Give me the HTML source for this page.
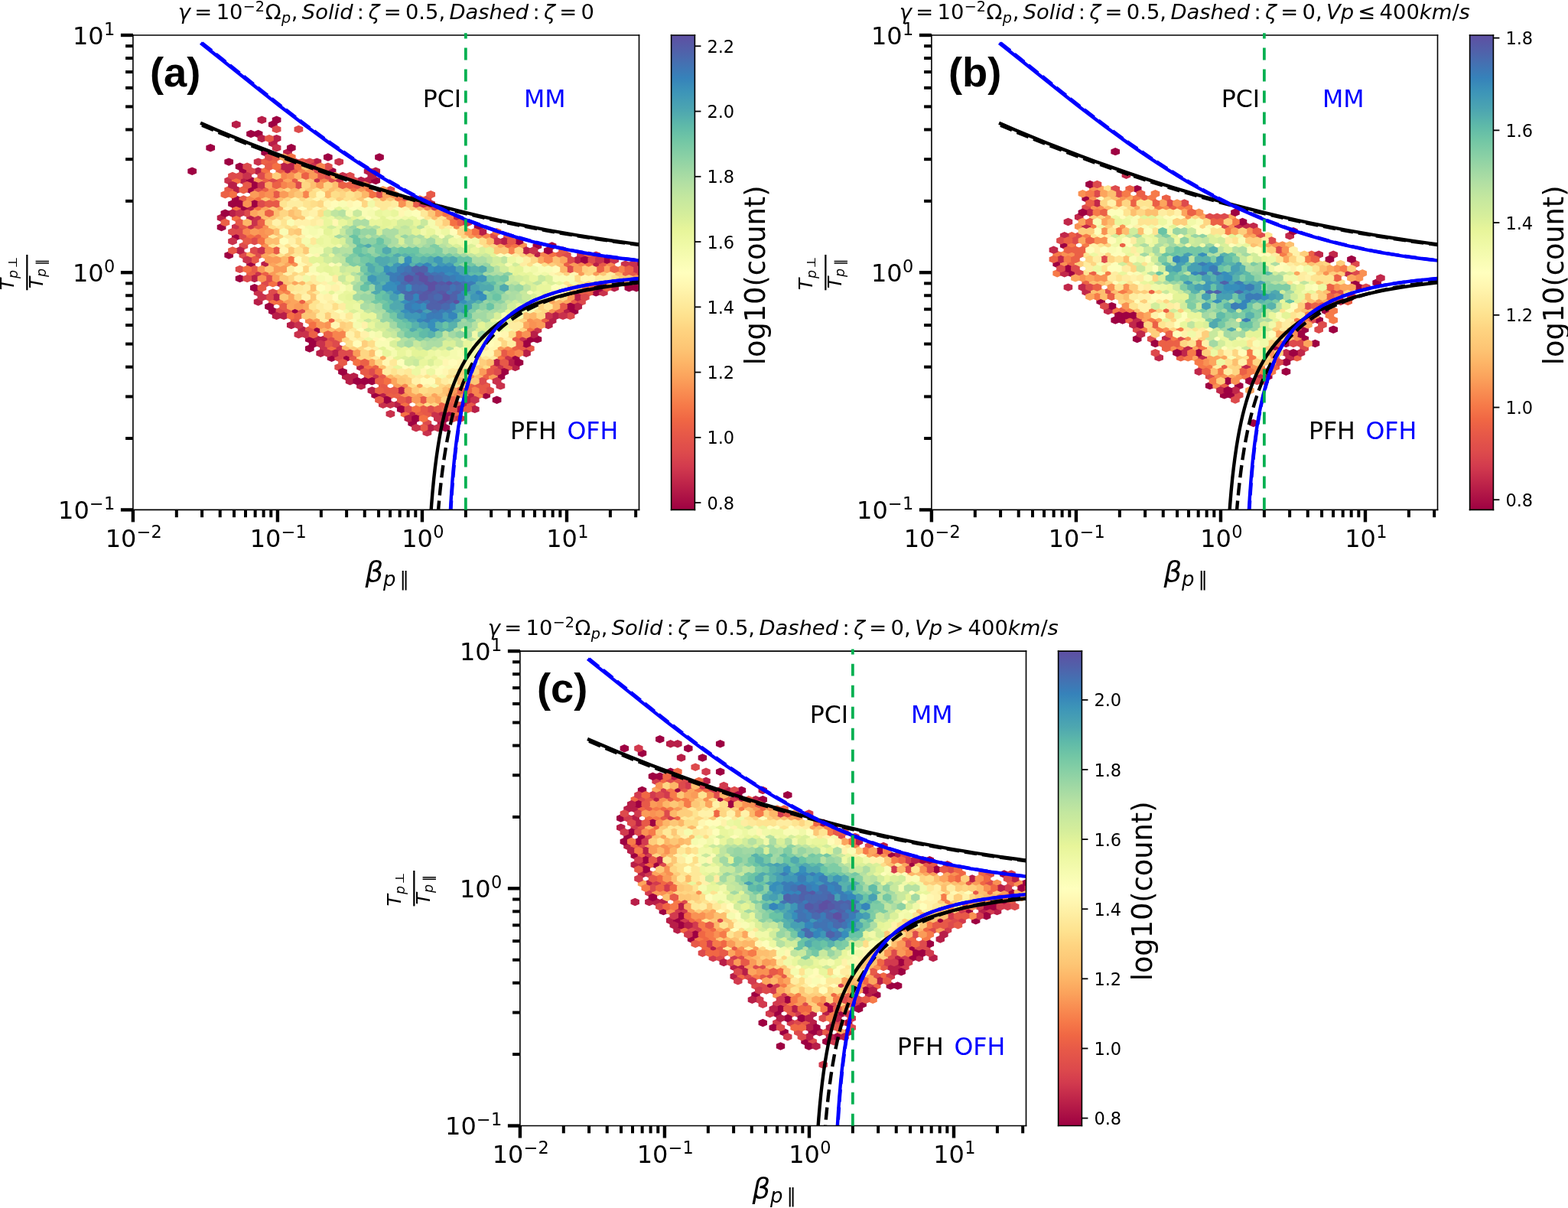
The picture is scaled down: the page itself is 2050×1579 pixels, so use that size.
<!DOCTYPE html><html><head><meta charset="utf-8"><style>html,body{margin:0;padding:0;background:#fff}svg{display:block}</style></head><body><svg xmlns="http://www.w3.org/2000/svg" xmlns:xlink="http://www.w3.org/1999/xlink" width="2050" height="1579" viewBox="0 0 2050 1579" version="1.1"> <defs><linearGradient id="cg_a" x1="0" y1="0" x2="0" y2="1"><stop offset="0" stop-color="#5e4fa2"/><stop offset="0.03" stop-color="#525fa9"/><stop offset="0.06" stop-color="#4471b2"/><stop offset="0.09" stop-color="#3682ba"/><stop offset="0.12" stop-color="#3d95b8"/><stop offset="0.16" stop-color="#4ea7b0"/><stop offset="0.19" stop-color="#5eb9a9"/><stop offset="0.22" stop-color="#71c6a5"/><stop offset="0.25" stop-color="#86cfa5"/><stop offset="0.28" stop-color="#9cd7a4"/><stop offset="0.31" stop-color="#b1dfa3"/><stop offset="0.34" stop-color="#c3e79f"/><stop offset="0.38" stop-color="#d6ee9b"/><stop offset="0.41" stop-color="#e7f59a"/><stop offset="0.44" stop-color="#eff9a6"/><stop offset="0.47" stop-color="#f7fcb2"/><stop offset="0.5" stop-color="#ffffbe"/><stop offset="0.53" stop-color="#fff6b0"/><stop offset="0.56" stop-color="#feec9f"/><stop offset="0.59" stop-color="#fee28f"/><stop offset="0.62" stop-color="#fed481"/><stop offset="0.66" stop-color="#fdc574"/><stop offset="0.69" stop-color="#fdb567"/><stop offset="0.72" stop-color="#fba35c"/><stop offset="0.75" stop-color="#f98e52"/><stop offset="0.78" stop-color="#f67a49"/><stop offset="0.81" stop-color="#f06744"/><stop offset="0.84" stop-color="#e75948"/><stop offset="0.88" stop-color="#dd4a4c"/><stop offset="0.91" stop-color="#d23a4e"/><stop offset="0.94" stop-color="#c1274a"/><stop offset="0.97" stop-color="#af1446"/><stop offset="1" stop-color="#9e0142"/></linearGradient><linearGradient id="cg_b" x1="0" y1="0" x2="0" y2="1"><stop offset="0" stop-color="#5e4fa2"/><stop offset="0.03" stop-color="#525fa9"/><stop offset="0.06" stop-color="#4471b2"/><stop offset="0.09" stop-color="#3682ba"/><stop offset="0.12" stop-color="#3d95b8"/><stop offset="0.16" stop-color="#4ea7b0"/><stop offset="0.19" stop-color="#5eb9a9"/><stop offset="0.22" stop-color="#71c6a5"/><stop offset="0.25" stop-color="#86cfa5"/><stop offset="0.28" stop-color="#9cd7a4"/><stop offset="0.31" stop-color="#b1dfa3"/><stop offset="0.34" stop-color="#c3e79f"/><stop offset="0.38" stop-color="#d6ee9b"/><stop offset="0.41" stop-color="#e7f59a"/><stop offset="0.44" stop-color="#eff9a6"/><stop offset="0.47" stop-color="#f7fcb2"/><stop offset="0.5" stop-color="#ffffbe"/><stop offset="0.53" stop-color="#fff6b0"/><stop offset="0.56" stop-color="#feec9f"/><stop offset="0.59" stop-color="#fee28f"/><stop offset="0.62" stop-color="#fed481"/><stop offset="0.66" stop-color="#fdc574"/><stop offset="0.69" stop-color="#fdb567"/><stop offset="0.72" stop-color="#fba35c"/><stop offset="0.75" stop-color="#f98e52"/><stop offset="0.78" stop-color="#f67a49"/><stop offset="0.81" stop-color="#f06744"/><stop offset="0.84" stop-color="#e75948"/><stop offset="0.88" stop-color="#dd4a4c"/><stop offset="0.91" stop-color="#d23a4e"/><stop offset="0.94" stop-color="#c1274a"/><stop offset="0.97" stop-color="#af1446"/><stop offset="1" stop-color="#9e0142"/></linearGradient><linearGradient id="cg_c" x1="0" y1="0" x2="0" y2="1"><stop offset="0" stop-color="#5e4fa2"/><stop offset="0.03" stop-color="#525fa9"/><stop offset="0.06" stop-color="#4471b2"/><stop offset="0.09" stop-color="#3682ba"/><stop offset="0.12" stop-color="#3d95b8"/><stop offset="0.16" stop-color="#4ea7b0"/><stop offset="0.19" stop-color="#5eb9a9"/><stop offset="0.22" stop-color="#71c6a5"/><stop offset="0.25" stop-color="#86cfa5"/><stop offset="0.28" stop-color="#9cd7a4"/><stop offset="0.31" stop-color="#b1dfa3"/><stop offset="0.34" stop-color="#c3e79f"/><stop offset="0.38" stop-color="#d6ee9b"/><stop offset="0.41" stop-color="#e7f59a"/><stop offset="0.44" stop-color="#eff9a6"/><stop offset="0.47" stop-color="#f7fcb2"/><stop offset="0.5" stop-color="#ffffbe"/><stop offset="0.53" stop-color="#fff6b0"/><stop offset="0.56" stop-color="#feec9f"/><stop offset="0.59" stop-color="#fee28f"/><stop offset="0.62" stop-color="#fed481"/><stop offset="0.66" stop-color="#fdc574"/><stop offset="0.69" stop-color="#fdb567"/><stop offset="0.72" stop-color="#fba35c"/><stop offset="0.75" stop-color="#f98e52"/><stop offset="0.78" stop-color="#f67a49"/><stop offset="0.81" stop-color="#f06744"/><stop offset="0.84" stop-color="#e75948"/><stop offset="0.88" stop-color="#dd4a4c"/><stop offset="0.91" stop-color="#d23a4e"/><stop offset="0.94" stop-color="#c1274a"/><stop offset="0.97" stop-color="#af1446"/><stop offset="1" stop-color="#9e0142"/></linearGradient><clipPath id="clip_a"><rect x="173.90" y="46.00" width="661.60" height="620.40"/></clipPath><path id="hxa" d="M1.219 -0.45 0 -0.85 -1.22 -0.45 -1.22 0.45 0 0.85 1.22 0.45z"/><marker id="ha0b81e48" overflow="visible"><use href="#hxa" fill="#b81e48"/></marker><marker id="ha09e0142" overflow="visible"><use href="#hxa" fill="#9e0142"/></marker><marker id="ha0c9314c" overflow="visible"><use href="#hxa" fill="#c9314c"/></marker><marker id="ha0eb6046" overflow="visible"><use href="#hxa" fill="#eb6046"/></marker><marker id="ha0f99153" overflow="visible"><use href="#hxa" fill="#f99153"/></marker><marker id="ha0e75948" overflow="visible"><use href="#hxa" fill="#e75948"/></marker><marker id="ha0dd4a4c" overflow="visible"><use href="#hxa" fill="#dd4a4c"/></marker><marker id="ha0f47044" overflow="visible"><use href="#hxa" fill="#f47044"/></marker><marker id="ha0f7844e" overflow="visible"><use href="#hxa" fill="#f7844e"/></marker><marker id="ha0fa9b58" overflow="visible"><use href="#hxa" fill="#fa9b58"/></marker><marker id="ha0fca55d" overflow="visible"><use href="#hxa" fill="#fca55d"/></marker><marker id="ha0fede89" overflow="visible"><use href="#hxa" fill="#fede89"/></marker><marker id="ha0fdc776" overflow="visible"><use href="#hxa" fill="#fdc776"/></marker><marker id="ha0fdbf6f" overflow="visible"><use href="#hxa" fill="#fdbf6f"/></marker><marker id="ha0fed683" overflow="visible"><use href="#hxa" fill="#fed683"/></marker><marker id="ha0fdb768" overflow="visible"><use href="#hxa" fill="#fdb768"/></marker><marker id="ha0fee491" overflow="visible"><use href="#hxa" fill="#fee491"/></marker><marker id="ha0fece7c" overflow="visible"><use href="#hxa" fill="#fece7c"/></marker><marker id="ha0fff2aa" overflow="visible"><use href="#hxa" fill="#fff2aa"/></marker><marker id="ha0fee999" overflow="visible"><use href="#hxa" fill="#fee999"/></marker><marker id="ha0fff7b2" overflow="visible"><use href="#hxa" fill="#fff7b2"/></marker><marker id="ha0feeda1" overflow="visible"><use href="#hxa" fill="#feeda1"/></marker><marker id="ha0fffcba" overflow="visible"><use href="#hxa" fill="#fffcba"/></marker><marker id="ha0e4f498" overflow="visible"><use href="#hxa" fill="#e4f498"/></marker><marker id="ha0f1f9a9" overflow="visible"><use href="#hxa" fill="#f1f9a9"/></marker><marker id="ha0fdfebb" overflow="visible"><use href="#hxa" fill="#fdfebb"/></marker><marker id="ha0f9fcb5" overflow="visible"><use href="#hxa" fill="#f9fcb5"/></marker><marker id="ha0e9f69d" overflow="visible"><use href="#hxa" fill="#e9f69d"/></marker><marker id="ha0edf8a3" overflow="visible"><use href="#hxa" fill="#edf8a3"/></marker><marker id="ha0d1ed9c" overflow="visible"><use href="#hxa" fill="#d1ed9c"/></marker><marker id="ha0c8e99e" overflow="visible"><use href="#hxa" fill="#c8e99e"/></marker><marker id="ha0f5fbaf" overflow="visible"><use href="#hxa" fill="#f5fbaf"/></marker><marker id="ha0b5e1a2" overflow="visible"><use href="#hxa" fill="#b5e1a2"/></marker><marker id="ha097d5a4" overflow="visible"><use href="#hxa" fill="#97d5a4"/></marker><marker id="ha0daf09a" overflow="visible"><use href="#hxa" fill="#daf09a"/></marker><marker id="ha0bfe5a0" overflow="visible"><use href="#hxa" fill="#bfe5a0"/></marker><marker id="ha0a2d9a4" overflow="visible"><use href="#hxa" fill="#a2d9a4"/></marker><marker id="ha069c3a5" overflow="visible"><use href="#hxa" fill="#69c3a5"/></marker><marker id="ha0acdda4" overflow="visible"><use href="#hxa" fill="#acdda4"/></marker><marker id="ha060bba8" overflow="visible"><use href="#hxa" fill="#60bba8"/></marker><marker id="ha050a9af" overflow="visible"><use href="#hxa" fill="#50a9af"/></marker><marker id="ha074c7a5" overflow="visible"><use href="#hxa" fill="#74c7a5"/></marker><marker id="ha07ecca5" overflow="visible"><use href="#hxa" fill="#7ecca5"/></marker><marker id="ha08cd1a4" overflow="visible"><use href="#hxa" fill="#8cd1a4"/></marker><marker id="ha058b2ac" overflow="visible"><use href="#hxa" fill="#58b2ac"/></marker><marker id="ha03f97b7" overflow="visible"><use href="#hxa" fill="#3f97b7"/></marker><marker id="ha03585bb" overflow="visible"><use href="#hxa" fill="#3585bb"/></marker><marker id="ha03b7cb7" overflow="visible"><use href="#hxa" fill="#3b7cb7"/></marker><marker id="ha0496aaf" overflow="visible"><use href="#hxa" fill="#496aaf"/></marker><marker id="ha05e4fa2" overflow="visible"><use href="#hxa" fill="#5e4fa2"/></marker><marker id="ha04273b3" overflow="visible"><use href="#hxa" fill="#4273b3"/></marker><marker id="ha0378ebb" overflow="visible"><use href="#hxa" fill="#378ebb"/></marker><marker id="ha047a0b3" overflow="visible"><use href="#hxa" fill="#47a0b3"/></marker><marker id="ha05061aa" overflow="visible"><use href="#hxa" fill="#5061aa"/></marker><marker id="ha05758a6" overflow="visible"><use href="#hxa" fill="#5758a6"/></marker><marker id="ha1b81e48" overflow="visible"><use href="#hxa" fill="#b81e48"/></marker><marker id="ha19e0142" overflow="visible"><use href="#hxa" fill="#9e0142"/></marker><marker id="ha1dd4a4c" overflow="visible"><use href="#hxa" fill="#dd4a4c"/></marker><marker id="ha1e75948" overflow="visible"><use href="#hxa" fill="#e75948"/></marker><marker id="ha1c9314c" overflow="visible"><use href="#hxa" fill="#c9314c"/></marker><marker id="ha1fca55d" overflow="visible"><use href="#hxa" fill="#fca55d"/></marker><marker id="ha1f47044" overflow="visible"><use href="#hxa" fill="#f47044"/></marker><marker id="ha1fdbf6f" overflow="visible"><use href="#hxa" fill="#fdbf6f"/></marker><marker id="ha1f7844e" overflow="visible"><use href="#hxa" fill="#f7844e"/></marker><marker id="ha1fece7c" overflow="visible"><use href="#hxa" fill="#fece7c"/></marker><marker id="ha1f99153" overflow="visible"><use href="#hxa" fill="#f99153"/></marker><marker id="ha1fdb768" overflow="visible"><use href="#hxa" fill="#fdb768"/></marker><marker id="ha1eb6046" overflow="visible"><use href="#hxa" fill="#eb6046"/></marker><marker id="ha1fa9b58" overflow="visible"><use href="#hxa" fill="#fa9b58"/></marker><marker id="ha1fed683" overflow="visible"><use href="#hxa" fill="#fed683"/></marker><marker id="ha1fdc776" overflow="visible"><use href="#hxa" fill="#fdc776"/></marker><marker id="ha1fede89" overflow="visible"><use href="#hxa" fill="#fede89"/></marker><marker id="ha1fff7b2" overflow="visible"><use href="#hxa" fill="#fff7b2"/></marker><marker id="ha1fee491" overflow="visible"><use href="#hxa" fill="#fee491"/></marker><marker id="ha1feeda1" overflow="visible"><use href="#hxa" fill="#feeda1"/></marker><marker id="ha1fffcba" overflow="visible"><use href="#hxa" fill="#fffcba"/></marker><marker id="ha1f9fcb5" overflow="visible"><use href="#hxa" fill="#f9fcb5"/></marker><marker id="ha1f1f9a9" overflow="visible"><use href="#hxa" fill="#f1f9a9"/></marker><marker id="ha1fee999" overflow="visible"><use href="#hxa" fill="#fee999"/></marker><marker id="ha1fff2aa" overflow="visible"><use href="#hxa" fill="#fff2aa"/></marker><marker id="ha1daf09a" overflow="visible"><use href="#hxa" fill="#daf09a"/></marker><marker id="ha1bfe5a0" overflow="visible"><use href="#hxa" fill="#bfe5a0"/></marker><marker id="ha1b5e1a2" overflow="visible"><use href="#hxa" fill="#b5e1a2"/></marker><marker id="ha1f5fbaf" overflow="visible"><use href="#hxa" fill="#f5fbaf"/></marker><marker id="ha1c8e99e" overflow="visible"><use href="#hxa" fill="#c8e99e"/></marker><marker id="ha1e9f69d" overflow="visible"><use href="#hxa" fill="#e9f69d"/></marker><marker id="ha1edf8a3" overflow="visible"><use href="#hxa" fill="#edf8a3"/></marker><marker id="ha1fdfebb" overflow="visible"><use href="#hxa" fill="#fdfebb"/></marker><marker id="ha1acdda4" overflow="visible"><use href="#hxa" fill="#acdda4"/></marker><marker id="ha1e4f498" overflow="visible"><use href="#hxa" fill="#e4f498"/></marker><marker id="ha1d1ed9c" overflow="visible"><use href="#hxa" fill="#d1ed9c"/></marker><marker id="ha1a2d9a4" overflow="visible"><use href="#hxa" fill="#a2d9a4"/></marker><marker id="ha17ecca5" overflow="visible"><use href="#hxa" fill="#7ecca5"/></marker><marker id="ha197d5a4" overflow="visible"><use href="#hxa" fill="#97d5a4"/></marker><marker id="ha169c3a5" overflow="visible"><use href="#hxa" fill="#69c3a5"/></marker><marker id="ha18cd1a4" overflow="visible"><use href="#hxa" fill="#8cd1a4"/></marker><marker id="ha174c7a5" overflow="visible"><use href="#hxa" fill="#74c7a5"/></marker><marker id="ha150a9af" overflow="visible"><use href="#hxa" fill="#50a9af"/></marker><marker id="ha158b2ac" overflow="visible"><use href="#hxa" fill="#58b2ac"/></marker><marker id="ha1378ebb" overflow="visible"><use href="#hxa" fill="#378ebb"/></marker><marker id="ha160bba8" overflow="visible"><use href="#hxa" fill="#60bba8"/></marker><marker id="ha13f97b7" overflow="visible"><use href="#hxa" fill="#3f97b7"/></marker><marker id="ha13b7cb7" overflow="visible"><use href="#hxa" fill="#3b7cb7"/></marker><marker id="ha14273b3" overflow="visible"><use href="#hxa" fill="#4273b3"/></marker><marker id="ha15061aa" overflow="visible"><use href="#hxa" fill="#5061aa"/></marker><marker id="ha13585bb" overflow="visible"><use href="#hxa" fill="#3585bb"/></marker><marker id="ha147a0b3" overflow="visible"><use href="#hxa" fill="#47a0b3"/></marker><marker id="ha15e4fa2" overflow="visible"><use href="#hxa" fill="#5e4fa2"/></marker><marker id="ha1496aaf" overflow="visible"><use href="#hxa" fill="#496aaf"/></marker><marker id="ha15758a6" overflow="visible"><use href="#hxa" fill="#5758a6"/></marker><clipPath id="clip_b"><rect x="1217.90" y="46.00" width="661.60" height="620.40"/></clipPath><path id="hxb" d="M1.221 -0.45 0 -0.85 -1.22 -0.45 -1.22 0.45 0 0.85 1.22 0.45z"/><marker id="hb09e0142" overflow="visible"><use href="#hxb" fill="#9e0142"/></marker><marker id="hb0f99153" overflow="visible"><use href="#hxb" fill="#f99153"/></marker><marker id="hb0fca55d" overflow="visible"><use href="#hxb" fill="#fca55d"/></marker><marker id="hb0fee491" overflow="visible"><use href="#hxb" fill="#fee491"/></marker><marker id="hb0dd4a4c" overflow="visible"><use href="#hxb" fill="#dd4a4c"/></marker><marker id="hb0eb6046" overflow="visible"><use href="#hxb" fill="#eb6046"/></marker><marker id="hb0fffcba" overflow="visible"><use href="#hxb" fill="#fffcba"/></marker><marker id="hb0fed683" overflow="visible"><use href="#hxb" fill="#fed683"/></marker><marker id="hb0fdbf6f" overflow="visible"><use href="#hxb" fill="#fdbf6f"/></marker><marker id="hb0f67a49" overflow="visible"><use href="#hxb" fill="#f67a49"/></marker><marker id="hb0fff2aa" overflow="visible"><use href="#hxb" fill="#fff2aa"/></marker><marker id="hb0feeda1" overflow="visible"><use href="#hxb" fill="#feeda1"/></marker><marker id="hb0c1274a" overflow="visible"><use href="#hxb" fill="#c1274a"/></marker><marker id="hb0fece7c" overflow="visible"><use href="#hxb" fill="#fece7c"/></marker><marker id="hb0edf8a3" overflow="visible"><use href="#hxb" fill="#edf8a3"/></marker><marker id="hb0f1f9a9" overflow="visible"><use href="#hxb" fill="#f1f9a9"/></marker><marker id="hb0f9fcb5" overflow="visible"><use href="#hxb" fill="#f9fcb5"/></marker><marker id="hb0e4f498" overflow="visible"><use href="#hxb" fill="#e4f498"/></marker><marker id="hb0fdfebb" overflow="visible"><use href="#hxb" fill="#fdfebb"/></marker><marker id="hb0d1ed9c" overflow="visible"><use href="#hxb" fill="#d1ed9c"/></marker><marker id="hb0c8e99e" overflow="visible"><use href="#hxb" fill="#c8e99e"/></marker><marker id="hb0a2d9a4" overflow="visible"><use href="#hxb" fill="#a2d9a4"/></marker><marker id="hb0e9f69d" overflow="visible"><use href="#hxb" fill="#e9f69d"/></marker><marker id="hb0acdda4" overflow="visible"><use href="#hxb" fill="#acdda4"/></marker><marker id="hb07ecca5" overflow="visible"><use href="#hxb" fill="#7ecca5"/></marker><marker id="hb0daf09a" overflow="visible"><use href="#hxb" fill="#daf09a"/></marker><marker id="hb097d5a4" overflow="visible"><use href="#hxb" fill="#97d5a4"/></marker><marker id="hb08cd1a4" overflow="visible"><use href="#hxb" fill="#8cd1a4"/></marker><marker id="hb0bfe5a0" overflow="visible"><use href="#hxb" fill="#bfe5a0"/></marker><marker id="hb069c3a5" overflow="visible"><use href="#hxb" fill="#69c3a5"/></marker><marker id="hb074c7a5" overflow="visible"><use href="#hxb" fill="#74c7a5"/></marker><marker id="hb047a0b3" overflow="visible"><use href="#hxb" fill="#47a0b3"/></marker><marker id="hb0378ebb" overflow="visible"><use href="#hxb" fill="#378ebb"/></marker><marker id="hb0b5e1a2" overflow="visible"><use href="#hxb" fill="#b5e1a2"/></marker><marker id="hb058b2ac" overflow="visible"><use href="#hxb" fill="#58b2ac"/></marker><marker id="hb060bba8" overflow="visible"><use href="#hxb" fill="#60bba8"/></marker><marker id="hb03b7cb7" overflow="visible"><use href="#hxb" fill="#3b7cb7"/></marker><marker id="hb03f97b7" overflow="visible"><use href="#hxb" fill="#3f97b7"/></marker><marker id="hb03585bb" overflow="visible"><use href="#hxb" fill="#3585bb"/></marker><marker id="hb04273b3" overflow="visible"><use href="#hxb" fill="#4273b3"/></marker><marker id="hb050a9af" overflow="visible"><use href="#hxb" fill="#50a9af"/></marker><marker id="hb05061aa" overflow="visible"><use href="#hxb" fill="#5061aa"/></marker><marker id="hb0496aaf" overflow="visible"><use href="#hxb" fill="#496aaf"/></marker><marker id="hb1c1274a" overflow="visible"><use href="#hxb" fill="#c1274a"/></marker><marker id="hb19e0142" overflow="visible"><use href="#hxb" fill="#9e0142"/></marker><marker id="hb1dd4a4c" overflow="visible"><use href="#hxb" fill="#dd4a4c"/></marker><marker id="hb1f99153" overflow="visible"><use href="#hxb" fill="#f99153"/></marker><marker id="hb1f67a49" overflow="visible"><use href="#hxb" fill="#f67a49"/></marker><marker id="hb1fca55d" overflow="visible"><use href="#hxb" fill="#fca55d"/></marker><marker id="hb1fdbf6f" overflow="visible"><use href="#hxb" fill="#fdbf6f"/></marker><marker id="hb1eb6046" overflow="visible"><use href="#hxb" fill="#eb6046"/></marker><marker id="hb1fed683" overflow="visible"><use href="#hxb" fill="#fed683"/></marker><marker id="hb1fff2aa" overflow="visible"><use href="#hxb" fill="#fff2aa"/></marker><marker id="hb1fee491" overflow="visible"><use href="#hxb" fill="#fee491"/></marker><marker id="hb1fdfebb" overflow="visible"><use href="#hxb" fill="#fdfebb"/></marker><marker id="hb1feeda1" overflow="visible"><use href="#hxb" fill="#feeda1"/></marker><marker id="hb1f9fcb5" overflow="visible"><use href="#hxb" fill="#f9fcb5"/></marker><marker id="hb1e9f69d" overflow="visible"><use href="#hxb" fill="#e9f69d"/></marker><marker id="hb1edf8a3" overflow="visible"><use href="#hxb" fill="#edf8a3"/></marker><marker id="hb1fece7c" overflow="visible"><use href="#hxb" fill="#fece7c"/></marker><marker id="hb1f1f9a9" overflow="visible"><use href="#hxb" fill="#f1f9a9"/></marker><marker id="hb1d1ed9c" overflow="visible"><use href="#hxb" fill="#d1ed9c"/></marker><marker id="hb169c3a5" overflow="visible"><use href="#hxb" fill="#69c3a5"/></marker><marker id="hb197d5a4" overflow="visible"><use href="#hxb" fill="#97d5a4"/></marker><marker id="hb1a2d9a4" overflow="visible"><use href="#hxb" fill="#a2d9a4"/></marker><marker id="hb1c8e99e" overflow="visible"><use href="#hxb" fill="#c8e99e"/></marker><marker id="hb1fffcba" overflow="visible"><use href="#hxb" fill="#fffcba"/></marker><marker id="hb1b5e1a2" overflow="visible"><use href="#hxb" fill="#b5e1a2"/></marker><marker id="hb18cd1a4" overflow="visible"><use href="#hxb" fill="#8cd1a4"/></marker><marker id="hb1bfe5a0" overflow="visible"><use href="#hxb" fill="#bfe5a0"/></marker><marker id="hb1daf09a" overflow="visible"><use href="#hxb" fill="#daf09a"/></marker><marker id="hb174c7a5" overflow="visible"><use href="#hxb" fill="#74c7a5"/></marker><marker id="hb17ecca5" overflow="visible"><use href="#hxb" fill="#7ecca5"/></marker><marker id="hb158b2ac" overflow="visible"><use href="#hxb" fill="#58b2ac"/></marker><marker id="hb1acdda4" overflow="visible"><use href="#hxb" fill="#acdda4"/></marker><marker id="hb13585bb" overflow="visible"><use href="#hxb" fill="#3585bb"/></marker><marker id="hb13f97b7" overflow="visible"><use href="#hxb" fill="#3f97b7"/></marker><marker id="hb160bba8" overflow="visible"><use href="#hxb" fill="#60bba8"/></marker><marker id="hb150a9af" overflow="visible"><use href="#hxb" fill="#50a9af"/></marker><marker id="hb147a0b3" overflow="visible"><use href="#hxb" fill="#47a0b3"/></marker><marker id="hb1378ebb" overflow="visible"><use href="#hxb" fill="#378ebb"/></marker><marker id="hb13b7cb7" overflow="visible"><use href="#hxb" fill="#3b7cb7"/></marker><marker id="hb1e4f498" overflow="visible"><use href="#hxb" fill="#e4f498"/></marker><clipPath id="clip_c"><rect x="679.90" y="851.10" width="661.60" height="620.40"/></clipPath><path id="hxc" d="M1.226 -0.45 0 -0.86 -1.23 -0.45 -1.23 0.45 0 0.86 1.23 0.45z"/><marker id="hc0b81e48" overflow="visible"><use href="#hxc" fill="#b81e48"/></marker><marker id="hc09e0142" overflow="visible"><use href="#hxc" fill="#9e0142"/></marker><marker id="hc0f06744" overflow="visible"><use href="#hxc" fill="#f06744"/></marker><marker id="hc0d23a4e" overflow="visible"><use href="#hxc" fill="#d23a4e"/></marker><marker id="hc0dd4a4c" overflow="visible"><use href="#hxc" fill="#dd4a4c"/></marker><marker id="hc0e75948" overflow="visible"><use href="#hxc" fill="#e75948"/></marker><marker id="hc0fca55d" overflow="visible"><use href="#hxc" fill="#fca55d"/></marker><marker id="hc0f67a49" overflow="visible"><use href="#hxc" fill="#f67a49"/></marker><marker id="hc0f99153" overflow="visible"><use href="#hxc" fill="#f99153"/></marker><marker id="hc0fece7c" overflow="visible"><use href="#hxc" fill="#fece7c"/></marker><marker id="hc0fede89" overflow="visible"><use href="#hxc" fill="#fede89"/></marker><marker id="hc0fa9b58" overflow="visible"><use href="#hxc" fill="#fa9b58"/></marker><marker id="hc0fee999" overflow="visible"><use href="#hxc" fill="#fee999"/></marker><marker id="hc0feeda1" overflow="visible"><use href="#hxc" fill="#feeda1"/></marker><marker id="hc0fed683" overflow="visible"><use href="#hxc" fill="#fed683"/></marker><marker id="hc0fdbf6f" overflow="visible"><use href="#hxc" fill="#fdbf6f"/></marker><marker id="hc0fdc776" overflow="visible"><use href="#hxc" fill="#fdc776"/></marker><marker id="hc0f9fcb5" overflow="visible"><use href="#hxc" fill="#f9fcb5"/></marker><marker id="hc0fdfebb" overflow="visible"><use href="#hxc" fill="#fdfebb"/></marker><marker id="hc0f1f9a9" overflow="visible"><use href="#hxc" fill="#f1f9a9"/></marker><marker id="hc0fee491" overflow="visible"><use href="#hxc" fill="#fee491"/></marker><marker id="hc0fdb768" overflow="visible"><use href="#hxc" fill="#fdb768"/></marker><marker id="hc0f5fbaf" overflow="visible"><use href="#hxc" fill="#f5fbaf"/></marker><marker id="hc0e4f498" overflow="visible"><use href="#hxc" fill="#e4f498"/></marker><marker id="hc0fff2aa" overflow="visible"><use href="#hxc" fill="#fff2aa"/></marker><marker id="hc0e9f69d" overflow="visible"><use href="#hxc" fill="#e9f69d"/></marker><marker id="hc0d1ed9c" overflow="visible"><use href="#hxc" fill="#d1ed9c"/></marker><marker id="hc0edf8a3" overflow="visible"><use href="#hxc" fill="#edf8a3"/></marker><marker id="hc0fffcba" overflow="visible"><use href="#hxc" fill="#fffcba"/></marker><marker id="hc0b5e1a2" overflow="visible"><use href="#hxc" fill="#b5e1a2"/></marker><marker id="hc0daf09a" overflow="visible"><use href="#hxc" fill="#daf09a"/></marker><marker id="hc0fff7b2" overflow="visible"><use href="#hxc" fill="#fff7b2"/></marker><marker id="hc0c8e99e" overflow="visible"><use href="#hxc" fill="#c8e99e"/></marker><marker id="hc0acdda4" overflow="visible"><use href="#hxc" fill="#acdda4"/></marker><marker id="hc097d5a4" overflow="visible"><use href="#hxc" fill="#97d5a4"/></marker><marker id="hc08cd1a4" overflow="visible"><use href="#hxc" fill="#8cd1a4"/></marker><marker id="hc0bfe5a0" overflow="visible"><use href="#hxc" fill="#bfe5a0"/></marker><marker id="hc058b2ac" overflow="visible"><use href="#hxc" fill="#58b2ac"/></marker><marker id="hc074c7a5" overflow="visible"><use href="#hxc" fill="#74c7a5"/></marker><marker id="hc069c3a5" overflow="visible"><use href="#hxc" fill="#69c3a5"/></marker><marker id="hc0a2d9a4" overflow="visible"><use href="#hxc" fill="#a2d9a4"/></marker><marker id="hc060bba8" overflow="visible"><use href="#hxc" fill="#60bba8"/></marker><marker id="hc07ecca5" overflow="visible"><use href="#hxc" fill="#7ecca5"/></marker><marker id="hc050a9af" overflow="visible"><use href="#hxc" fill="#50a9af"/></marker><marker id="hc047a0b3" overflow="visible"><use href="#hxc" fill="#47a0b3"/></marker><marker id="hc03b7cb7" overflow="visible"><use href="#hxc" fill="#3b7cb7"/></marker><marker id="hc03585bb" overflow="visible"><use href="#hxc" fill="#3585bb"/></marker><marker id="hc0378ebb" overflow="visible"><use href="#hxc" fill="#378ebb"/></marker><marker id="hc03f97b7" overflow="visible"><use href="#hxc" fill="#3f97b7"/></marker><marker id="hc05061aa" overflow="visible"><use href="#hxc" fill="#5061aa"/></marker><marker id="hc05758a6" overflow="visible"><use href="#hxc" fill="#5758a6"/></marker><marker id="hc04273b3" overflow="visible"><use href="#hxc" fill="#4273b3"/></marker><marker id="hc0496aaf" overflow="visible"><use href="#hxc" fill="#496aaf"/></marker><marker id="hc05e4fa2" overflow="visible"><use href="#hxc" fill="#5e4fa2"/></marker><marker id="hc19e0142" overflow="visible"><use href="#hxc" fill="#9e0142"/></marker><marker id="hc1d23a4e" overflow="visible"><use href="#hxc" fill="#d23a4e"/></marker><marker id="hc1b81e48" overflow="visible"><use href="#hxc" fill="#b81e48"/></marker><marker id="hc1dd4a4c" overflow="visible"><use href="#hxc" fill="#dd4a4c"/></marker><marker id="hc1f06744" overflow="visible"><use href="#hxc" fill="#f06744"/></marker><marker id="hc1f99153" overflow="visible"><use href="#hxc" fill="#f99153"/></marker><marker id="hc1fed683" overflow="visible"><use href="#hxc" fill="#fed683"/></marker><marker id="hc1fdb768" overflow="visible"><use href="#hxc" fill="#fdb768"/></marker><marker id="hc1fdbf6f" overflow="visible"><use href="#hxc" fill="#fdbf6f"/></marker><marker id="hc1f67a49" overflow="visible"><use href="#hxc" fill="#f67a49"/></marker><marker id="hc1fdc776" overflow="visible"><use href="#hxc" fill="#fdc776"/></marker><marker id="hc1fca55d" overflow="visible"><use href="#hxc" fill="#fca55d"/></marker><marker id="hc1fa9b58" overflow="visible"><use href="#hxc" fill="#fa9b58"/></marker><marker id="hc1fee491" overflow="visible"><use href="#hxc" fill="#fee491"/></marker><marker id="hc1e75948" overflow="visible"><use href="#hxc" fill="#e75948"/></marker><marker id="hc1fff2aa" overflow="visible"><use href="#hxc" fill="#fff2aa"/></marker><marker id="hc1fede89" overflow="visible"><use href="#hxc" fill="#fede89"/></marker><marker id="hc1fece7c" overflow="visible"><use href="#hxc" fill="#fece7c"/></marker><marker id="hc1fff7b2" overflow="visible"><use href="#hxc" fill="#fff7b2"/></marker><marker id="hc1fdfebb" overflow="visible"><use href="#hxc" fill="#fdfebb"/></marker><marker id="hc1fffcba" overflow="visible"><use href="#hxc" fill="#fffcba"/></marker><marker id="hc1edf8a3" overflow="visible"><use href="#hxc" fill="#edf8a3"/></marker><marker id="hc1e9f69d" overflow="visible"><use href="#hxc" fill="#e9f69d"/></marker><marker id="hc1feeda1" overflow="visible"><use href="#hxc" fill="#feeda1"/></marker><marker id="hc1fee999" overflow="visible"><use href="#hxc" fill="#fee999"/></marker><marker id="hc1f5fbaf" overflow="visible"><use href="#hxc" fill="#f5fbaf"/></marker><marker id="hc1f1f9a9" overflow="visible"><use href="#hxc" fill="#f1f9a9"/></marker><marker id="hc1f9fcb5" overflow="visible"><use href="#hxc" fill="#f9fcb5"/></marker><marker id="hc1d1ed9c" overflow="visible"><use href="#hxc" fill="#d1ed9c"/></marker><marker id="hc1e4f498" overflow="visible"><use href="#hxc" fill="#e4f498"/></marker><marker id="hc1b5e1a2" overflow="visible"><use href="#hxc" fill="#b5e1a2"/></marker><marker id="hc1acdda4" overflow="visible"><use href="#hxc" fill="#acdda4"/></marker><marker id="hc1daf09a" overflow="visible"><use href="#hxc" fill="#daf09a"/></marker><marker id="hc1bfe5a0" overflow="visible"><use href="#hxc" fill="#bfe5a0"/></marker><marker id="hc1a2d9a4" overflow="visible"><use href="#hxc" fill="#a2d9a4"/></marker><marker id="hc197d5a4" overflow="visible"><use href="#hxc" fill="#97d5a4"/></marker><marker id="hc18cd1a4" overflow="visible"><use href="#hxc" fill="#8cd1a4"/></marker><marker id="hc17ecca5" overflow="visible"><use href="#hxc" fill="#7ecca5"/></marker><marker id="hc174c7a5" overflow="visible"><use href="#hxc" fill="#74c7a5"/></marker><marker id="hc158b2ac" overflow="visible"><use href="#hxc" fill="#58b2ac"/></marker><marker id="hc169c3a5" overflow="visible"><use href="#hxc" fill="#69c3a5"/></marker><marker id="hc150a9af" overflow="visible"><use href="#hxc" fill="#50a9af"/></marker><marker id="hc1c8e99e" overflow="visible"><use href="#hxc" fill="#c8e99e"/></marker><marker id="hc1378ebb" overflow="visible"><use href="#hxc" fill="#378ebb"/></marker><marker id="hc160bba8" overflow="visible"><use href="#hxc" fill="#60bba8"/></marker><marker id="hc147a0b3" overflow="visible"><use href="#hxc" fill="#47a0b3"/></marker><marker id="hc13f97b7" overflow="visible"><use href="#hxc" fill="#3f97b7"/></marker><marker id="hc13b7cb7" overflow="visible"><use href="#hxc" fill="#3b7cb7"/></marker><marker id="hc14273b3" overflow="visible"><use href="#hxc" fill="#4273b3"/></marker><marker id="hc15061aa" overflow="visible"><use href="#hxc" fill="#5061aa"/></marker><marker id="hc13585bb" overflow="visible"><use href="#hxc" fill="#3585bb"/></marker><marker id="hc1496aaf" overflow="visible"><use href="#hxc" fill="#496aaf"/></marker><marker id="hc15758a6" overflow="visible"><use href="#hxc" fill="#5758a6"/></marker><marker id="hc15e4fa2" overflow="visible"><use href="#hxc" fill="#5e4fa2"/></marker> <style type="text/css">*{stroke-linejoin: round; stroke-linecap: butt}</style> </defs> <g id="figure_1"> <g id="patch_1"> <path d="M 0 1579  L 2050 1579  L 2050 0  L 0 0  z " style="fill: #ffffff"/> </g> <g id="axes_1"> <g id="axbg_a"> <path d="M 173.9 666.4  L 835.5 666.4  L 835.5 46  L 173.9 46  z " style="fill: #ffffff"/> </g><g clip-path="url(#clip_a)"><g transform="translate(328 199.4) scale(4.8 6.1)"><path d="M-4 -6L6 -2L10 0L18 2L2 4L10 4L32 4L34 4L-2 6L30 6L32 6L-4 8L0 12L-8 14L0 14L56 14L78 22L4 24L94 24L8 28L106 28L2 32L86 34L82 36L14 38L18 40L20 40L30 46L72 46L26 48L28 48L30 50L36 52L60 52L40 54L58 54L44 56L52 56L52 58" fill="none" style="marker:url(#ha0b81e48)"/><path d="M6 -6L0 -4L2 -4L4 0L-6 2L-16 4L-2 4L22 4L0 6L34 6L0 8L-4 10L44 10L-2 12L-8 16L62 16L-4 18L78 20L82 20L-6 22L0 24L106 24L94 30L6 34L12 34L88 34L18 38L16 40L76 40L78 40L16 42L22 44L26 44L72 44L68 48L34 52L64 52L54 56L44 58" fill="none" style="marker:url(#ha09e0142)"/><path d="M2 2L12 2L24 2L-6 6L18 6L24 6L50 12L2 14L-4 16L0 16L90 22L94 22L102 24L104 24L2 26L106 26L2 30L96 30L78 38L74 40L20 42L24 42L70 44L68 46L34 48L68 50L36 54L38 54L38 56L50 56L48 60" fill="none" style="marker:url(#ha0c9314c)"/><path d="M4 2L6 2L8 4L12 4L20 4L4 6L8 6L-2 8L4 8L2 18L70 20L92 22L86 24L0 26L4 26L102 26L88 30L90 30L92 30L14 32L22 36L80 36L72 42L34 46L32 48L64 48L60 50L38 52L40 52L52 54L56 54L46 56" fill="none" style="marker:url(#ha0eb6046)"/><path d="M10 2L2 6L6 8L6 10L4 16L4 18L4 20L74 20L12 24L8 30L82 34L76 36L42 52L58 52" fill="none" style="marker:url(#ha0f99153)"/><path d="M14 2L12 6L-6 8L-2 10L42 10L-2 16L2 16L70 18L84 22L96 24L104 26L96 28L100 28L104 28L88 32L10 34L84 34L12 36L16 38L72 40L74 42L76 42L28 44L66 46L70 46L36 48L36 50L62 50L64 50L54 54L60 54L48 56" fill="none" style="marker:url(#ha0e75948)"/><path d="M16 2L0 4L18 4L6 6L22 6L28 6L2 8L38 8L48 10L52 12L-2 18L66 18L-2 20L-2 22L2 22L86 22L4 28L6 30L90 32L8 34L14 34L22 40L24 44L24 46L48 58" fill="none" style="marker:url(#ha0dd4a4c)"/><path d="M4 4L-4 6L28 8L32 8L2 10L40 10L46 10L-4 12L2 12L-4 14L0 18L72 20L82 22L92 24L6 28L6 32L8 32L76 38L22 42L68 44L32 46L42 54L42 56L56 56" fill="none" style="marker:url(#ha0f47044)"/><path d="M14 4L20 6L0 10L48 12L54 14L56 16L62 18L64 18L80 22L90 24L98 24L10 30L16 36L24 40L70 42L60 48L42 50L56 52L62 52" fill="none" style="marker:url(#ha0f7844e)"/><path d="M16 4L30 8L36 8L60 18L88 24L6 26L90 26L94 26L102 28L10 32L18 36L78 36L68 42L66 48L40 50L46 50L46 52" fill="none" style="marker:url(#ha0fa9b58)"/><path d="M10 6L36 10L4 12L8 12L68 20L0 22L4 22L6 24L10 24L12 28L12 32L82 32L86 32L36 44L44 52L50 52L54 52" fill="none" style="marker:url(#ha0fca55d)"/><path d="M14 6L14 8L28 10L6 16L10 16L58 16L64 20L76 24L80 24L64 46L44 50L48 54" fill="none" style="marker:url(#ha0fede89)"/><path d="M16 6L16 8L4 10L30 10L38 10L6 12L14 14L10 22L96 26L10 28L94 28L98 28L62 46L52 52" fill="none" style="marker:url(#ha0fdc776)"/><path d="M8 8L22 8L26 8L8 10L46 12L4 14L6 14L12 14L50 14L6 22L8 24L84 24L8 26L16 32L16 34L22 38L36 46L56 48" fill="none" style="marker:url(#ha0fdbf6f)"/><path d="M10 8L20 8L10 10L14 10L44 12L8 14L58 18L14 20L66 20L74 22L12 26L92 26L18 34L80 34L74 36L26 38L74 38L26 40L68 40L30 42L30 44L32 44L58 48L52 50L58 50L50 54" fill="none" style="marker:url(#ha0fed683)"/><path d="M12 8L76 22L100 26L14 28L84 32L20 38L24 38L26 42L38 48L62 48L46 54" fill="none" style="marker:url(#ha0fdb768)"/><path d="M18 8L26 10L34 10L16 12L48 14L52 14L12 16L52 16L6 20L10 20L8 22L14 26L16 28L86 28L90 28L18 32L78 34L24 36L72 36L48 48L54 48L56 50" fill="none" style="marker:url(#ha0fee491)"/><path d="M24 8L24 10L12 12L8 18L82 24L86 26L92 28L16 30L28 42L62 44L40 48L42 48L54 50L48 52" fill="none" style="marker:url(#ha0fece7c)"/><path d="M12 10L10 12L38 12L42 12L14 18L8 20L10 26L20 28L28 40L70 40L32 42L58 46L48 50" fill="none" style="marker:url(#ha0fff2aa)"/><path d="M16 10L22 10L20 12L36 12L8 16L12 22L14 22L16 24L18 30L28 38L64 42L64 44L44 48" fill="none" style="marker:url(#ha0fee999)"/><path d="M18 10L18 12L12 20L62 20L18 22L14 24L82 26L88 26L24 28L82 30L20 32L34 40L62 42L66 42L38 44L56 46L60 46" fill="none" style="marker:url(#ha0fff7b2)"/><path d="M20 10L10 14L18 14L54 16L6 18L10 18L12 18L72 22L74 24L84 26L98 26L18 28L12 30L14 30L86 30L22 32L20 34L22 34L20 36L26 36L72 38L30 40L34 42L34 44L66 44L38 46L46 48L50 48" fill="none" style="marker:url(#ha0feeda1)"/><path d="M32 10L14 12L22 12L34 12L46 14L14 16L16 22L22 24L16 26L18 26L84 30L80 32L36 40L58 44L42 46L48 46" fill="none" style="marker:url(#ha0fffcba)"/><path d="M24 12L28 14L36 14L36 16L66 22L22 26L72 26L22 30L80 30L70 36L36 42L40 42L44 42L40 44L50 44" fill="none" style="marker:url(#ha0e4f498)"/><path d="M26 12L42 14L18 16L16 20L18 20L24 20L80 26L22 28L78 32L26 34L74 34L58 40" fill="none" style="marker:url(#ha0f1f9a9)"/><path d="M28 12L16 14L32 14L16 18L68 22L70 22L78 24L24 34L30 38L52 46" fill="none" style="marker:url(#ha0fdfebb)"/><path d="M30 12L32 12L40 12L18 18L52 18L56 18L18 24L20 26L76 30L76 34L28 36L66 40L38 42L44 46L54 46" fill="none" style="marker:url(#ha0f9fcb5)"/><path d="M20 14L20 16L38 16L22 18L48 18L22 22L20 24L24 26L74 26L76 26L74 28L84 28L26 30L28 30L26 32L28 32L70 34L66 36L66 38L68 38L40 40L64 40L42 42L40 46" fill="none" style="marker:url(#ha0e9f69d)"/><path d="M22 14L30 14L44 14L24 16L48 16L20 18L20 20L22 20L58 20L80 28L78 30L30 34L30 36L58 38L32 40L62 40L58 42L60 42L48 44L46 46" fill="none" style="marker:url(#ha0edf8a3)"/><path d="M24 14L22 16L40 16L40 18L62 22L66 24L72 24L72 32L32 38L46 42L50 42L44 44" fill="none" style="marker:url(#ha0d1ed9c)"/><path d="M26 14L50 18L54 18L26 20L54 20L20 22L64 22L70 28L74 30L32 36L54 40" fill="none" style="marker:url(#ha0c8e99e)"/><path d="M34 14L38 14L40 14L16 16L50 16L24 24L70 24L78 26L88 28L20 30L24 30L24 32L68 36L70 38L38 40L56 42L52 44L54 44L56 44L60 44L50 46L52 48L50 50" fill="none" style="marker:url(#ha0f5fbaf)"/><path d="M26 16L32 16L34 16L46 16L26 18L40 20L46 20L52 20L26 24L28 26L28 28L70 30L68 34L40 38L56 38L42 40L54 42" fill="none" style="marker:url(#ha0b5e1a2)"/><path d="M28 16L36 18L42 18L64 24L30 26L64 32L36 36L38 36L48 40" fill="none" style="marker:url(#ha097d5a4)"/><path d="M30 16L44 16L56 20L60 20L68 24L26 26L26 28L76 28L82 28L30 32L76 32L28 34L72 34L34 36L34 38L36 38L62 38L64 38L52 42L42 44L46 44" fill="none" style="marker:url(#ha0daf09a)"/><path d="M42 16L32 18L42 20L24 22L60 22L72 28L78 28L70 32L74 32L32 34L62 36L38 38L56 40L60 40" fill="none" style="marker:url(#ha0bfe5a0)"/><path d="M24 18L30 18L34 18L48 20L26 22L58 22L62 24L64 26L30 28L32 32L64 34L58 36L64 36L50 40" fill="none" style="marker:url(#ha0a2d9a4)"/><path d="M28 18L32 22L36 22L38 22L56 24L36 30L46 38" fill="none" style="marker:url(#ha069c3a5)"/><path d="M38 18L44 18L46 18L28 20L38 20L44 20L66 26L68 26L30 30L32 30L72 30L34 34L36 34L62 34L66 34L60 38L44 40L52 40L48 42" fill="none" style="marker:url(#ha0acdda4)"/><path d="M30 20L30 22L44 22L34 24L38 24L32 26L60 26L62 26L32 28L66 28L38 32L38 34L42 36L48 38" fill="none" style="marker:url(#ha060bba8)"/><path d="M32 20L40 22L32 24L36 24L36 26L62 28L34 30L38 30L40 32L56 36L44 38" fill="none" style="marker:url(#ha050a9af)"/><path d="M34 20L36 20L46 22L48 22L50 22L54 22L60 24L66 30L34 32L36 32L40 36" fill="none" style="marker:url(#ha074c7a5)"/><path d="M50 20L28 22L52 22L28 24L30 24L68 30L60 34L60 36L42 38L46 40" fill="none" style="marker:url(#ha07ecca5)"/><path d="M34 22L56 22L58 24L70 26L68 28L64 30L66 32L68 32" fill="none" style="marker:url(#ha08cd1a4)"/><path d="M42 22L44 24L50 24L34 26L36 28L64 28L62 32L40 34L52 38L54 38" fill="none" style="marker:url(#ha058b2ac)"/><path d="M40 24L46 24L52 24L54 24L58 34L54 36" fill="none" style="marker:url(#ha03f97b7)"/><path d="M42 24L48 24L56 26L40 28L40 30L58 30L62 30L46 36L52 36" fill="none" style="marker:url(#ha03585bb)"/><path d="M38 26L40 26L60 28L44 32L44 34L52 34L54 34L48 36" fill="none" style="marker:url(#ha03b7cb7)"/><path d="M42 26L44 26L48 26L42 28L42 30L46 32" fill="none" style="marker:url(#ha0496aaf)"/><path d="M46 26L48 28L50 28L54 28L56 32" fill="none" style="marker:url(#ha05e4fa2)"/><path d="M50 26L52 26L58 28L54 30L48 32L46 34L50 34" fill="none" style="marker:url(#ha04273b3)"/><path d="M54 26L38 28L42 32L58 32L42 34L50 36L50 38" fill="none" style="marker:url(#ha0378ebb)"/><path d="M58 26L34 28L60 30L60 32L48 34L56 34L44 36" fill="none" style="marker:url(#ha047a0b3)"/><path d="M44 28L46 28L56 28L44 30L46 30L50 30L56 30L50 32L54 32" fill="none" style="marker:url(#ha05061aa)"/><path d="M52 28L48 30L52 30L52 32" fill="none" style="marker:url(#ha05758a6)"/><path d="M3 -7L3 -3L7 -3L9 3L11 3L33 5L-5 7L49 11L-5 13L63 17L69 19L-3 21L75 21L89 23L1 27L99 29L7 31L89 31L89 33L7 35L9 35L83 35L11 37L81 37L77 39L19 43L23 43L75 43L67 45L71 45L27 49L33 51L41 51L59 53L61 55L43 57L49 59" fill="none" style="marker:url(#ha1b81e48)"/><path d="M7 -7L-11 -1L11 -1L21 1L35 1L-3 3L1 7L-5 11L-3 11L1 11L-7 13L73 19L81 21L91 23L97 23L-3 27L1 29L95 29L103 29L105 29L5 33L87 33L17 41L75 41L73 45L25 47L69 47L29 49L31 49L33 49L37 53L67 53L41 55L57 55L45 57L53 57L53 59" fill="none" style="marker:url(#ha19e0142)"/><path d="M7 -5L13 -5L5 1L-1 3L21 3L-5 5L-3 5L3 5L21 5L27 5L13 7L35 9L3 11L-1 13L-5 17L-3 17L1 19L1 21L87 23L93 23L-3 25L87 25L-1 27L5 27L5 31L91 31L87 35L23 41L25 43L27 43L33 47L67 47L63 49L65 51L43 53L43 55L49 55L55 57" fill="none" style="marker:url(#ha1dd4a4c)"/><path d="M5 -3L7 1L5 3L19 5L-1 7L29 7L7 9L49 9L5 11L7 11L45 11L-3 15L57 15L-1 19L71 19L-5 21L7 21L85 21L1 23L1 25L3 29L93 29L9 33L85 33L21 41L73 41L69 43L25 45L69 45L31 47L65 47L37 51L39 51L63 51L35 53L41 53L47 53L47 55L51 55L55 55L59 55L47 59" fill="none" style="marker:url(#ha1e75948)"/><path d="M7 -1L17 3L-1 5L25 5L3 7L47 11L-3 13L1 15L59 15L-5 19L67 19L3 21L77 21L-1 23L95 23L99 23L105 25L3 31L81 35L85 35L13 37L13 39L15 39L19 41L21 43L67 49L61 53L51 57L57 57L45 59L51 59" fill="none" style="marker:url(#ha1c9314c)"/><path d="M9 1L23 5L5 7L37 9L1 13L79 23L85 23L97 25L11 31L11 33L15 33L75 37L33 45L39 49L59 49L43 51L51 53" fill="none" style="marker:url(#ha1fca55d)"/><path d="M11 1L7 3L13 3L-5 9L33 9L53 13L55 15L61 17L67 17L3 19L11 23L-1 25L9 29L11 35L17 37L73 39L71 43L29 45L35 47L37 49L45 55L47 57" fill="none" style="marker:url(#ha1f47044)"/><path d="M15 3L17 7L23 7L7 13L11 13L7 17L5 19L7 19L83 23L17 29L75 35L33 43L67 43L65 45L57 49L53 51" fill="none" style="marker:url(#ha1fdbf6f)"/><path d="M19 3L5 5L9 5L9 7L31 7L3 9L15 9L-1 17L71 21L81 23L101 25L91 29L23 39L25 39L73 43L61 51" fill="none" style="marker:url(#ha1f7844e)"/><path d="M7 5L43 11L13 13L53 15L11 17L91 25L89 29L21 35L25 37L31 41L63 45L59 47L43 49L45 51" fill="none" style="marker:url(#ha1fece7c)"/><path d="M11 5L11 7L5 9L39 9L-1 11L41 11L51 13L3 17L5 21L3 27L105 27L21 37L77 37L75 39" fill="none" style="marker:url(#ha1f99153)"/><path d="M13 5L11 9L21 9L31 9L3 13L-1 15L65 19L9 23L85 25L83 33L77 35L49 53" fill="none" style="marker:url(#ha1fdb768)"/><path d="M15 5L7 7L25 7L27 7L-7 9L5 13L-7 15L3 15L95 25L99 25L103 25L97 29L13 35L17 39L21 39L31 45L35 49L35 51L57 51L59 51L55 53L53 55" fill="none" style="marker:url(#ha1eb6046)"/><path d="M17 5L19 7L1 9L9 9L1 17L5 17L59 17L5 23L7 23L3 25L7 25L9 25L89 25L7 27L87 31L13 33L19 37L79 37L29 43L63 47L55 51L45 53" fill="none" style="marker:url(#ha1fa9b58)"/><path d="M15 7L21 7L25 9L29 9L19 11L31 11L9 13L5 15L57 17L73 21L77 23L15 25L93 25L11 27L87 29L13 31L85 31L79 33L79 35L27 37L69 41L31 43L35 45L61 47L49 51L51 51L53 53" fill="none" style="marker:url(#ha1fed683)"/><path d="M13 9L49 13L13 17L11 21L15 21L67 21L69 21L5 25L9 27L101 27L103 27L9 31L17 31L15 35L17 35L57 47L41 49L61 49" fill="none" style="marker:url(#ha1fdc776)"/><path d="M17 9L23 9L17 11L19 13L13 19L63 19L89 27L99 27L23 33L29 39L71 39L27 41L33 41L51 49L47 51" fill="none" style="marker:url(#ha1fede89)"/><path d="M19 9L21 11L27 11L41 13L23 15L9 21L91 27L93 27L21 29L19 31L25 35L23 37L69 39L67 41L63 43L65 43L37 45L53 45L57 45L59 45L47 47L53 47" fill="none" style="marker:url(#ha1fff7b2)"/><path d="M27 9L9 11L15 11L9 15L13 21L11 29L17 33L39 47" fill="none" style="marker:url(#ha1fee491)"/><path d="M11 11L13 11L39 11L15 13L17 15L75 23L11 25L17 27L23 27L95 27L97 27L15 29L19 33L25 33L19 35L23 35L71 37L73 37L71 41L37 47L41 47L55 47L53 49" fill="none" style="marker:url(#ha1feeda1)"/><path d="M23 11L29 11L55 17L13 23L13 25L83 25L85 29L23 31L67 39L29 41L65 41L35 43L55 45L51 47L47 49L49 49" fill="none" style="marker:url(#ha1fffcba)"/><path d="M25 11L31 13L43 13L11 15L9 17L15 17L19 17L17 25L79 25L81 25L21 27L83 27L85 27L87 27L25 29L81 31L77 33L69 35L33 39L35 41L37 41L57 43L61 45" fill="none" style="marker:url(#ha1f9fcb5)"/><path d="M33 11L47 17L57 19L61 19L77 25L15 27L27 29L61 39L65 39L43 43L51 43L61 43" fill="none" style="marker:url(#ha1f1f9a9)"/><path d="M35 11L37 11L47 13L51 15L17 19L15 23L13 29L81 33L27 35L39 45L43 47" fill="none" style="marker:url(#ha1fee999)"/><path d="M17 13L7 15L13 15L15 15L19 15L11 19L13 27L23 29L15 31L21 31L83 31L21 33L31 37L27 39L31 39L45 49L55 49" fill="none" style="marker:url(#ha1fff2aa)"/><path d="M21 13L27 15L35 17L25 19L41 19L59 21L63 21L75 27L81 27L77 29L77 31L67 35L39 41L53 41L55 41L49 45" fill="none" style="marker:url(#ha1daf09a)"/><path d="M23 13L53 19L25 23L65 23L69 23L29 27L75 29L53 39L57 41" fill="none" style="marker:url(#ha1bfe5a0)"/><path d="M25 13L47 19L25 21L27 21L67 25L73 31L33 33L35 35L65 35L61 37L41 41L47 41" fill="none" style="marker:url(#ha1b5e1a2)"/><path d="M27 13L33 13L49 15L17 17L51 17L15 19L59 19L17 21L19 21L73 23L75 25L19 27L29 35L73 35L29 37L35 39L61 41L39 43L55 43" fill="none" style="marker:url(#ha1f5fbaf)"/><path d="M29 13L47 15L25 17L41 17L43 17L45 19L57 21L23 23L25 25L25 27L71 27L79 27L75 31L67 37L39 39L45 41L45 45" fill="none" style="marker:url(#ha1c8e99e)"/><path d="M35 13L39 13L21 15L25 15L33 15L35 15L39 15L45 15L49 17L19 19L61 21L19 25L23 25L71 25L27 27L77 27L79 29L81 29L25 31L27 33L73 33L75 33L31 35L33 35L71 35L33 37L59 41L37 43L41 43L59 43L47 45" fill="none" style="marker:url(#ha1e9f69d)"/><path d="M37 13L23 17L53 17L21 19L55 19L71 23L79 31L29 33L69 37L63 41L49 43L53 43L51 45L45 47L49 47" fill="none" style="marker:url(#ha1edf8a3)"/><path d="M45 13L9 19L19 29L83 29L41 45" fill="none" style="marker:url(#ha1fdfebb)"/><path d="M29 15L31 15L37 17L39 17L27 19L39 19L43 19L23 21L53 21L61 23L63 23L71 31L31 33L69 33L49 41L51 41" fill="none" style="marker:url(#ha1acdda4)"/><path d="M37 15L21 17L45 17L23 19L65 21L17 23L19 23L21 25L73 25L27 31L63 37L45 43L47 43" fill="none" style="marker:url(#ha1e4f498)"/><path d="M41 15L43 15L51 19L21 21L21 23L67 23L27 25L29 25L69 25L73 27L71 33L35 37L37 37L65 37L37 39L43 45" fill="none" style="marker:url(#ha1d1ed9c)"/><path d="M27 17L49 19L55 21L29 29L71 29L29 31L69 31L35 33L67 33L61 35L63 35L39 37L55 39L59 39L63 39L43 41" fill="none" style="marker:url(#ha1a2d9a4)"/><path d="M29 17L31 21L51 21L27 23L31 27L67 27L67 29L65 31L51 39" fill="none" style="marker:url(#ha17ecca5)"/><path d="M31 17L33 17L37 19L33 21L33 29L73 29L31 31L33 31L37 35L57 37L59 37L41 39" fill="none" style="marker:url(#ha197d5a4)"/><path d="M29 19L35 19L29 21L41 21L43 21L45 21L33 23L57 23L59 23L31 29L35 31L67 31L37 33L65 33L59 35L43 37L53 37" fill="none" style="marker:url(#ha169c3a5)"/><path d="M31 19L33 19L47 21L49 21L29 23L41 23L65 25L63 33L57 39" fill="none" style="marker:url(#ha18cd1a4)"/><path d="M35 21L39 21L31 23L31 25L65 27L69 27L61 33L39 35L41 37L43 39L45 39" fill="none" style="marker:url(#ha174c7a5)"/><path d="M37 21L35 23L37 23L49 23L55 23L33 25L59 25L63 25L35 27L37 27L35 29L63 29L65 29L69 29L39 33L41 33L41 35" fill="none" style="marker:url(#ha150a9af)"/><path d="M39 23L47 23L53 23L61 25L59 31L45 37L51 37L55 37L49 39" fill="none" style="marker:url(#ha158b2ac)"/><path d="M43 23L37 25L49 25L59 27L61 27L37 29L39 29L43 29L63 31L47 33L47 35L49 37" fill="none" style="marker:url(#ha1378ebb)"/><path d="M45 23L35 25L37 31L41 31L57 35L47 39" fill="none" style="marker:url(#ha160bba8)"/><path d="M51 23L39 25L33 27L63 27L61 31L43 35L45 35L53 35" fill="none" style="marker:url(#ha13f97b7)"/><path d="M41 25L39 27L55 27L57 31L43 33L55 33L49 35L51 35" fill="none" style="marker:url(#ha13b7cb7)"/><path d="M43 25L41 27L53 27L41 29L55 29L59 29" fill="none" style="marker:url(#ha14273b3)"/><path d="M45 25L47 25L45 27L49 27L51 29L53 29L49 31L55 31L49 33L51 33" fill="none" style="marker:url(#ha15061aa)"/><path d="M51 25L53 25L55 25L57 27L45 31L45 33L55 35" fill="none" style="marker:url(#ha13585bb)"/><path d="M57 25L61 29L39 31L57 33L59 33L47 37" fill="none" style="marker:url(#ha147a0b3)"/><path d="M43 27L47 27L49 29L53 31" fill="none" style="marker:url(#ha15e4fa2)"/><path d="M51 27L45 29L47 29L57 29L43 31L51 31L53 33" fill="none" style="marker:url(#ha1496aaf)"/><path d="M47 31" fill="none" style="marker:url(#ha15758a6)"/></g></g> <g id="matplotlib.axis_1"> <g id="xtick_1"> <g id="line2d_1"> <defs> <path id="m35bc0140a6" d="M 0 0  L 0 16  " style="stroke: #000000; stroke-width: 4.4"/> </defs> <g> <use xlink:href="#m35bc0140a6" x="173.9" y="666.4" style="stroke: #000000; stroke-width: 4.4"/> </g> </g> <g id="xtl_a_1" transform="translate(1.4 0)">  <g transform="translate(136.3 715.41)"> <text> <tspan x="0" y="-0.12" style="font-size: 32px; font-family: 'DejaVu Sans', sans-serif">1</tspan> <tspan x="20.36" y="-0.12" style="font-size: 32px; font-family: 'DejaVu Sans', sans-serif">0</tspan> <tspan x="41.02" y="-12.38" style="font-size: 22.4px; font-family: 'DejaVu Sans', sans-serif">−</tspan> <tspan x="59.79" y="-12.38" style="font-size: 22.4px; font-family: 'DejaVu Sans', sans-serif">2</tspan> </text> </g> </g> </g> <g id="xtick_2"> <g id="line2d_2"> <g> <use xlink:href="#m35bc0140a6" x="362.93" y="666.4" style="stroke: #000000; stroke-width: 4.4"/> </g> </g> <g id="xtl_a_2" transform="translate(1.4 0)">  <g transform="translate(325.33 715.41)"> <text> <tspan x="0" y="-0.42" style="font-size: 32px; font-family: 'DejaVu Sans', sans-serif">1</tspan> <tspan x="20.36" y="-0.42" style="font-size: 32px; font-family: 'DejaVu Sans', sans-serif">0</tspan> <tspan x="41.02" y="-12.67" style="font-size: 22.4px; font-family: 'DejaVu Sans', sans-serif">−</tspan> <tspan x="59.79" y="-12.67" style="font-size: 22.4px; font-family: 'DejaVu Sans', sans-serif">1</tspan> </text> </g> </g> </g> <g id="xtick_3"> <g id="line2d_3"> <g> <use xlink:href="#m35bc0140a6" x="551.96" y="666.4" style="stroke: #000000; stroke-width: 4.4"/> </g> </g> <g id="xtl_a_3" transform="translate(1.4 0)">  <g transform="translate(523.8 715.41)"> <text> <tspan x="0" y="-0.12" style="font-size: 32px; font-family: 'DejaVu Sans', sans-serif">1</tspan> <tspan x="20.36" y="-0.12" style="font-size: 32px; font-family: 'DejaVu Sans', sans-serif">0</tspan> <tspan x="41.02" y="-12.38" style="font-size: 22.4px; font-family: 'DejaVu Sans', sans-serif">0</tspan> </text> </g> </g> </g> <g id="xtick_4"> <g id="line2d_4"> <g> <use xlink:href="#m35bc0140a6" x="740.99" y="666.4" style="stroke: #000000; stroke-width: 4.4"/> </g> </g> <g id="xtl_a_4" transform="translate(1.4 0)">  <g transform="translate(712.83 715.41)"> <text> <tspan x="0" y="-0.42" style="font-size: 32px; font-family: 'DejaVu Sans', sans-serif">1</tspan> <tspan x="20.36" y="-0.42" style="font-size: 32px; font-family: 'DejaVu Sans', sans-serif">0</tspan> <tspan x="41.02" y="-12.67" style="font-size: 22.4px; font-family: 'DejaVu Sans', sans-serif">1</tspan> </text> </g> </g> </g> <g id="xtick_5"> <g id="line2d_5"> <defs> <path id="m0369923372" d="M 0 0  L 0 9.8  " style="stroke: #000000; stroke-width: 4"/> </defs> <g> <use xlink:href="#m0369923372" x="230.8" y="666.4" style="stroke: #000000; stroke-width: 4"/> </g> </g> </g> <g id="xtick_6"> <g id="line2d_6"> <g> <use xlink:href="#m0369923372" x="264.09" y="666.4" style="stroke: #000000; stroke-width: 4"/> </g> </g> </g> <g id="xtick_7"> <g id="line2d_7"> <g> <use xlink:href="#m0369923372" x="287.71" y="666.4" style="stroke: #000000; stroke-width: 4"/> </g> </g> </g> <g id="xtick_8"> <g id="line2d_8"> <g> <use xlink:href="#m0369923372" x="306.03" y="666.4" style="stroke: #000000; stroke-width: 4"/> </g> </g> </g> <g id="xtick_9"> <g id="line2d_9"> <g> <use xlink:href="#m0369923372" x="320.99" y="666.4" style="stroke: #000000; stroke-width: 4"/> </g> </g> </g> <g id="xtick_10"> <g id="line2d_10"> <g> <use xlink:href="#m0369923372" x="333.65" y="666.4" style="stroke: #000000; stroke-width: 4"/> </g> </g> </g> <g id="xtick_11"> <g id="line2d_11"> <g> <use xlink:href="#m0369923372" x="344.61" y="666.4" style="stroke: #000000; stroke-width: 4"/> </g> </g> </g> <g id="xtick_12"> <g id="line2d_12"> <g> <use xlink:href="#m0369923372" x="354.28" y="666.4" style="stroke: #000000; stroke-width: 4"/> </g> </g> </g> <g id="xtick_13"> <g id="line2d_13"> <g> <use xlink:href="#m0369923372" x="419.83" y="666.4" style="stroke: #000000; stroke-width: 4"/> </g> </g> </g> <g id="xtick_14"> <g id="line2d_14"> <g> <use xlink:href="#m0369923372" x="453.12" y="666.4" style="stroke: #000000; stroke-width: 4"/> </g> </g> </g> <g id="xtick_15"> <g id="line2d_15"> <g> <use xlink:href="#m0369923372" x="476.74" y="666.4" style="stroke: #000000; stroke-width: 4"/> </g> </g> </g> <g id="xtick_16"> <g id="line2d_16"> <g> <use xlink:href="#m0369923372" x="495.05" y="666.4" style="stroke: #000000; stroke-width: 4"/> </g> </g> </g> <g id="xtick_17"> <g id="line2d_17"> <g> <use xlink:href="#m0369923372" x="510.02" y="666.4" style="stroke: #000000; stroke-width: 4"/> </g> </g> </g> <g id="xtick_18"> <g id="line2d_18"> <g> <use xlink:href="#m0369923372" x="522.68" y="666.4" style="stroke: #000000; stroke-width: 4"/> </g> </g> </g> <g id="xtick_19"> <g id="line2d_19"> <g> <use xlink:href="#m0369923372" x="533.64" y="666.4" style="stroke: #000000; stroke-width: 4"/> </g> </g> </g> <g id="xtick_20"> <g id="line2d_20"> <g> <use xlink:href="#m0369923372" x="543.31" y="666.4" style="stroke: #000000; stroke-width: 4"/> </g> </g> </g> <g id="xtick_21"> <g id="line2d_21"> <g> <use xlink:href="#m0369923372" x="608.86" y="666.4" style="stroke: #000000; stroke-width: 4"/> </g> </g> </g> <g id="xtick_22"> <g id="line2d_22"> <g> <use xlink:href="#m0369923372" x="642.15" y="666.4" style="stroke: #000000; stroke-width: 4"/> </g> </g> </g> <g id="xtick_23"> <g id="line2d_23"> <g> <use xlink:href="#m0369923372" x="665.76" y="666.4" style="stroke: #000000; stroke-width: 4"/> </g> </g> </g> <g id="xtick_24"> <g id="line2d_24"> <g> <use xlink:href="#m0369923372" x="684.08" y="666.4" style="stroke: #000000; stroke-width: 4"/> </g> </g> </g> <g id="xtick_25"> <g id="line2d_25"> <g> <use xlink:href="#m0369923372" x="699.05" y="666.4" style="stroke: #000000; stroke-width: 4"/> </g> </g> </g> <g id="xtick_26"> <g id="line2d_26"> <g> <use xlink:href="#m0369923372" x="711.7" y="666.4" style="stroke: #000000; stroke-width: 4"/> </g> </g> </g> <g id="xtick_27"> <g id="line2d_27"> <g> <use xlink:href="#m0369923372" x="722.67" y="666.4" style="stroke: #000000; stroke-width: 4"/> </g> </g> </g> <g id="xtick_28"> <g id="line2d_28"> <g> <use xlink:href="#m0369923372" x="732.34" y="666.4" style="stroke: #000000; stroke-width: 4"/> </g> </g> </g> <g id="xtick_29"> <g id="line2d_29"> <g> <use xlink:href="#m0369923372" x="797.89" y="666.4" style="stroke: #000000; stroke-width: 4"/> </g> </g> </g> <g id="xtick_30"> <g id="line2d_30"> <g> <use xlink:href="#m0369923372" x="831.18" y="666.4" style="stroke: #000000; stroke-width: 4"/> </g> </g> </g> <g id="xlab_a" transform="translate(5 6.5)">  <g transform="translate(472.51 754.56)"> <text> <tspan x="0" y="-0.66" style="font-style: oblique; font-size: 37px; font-family: 'DejaVu Sans', sans-serif">β</tspan> <tspan x="23.61" y="5.41" style="font-style: oblique; font-size: 25.9px; font-family: 'DejaVu Sans', sans-serif">p</tspan> <tspan x="45.1" y="5.41" style="font-size: 25.9px; font-family: 'DejaVu Sans', sans-serif">∥</tspan> </text> </g> </g> </g> <g id="matplotlib.axis_2"> <g id="ytick_1"> <g id="line2d_31"> <defs> <path id="mc86d5cfce7" d="M 0 0  L -16 0  " style="stroke: #000000; stroke-width: 4.4"/> </defs> <g> <use xlink:href="#mc86d5cfce7" x="173.9" y="666.4" style="stroke: #000000; stroke-width: 4.4"/> </g> </g> <g id="text_1">  <g transform="translate(76.1 678.56)"> <text> <tspan x="0" y="-0.42" style="font-size: 32px; font-family: 'DejaVu Sans', sans-serif">1</tspan> <tspan x="20.36" y="-0.42" style="font-size: 32px; font-family: 'DejaVu Sans', sans-serif">0</tspan> <tspan x="41.02" y="-12.67" style="font-size: 22.4px; font-family: 'DejaVu Sans', sans-serif">−</tspan> <tspan x="59.79" y="-12.67" style="font-size: 22.4px; font-family: 'DejaVu Sans', sans-serif">1</tspan> </text> </g> </g> </g> <g id="ytick_2"> <g id="line2d_32"> <g> <use xlink:href="#mc86d5cfce7" x="173.9" y="356.2" style="stroke: #000000; stroke-width: 4.4"/> </g> </g> <g id="text_2">  <g transform="translate(94.98 368.36)"> <text> <tspan x="0" y="-0.12" style="font-size: 32px; font-family: 'DejaVu Sans', sans-serif">1</tspan> <tspan x="20.36" y="-0.12" style="font-size: 32px; font-family: 'DejaVu Sans', sans-serif">0</tspan> <tspan x="41.02" y="-12.38" style="font-size: 22.4px; font-family: 'DejaVu Sans', sans-serif">0</tspan> </text> </g> </g> </g> <g id="ytick_3"> <g id="line2d_33"> <g> <use xlink:href="#mc86d5cfce7" x="173.9" y="46" style="stroke: #000000; stroke-width: 4.4"/> </g> </g> <g id="text_3">  <g transform="translate(94.98 58.16)"> <text> <tspan x="0" y="-0.42" style="font-size: 32px; font-family: 'DejaVu Sans', sans-serif">1</tspan> <tspan x="20.36" y="-0.42" style="font-size: 32px; font-family: 'DejaVu Sans', sans-serif">0</tspan> <tspan x="41.02" y="-12.67" style="font-size: 22.4px; font-family: 'DejaVu Sans', sans-serif">1</tspan> </text> </g> </g> </g> <g id="ytick_4"> <g id="line2d_34"> <defs> <path id="m99f65bdf2d" d="M 0 0  L -9.8 0  " style="stroke: #000000; stroke-width: 4"/> </defs> <g> <use xlink:href="#m99f65bdf2d" x="173.9" y="573.02" style="stroke: #000000; stroke-width: 4"/> </g> </g> </g> <g id="ytick_5"> <g id="line2d_35"> <g> <use xlink:href="#m99f65bdf2d" x="173.9" y="518.4" style="stroke: #000000; stroke-width: 4"/> </g> </g> </g> <g id="ytick_6"> <g id="line2d_36"> <g> <use xlink:href="#m99f65bdf2d" x="173.9" y="479.64" style="stroke: #000000; stroke-width: 4"/> </g> </g> </g> <g id="ytick_7"> <g id="line2d_37"> <g> <use xlink:href="#m99f65bdf2d" x="173.9" y="449.58" style="stroke: #000000; stroke-width: 4"/> </g> </g> </g> <g id="ytick_8"> <g id="line2d_38"> <g> <use xlink:href="#m99f65bdf2d" x="173.9" y="425.02" style="stroke: #000000; stroke-width: 4"/> </g> </g> </g> <g id="ytick_9"> <g id="line2d_39"> <g> <use xlink:href="#m99f65bdf2d" x="173.9" y="404.25" style="stroke: #000000; stroke-width: 4"/> </g> </g> </g> <g id="ytick_10"> <g id="line2d_40"> <g> <use xlink:href="#m99f65bdf2d" x="173.9" y="386.26" style="stroke: #000000; stroke-width: 4"/> </g> </g> </g> <g id="ytick_11"> <g id="line2d_41"> <g> <use xlink:href="#m99f65bdf2d" x="173.9" y="370.39" style="stroke: #000000; stroke-width: 4"/> </g> </g> </g> <g id="ytick_12"> <g id="line2d_42"> <g> <use xlink:href="#m99f65bdf2d" x="173.9" y="262.82" style="stroke: #000000; stroke-width: 4"/> </g> </g> </g> <g id="ytick_13"> <g id="line2d_43"> <g> <use xlink:href="#m99f65bdf2d" x="173.9" y="208.2" style="stroke: #000000; stroke-width: 4"/> </g> </g> </g> <g id="ytick_14"> <g id="line2d_44"> <g> <use xlink:href="#m99f65bdf2d" x="173.9" y="169.44" style="stroke: #000000; stroke-width: 4"/> </g> </g> </g> <g id="ytick_15"> <g id="line2d_45"> <g> <use xlink:href="#m99f65bdf2d" x="173.9" y="139.38" style="stroke: #000000; stroke-width: 4"/> </g> </g> </g> <g id="ytick_16"> <g id="line2d_46"> <g> <use xlink:href="#m99f65bdf2d" x="173.9" y="114.82" style="stroke: #000000; stroke-width: 4"/> </g> </g> </g> <g id="ytick_17"> <g id="line2d_47"> <g> <use xlink:href="#m99f65bdf2d" x="173.9" y="94.05" style="stroke: #000000; stroke-width: 4"/> </g> </g> </g> <g id="ytick_18"> <g id="line2d_48"> <g> <use xlink:href="#m99f65bdf2d" x="173.9" y="76.06" style="stroke: #000000; stroke-width: 4"/> </g> </g> </g> <g id="ytick_19"> <g id="line2d_49"> <g> <use xlink:href="#m99f65bdf2d" x="173.9" y="60.19" style="stroke: #000000; stroke-width: 4"/> </g> </g> </g> <g id="ylab_a" transform="translate(-8.1 -2.45)">  <g transform="translate(50.14 381.76) rotate(-90)"> <text> <tspan x="0" y="-23.62" style="font-style: oblique; font-size: 25.2px; font-family: 'DejaVu Sans', sans-serif">T</tspan> <tspan x="2" y="13.8" style="font-style: oblique; font-size: 25.2px; font-family: 'DejaVu Sans', sans-serif">T</tspan> <tspan x="15.39" y="-19.49" style="font-style: oblique; font-size: 17.64px; font-family: 'DejaVu Sans', sans-serif">p</tspan> <tspan x="17.39" y="17.94" style="font-style: oblique; font-size: 17.64px; font-family: 'DejaVu Sans', sans-serif">p</tspan> <tspan x="30.03" y="-19.49" style="font-size: 17.64px; font-family: 'STIXGeneral'">⟂</tspan> <tspan x="32.03" y="17.94" style="font-size: 17.64px; font-family: 'DejaVu Sans', sans-serif">∥</tspan> </text> <rect x="0" y="-7.82" width="46.38" height="2.25"/> </g> </g> </g> <g id="line2d_50"> <path d="M 264.09 161.64  L 284.14 170.22  L 304.19 178.56  L 324.24 186.68  L 345.72 195.12  L 367.2 203.31  L 388.68 211.25  L 410.16 218.94  L 430.21 225.89  L 450.26 232.62  L 470.31 239.12  L 490.36 245.41  L 510.41 251.46  L 530.46 257.3  L 550.51 262.9  L 570.56 268.28  L 590.61 273.44  L 610.66 278.37  L 630.71 283.08  L 650.76 287.57  L 670.81 291.85  L 692.29 296.2  L 713.77 300.31  L 735.25 304.19  L 756.73 307.85  L 778.22 311.29  L 801.13 314.73  L 824.04 317.94  L 835.5 319.47  L 835.5 319.47  " clip-path="url(#p8cb28b91f1)" style="fill: none; stroke: #000000; stroke-width: 4.4; stroke-linecap: square"/> </g> <g id="line2d_51"> <path d="M 264.09 163.72  L 284.14 172.26  L 304.19 180.55  L 324.24 188.62  L 345.72 197.01  L 367.2 205.15  L 388.68 213.04  L 410.16 220.67  L 430.21 227.57  L 450.26 234.25  L 470.31 240.7  L 490.36 246.93  L 510.41 252.93  L 530.46 258.7  L 550.51 264.26  L 570.56 269.58  L 590.61 274.68  L 610.66 279.56  L 630.71 284.21  L 650.76 288.65  L 670.81 292.88  L 692.29 297.17  L 713.77 301.23  L 735.25 305.06  L 756.73 308.67  L 778.22 312.06  L 801.13 315.45  L 824.04 318.61  L 835.5 320.11  L 835.5 320.11  " clip-path="url(#p8cb28b91f1)" style="fill: none; stroke-dasharray: 16.28,7.04; stroke-dashoffset: 0; stroke: #000000; stroke-width: 4.4"/> </g> <g id="line2d_52"> <path d="M 554.66 1580  L 554.66 1255.45  L 554.98 1067.34  L 555.47 966.11  L 555.95 909.4  L 556.59 859.05  L 557.39 815.22  L 558.2 782.64  L 559.16 752.2  L 560.29 724.15  L 561.41 701.38  L 562.7 679.78  L 564.15 659.47  L 565.59 642.25  L 567.2 625.79  L 568.81 611.5  L 570.58 597.73  L 572.51 584.54  L 574.43 572.88  L 576.52 561.64  L 578.61 551.58  L 580.86 541.84  L 583.12 533.05  L 585.53 524.52  L 588.1 516.26  L 590.67 508.76  L 593.4 501.48  L 596.14 494.81  L 599.03 488.34  L 602.08 482.07  L 605.14 476.3  L 608.35 470.71  L 611.73 465.29  L 615.11 460.29  L 618.64 455.43  L 622.34 450.74  L 626.2 446.2  L 630.22 441.83  L 634.4 437.61  L 638.74 433.56  L 643.24 429.66  L 647.9 425.92  L 652.72 422.33  L 657.87 418.78  L 663.17 415.39  L 668.8 412.07  L 674.58 408.91  L 680.69 405.82  L 687.12 402.82  L 693.88 399.92  L 700.95 397.12  L 708.5 394.37  L 716.38 391.75  L 724.74 389.2  L 733.58 386.73  L 742.91 384.36  L 752.87 382.07  L 763.48 379.86  L 774.73 377.74  L 786.63 375.73  L 799.33 373.82  L 812.99 371.98  L 827.62 370.24  L 835.5 369.39  L 835.5 369.39  " clip-path="url(#p8cb28b91f1)" style="fill: none; stroke: #000000; stroke-width: 4.4; stroke-linecap: square"/> </g> <g id="line2d_53"> <path d="M 562.7 1580  L 562.7 1227.64  L 563.02 1075.83  L 563.5 981.84  L 563.99 927.28  L 564.63 878.05  L 565.43 834.73  L 566.24 802.27  L 567.2 771.76  L 568.33 743.48  L 569.45 720.4  L 570.74 698.4  L 572.18 677.62  L 573.63 659.9  L 575.24 642.89  L 577.01 626.67  L 578.77 612.46  L 580.7 598.78  L 582.63 586.62  L 584.72 574.84  L 586.97 563.47  L 589.22 553.23  L 591.64 543.31  L 594.05 534.31  L 596.62 525.55  L 599.19 517.55  L 601.92 509.76  L 604.82 502.2  L 607.71 495.25  L 610.76 488.49  L 613.82 482.25  L 617.03 476.18  L 620.41 470.28  L 623.79 464.82  L 627.32 459.51  L 631.02 454.37  L 634.88 449.39  L 638.74 444.77  L 642.76 440.29  L 646.93 435.96  L 651.28 431.79  L 655.78 427.76  L 660.44 423.89  L 665.26 420.17  L 670.24 416.6  L 675.55 413.07  L 681.01 409.71  L 686.8 406.41  L 692.75 403.28  L 699.02 400.23  L 705.61 397.28  L 712.52 394.44  L 719.76 391.7  L 727.31 389.09  L 735.35 386.55  L 743.71 384.14  L 752.55 381.82  L 761.87 379.6  L 771.84 377.47  L 782.45 375.43  L 793.7 373.49  L 805.76 371.65  L 818.62 369.91  L 832.45 368.27  L 835.5 367.94  L 835.5 367.94  " clip-path="url(#p8cb28b91f1)" style="fill: none; stroke-dasharray: 16.28,7.04; stroke-dashoffset: 0; stroke: #000000; stroke-width: 4.4"/> </g> <g id="line2d_54"> <path d="M 264.09 57.55  L 291.3 79.29  L 342.86 120.54  L 364.34 137.42  L 382.95 151.77  L 400.14 164.73  L 415.89 176.33  L 430.21 186.61  L 444.53 196.62  L 457.42 205.37  L 470.31 213.88  L 483.2 222.12  L 496.09 230.09  L 508.98 237.77  L 520.44 244.36  L 531.89 250.71  L 543.35 256.82  L 554.81 262.7  L 566.26 268.33  L 577.72 273.71  L 589.18 278.86  L 600.63 283.77  L 612.09 288.43  L 623.55 292.87  L 635.01 297.07  L 646.46 301.05  L 657.92 304.82  L 669.38 308.36  L 682.26 312.11  L 695.15 315.61  L 708.04 318.86  L 720.93 321.89  L 733.82 324.7  L 748.14 327.58  L 762.46 330.22  L 776.78 332.64  L 792.54 335.06  L 808.29 337.25  L 824.04 339.23  L 835.5 340.54  L 835.5 340.54  " clip-path="url(#p8cb28b91f1)" style="fill: none; stroke: #0000ff; stroke-width: 4.4; stroke-linecap: square"/> </g> <g id="line2d_55"> <path d="M 264.09 56.12  L 289.87 76.74  L 345.72 121.48  L 367.2 138.36  L 385.82 152.7  L 403 165.64  L 418.76 177.22  L 433.08 187.49  L 447.4 197.47  L 460.29 206.21  L 473.18 214.69  L 486.07 222.91  L 498.95 230.85  L 511.84 238.51  L 523.3 245.07  L 534.76 251.4  L 546.21 257.48  L 557.67 263.33  L 569.13 268.93  L 580.59 274.29  L 592.04 279.41  L 603.5 284.29  L 614.96 288.94  L 626.41 293.34  L 637.87 297.52  L 649.33 301.48  L 660.78 305.22  L 672.24 308.74  L 685.13 312.47  L 698.02 315.94  L 710.91 319.17  L 723.8 322.17  L 736.68 324.96  L 751.01 327.82  L 765.33 330.44  L 779.65 332.84  L 795.4 335.25  L 811.15 337.42  L 828.34 339.55  L 835.5 340.37  L 835.5 340.37  " clip-path="url(#p8cb28b91f1)" style="fill: none; stroke-dasharray: 16.28,7.04; stroke-dashoffset: 0; stroke: #0000ff; stroke-width: 4.4"/> </g> <g id="line2d_56"> <path d="M 581.83 1580  L 581.83 1268.4  L 582.15 1045.94  L 582.63 939.59  L 583.12 881.39  L 583.76 830.2  L 584.56 785.91  L 585.37 753.12  L 586.33 722.57  L 587.46 694.49  L 588.58 671.74  L 589.87 650.2  L 591.31 630  L 592.76 612.9  L 594.37 596.59  L 595.98 582.47  L 597.74 568.88  L 599.51 556.92  L 601.44 545.36  L 603.53 534.26  L 605.62 524.36  L 607.87 514.81  L 610.12 506.22  L 612.53 497.91  L 614.94 490.39  L 617.52 483.09  L 620.09 476.45  L 622.82 470.01  L 625.55 464.11  L 628.45 458.38  L 631.5 452.84  L 634.56 447.75  L 637.77 442.83  L 641.15 438.07  L 644.52 433.69  L 648.06 429.46  L 651.76 425.38  L 655.62 421.46  L 659.63 417.69  L 663.81 414.09  L 668.15 410.63  L 672.66 407.34  L 677.32 404.2  L 682.3 401.11  L 687.44 398.18  L 692.91 395.33  L 698.7 392.57  L 704.65 389.98  L 711.08 387.42  L 717.83 384.98  L 724.9 382.66  L 732.46 380.42  L 740.49 378.28  L 749.01 376.24  L 758.18 374.27  L 767.98 372.41  L 778.43 370.65  L 789.68 368.98  L 801.74 367.43  L 814.92 365.95  L 829.23 364.58  L 835.5 364.05  L 835.5 364.05  " clip-path="url(#p8cb28b91f1)" style="fill: none; stroke: #0000ff; stroke-width: 4.4; stroke-linecap: square"/> </g> <g id="line2d_57"> <path d="M 582.47 1580  L 582.47 1176.02  L 582.79 1022.14  L 583.28 927.91  L 583.76 873.46  L 584.4 824.53  L 585.2 781.63  L 586.01 749.62  L 586.97 719.65  L 588.1 692  L 589.22 669.55  L 590.51 648.26  L 591.96 628.26  L 593.4 611.31  L 595.01 595.14  L 596.62 581.12  L 598.39 567.63  L 600.16 555.75  L 602.08 544.26  L 604.17 533.22  L 606.26 523.38  L 608.51 513.89  L 610.76 505.35  L 613.18 497.09  L 615.59 489.6  L 618.16 482.35  L 620.73 475.75  L 623.46 469.34  L 626.2 463.47  L 629.09 457.77  L 632.15 452.26  L 635.2 447.21  L 638.41 442.31  L 641.79 437.58  L 645.17 433.22  L 648.7 429.01  L 652.4 424.96  L 656.26 421.06  L 660.28 417.31  L 664.46 413.73  L 668.8 410.3  L 673.3 407.02  L 677.96 403.9  L 682.94 400.83  L 688.09 397.92  L 693.55 395.09  L 699.34 392.34  L 705.45 389.7  L 711.88 387.16  L 718.63 384.74  L 725.7 382.44  L 733.26 380.22  L 741.3 378.1  L 749.82 376.07  L 758.98 374.12  L 768.79 372.27  L 779.24 370.53  L 790.49 368.88  L 802.71 367.32  L 815.89 365.86  L 830.2 364.5  L 835.5 364.05  L 835.5 364.05  " clip-path="url(#p8cb28b91f1)" style="fill: none; stroke-dasharray: 16.28,7.04; stroke-dashoffset: 0; stroke: #0000ff; stroke-width: 4.4"/> </g> <g id="patch_2"> <path d="M 173.9 666.4  L 173.9 46  " style="fill: none; stroke: #000000; stroke-width: 1.6; stroke-linejoin: miter; stroke-linecap: square"/> </g> <g id="patch_3"> <path d="M 835.5 666.4  L 835.5 46  " style="fill: none; stroke: #000000; stroke-width: 1.6; stroke-linejoin: miter; stroke-linecap: square"/> </g> <g id="patch_4"> <path d="M 173.9 666.4  L 835.5 666.4  " style="fill: none; stroke: #000000; stroke-width: 1.6; stroke-linejoin: miter; stroke-linecap: square"/> </g> <g id="patch_5"> <path d="M 173.9 46  L 835.5 46  " style="fill: none; stroke: #000000; stroke-width: 1.6; stroke-linejoin: miter; stroke-linecap: square"/> </g> <g id="line2d_58"> <path d="M 608.86 666.4  L 608.86 43.33  " style="fill: none; stroke-dasharray: 15.8,12.2; stroke-dashoffset: 0; stroke: #00b050; stroke-width: 3.75"/> </g> <g id="text_4"> <text style="font-size: 31.6px; font-family: 'DejaVu Sans', sans-serif; text-anchor: start" x="552.7" y="139.8" transform="rotate(-0 552.7 139.8)">PCI</text> </g> <g id="text_5"> <text style="font-size: 31.6px; font-family: 'DejaVu Sans', sans-serif; text-anchor: start; fill: #0000ff" x="684.9" y="139.8" transform="rotate(-0 684.9 139.8)">MM</text> </g> <g id="text_6"> <text style="font-size: 31.6px; font-family: 'DejaVu Sans', sans-serif; text-anchor: start" x="666.9" y="573.9" transform="rotate(-0 666.9 573.9)">PFH</text> </g> <g id="text_7"> <text style="font-size: 31.6px; font-family: 'DejaVu Sans', sans-serif; text-anchor: start; fill: #0000ff" x="741.4" y="573.9" transform="rotate(-0 741.4 573.9)">OFH</text> </g> <g id="text_8"> <text style="font-weight: 700; font-size: 54.3px; font-family: 'Liberation Sans', sans-serif; text-anchor: start" x="195.9" y="112.9" transform="rotate(-0 195.9 112.9)">(a)</text> </g> <g id="title_a" transform="translate(0.5 0)">  <g transform="translate(232.34 25.8)"> <text> <tspan x="0" y="-0.63" style="font-style: oblique; font-size: 27.4px; font-family: 'DejaVu Sans', sans-serif">γ</tspan> <tspan x="162" y="-0.63" style="font-style: oblique; font-size: 27.4px; font-family: 'DejaVu Sans', sans-serif">S</tspan> <tspan x="179.37" y="-0.63" style="font-style: oblique; font-size: 27.4px; font-family: 'DejaVu Sans', sans-serif">o</tspan> <tspan x="196.12" y="-0.63" style="font-style: oblique; font-size: 27.4px; font-family: 'DejaVu Sans', sans-serif">l</tspan> <tspan x="203.73" y="-0.63" style="font-style: oblique; font-size: 27.4px; font-family: 'DejaVu Sans', sans-serif">i</tspan> <tspan x="211.33" y="-0.63" style="font-style: oblique; font-size: 27.4px; font-family: 'DejaVu Sans', sans-serif">d</tspan> <tspan x="248.6" y="-0.63" style="font-style: oblique; font-size: 27.4px; font-family: 'DejaVu Sans', sans-serif">ζ</tspan> <tspan x="354.66" y="-0.63" style="font-style: oblique; font-size: 27.4px; font-family: 'DejaVu Sans', sans-serif">D</tspan> <tspan x="375.74" y="-0.63" style="font-style: oblique; font-size: 27.4px; font-family: 'DejaVu Sans', sans-serif">a</tspan> <tspan x="392.52" y="-0.63" style="font-style: oblique; font-size: 27.4px; font-family: 'DejaVu Sans', sans-serif">s</tspan> <tspan x="406.78" y="-0.63" style="font-style: oblique; font-size: 27.4px; font-family: 'DejaVu Sans', sans-serif">h</tspan> <tspan x="424.13" y="-0.63" style="font-style: oblique; font-size: 27.4px; font-family: 'DejaVu Sans', sans-serif">e</tspan> <tspan x="440.97" y="-0.63" style="font-style: oblique; font-size: 27.4px; font-family: 'DejaVu Sans', sans-serif">d</tspan> <tspan x="478.24" y="-0.63" style="font-style: oblique; font-size: 27.4px; font-family: 'DejaVu Sans', sans-serif">ζ</tspan> <tspan x="21.53" y="-0.63" style="font-size: 27.4px; font-family: 'DejaVu Sans', sans-serif">=</tspan> <tspan x="49.8" y="-0.63" style="font-size: 27.4px; font-family: 'DejaVu Sans', sans-serif">1</tspan> <tspan x="67.22" y="-0.63" style="font-size: 27.4px; font-family: 'DejaVu Sans', sans-serif">0</tspan> <tspan x="113.88" y="-0.63" style="font-size: 27.4px; font-family: 'DejaVu Sans', sans-serif">Ω</tspan> <tspan x="147.96" y="-0.63" style="font-size: 27.4px; font-family: 'DejaVu Sans', sans-serif">,</tspan> <tspan x="234.04" y="-0.63" style="font-size: 27.4px; font-family: 'DejaVu Sans', sans-serif">:</tspan> <tspan x="268.82" y="-0.63" style="font-size: 27.4px; font-family: 'DejaVu Sans', sans-serif">=</tspan> <tspan x="297.09" y="-0.63" style="font-size: 27.4px; font-family: 'DejaVu Sans', sans-serif">0</tspan> <tspan x="314.51" y="-0.63" style="font-size: 27.4px; font-family: 'DejaVu Sans', sans-serif">.</tspan> <tspan x="323.21" y="-0.63" style="font-size: 27.4px; font-family: 'DejaVu Sans', sans-serif">5</tspan> <tspan x="340.63" y="-0.63" style="font-size: 27.4px; font-family: 'DejaVu Sans', sans-serif">,</tspan> <tspan x="463.68" y="-0.63" style="font-size: 27.4px; font-family: 'DejaVu Sans', sans-serif">:</tspan> <tspan x="498.46" y="-0.63" style="font-size: 27.4px; font-family: 'DejaVu Sans', sans-serif">=</tspan> <tspan x="526.73" y="-0.63" style="font-size: 27.4px; font-family: 'DejaVu Sans', sans-serif">0</tspan> <tspan x="84.9" y="-10.97" style="font-size: 19.18px; font-family: 'DejaVu Sans', sans-serif">−</tspan> <tspan x="100.95" y="-10.97" style="font-size: 19.18px; font-family: 'DejaVu Sans', sans-serif">2</tspan> <tspan x="135.06" y="3.8" style="font-style: oblique; font-size: 19.18px; font-family: 'DejaVu Sans', sans-serif">p</tspan> </text> </g> </g> </g> <g id="axes_2"> <g id="cbbg_a"> <path d="M 877.6 666.4  L 908.4 666.4  L 908.4 46  L 877.6 46  z " style="fill: #ffffff"/> </g><rect x="877.60" y="46.00" width="30.80" height="620.40" fill="url(#cg_a)"/> <g id="matplotlib.axis_3"/> <g id="matplotlib.axis_4"> <g id="ytick_20"> <g id="line2d_59"> <defs> <path id="m5e54e8ce2d" d="M 0 0  L 8 0  " style="stroke: #000000; stroke-width: 1.8"/> </defs> <g> <use xlink:href="#m5e54e8ce2d" x="908.4" y="657.11" style="stroke: #000000; stroke-width: 1.8"/> </g> </g> <g id="text_9"> <text style="font-size: 22.5px; font-family: 'DejaVu Sans', sans-serif; text-anchor: start" x="924.4" y="665.65" transform="rotate(-0 924.4 665.65)">0.8</text> </g> </g> <g id="ytick_21"> <g id="line2d_60"> <g> <use xlink:href="#m5e54e8ce2d" x="908.4" y="571.85" style="stroke: #000000; stroke-width: 1.8"/> </g> </g> <g id="text_10"> <text style="font-size: 22.5px; font-family: 'DejaVu Sans', sans-serif; text-anchor: start" x="924.4" y="580.39" transform="rotate(-0 924.4 580.39)">1.0</text> </g> </g> <g id="ytick_22"> <g id="line2d_61"> <g> <use xlink:href="#m5e54e8ce2d" x="908.4" y="486.59" style="stroke: #000000; stroke-width: 1.8"/> </g> </g> <g id="text_11"> <text style="font-size: 22.5px; font-family: 'DejaVu Sans', sans-serif; text-anchor: start" x="924.4" y="495.13" transform="rotate(-0 924.4 495.13)">1.2</text> </g> </g> <g id="ytick_23"> <g id="line2d_62"> <g> <use xlink:href="#m5e54e8ce2d" x="908.4" y="401.32" style="stroke: #000000; stroke-width: 1.8"/> </g> </g> <g id="text_12"> <text style="font-size: 22.5px; font-family: 'DejaVu Sans', sans-serif; text-anchor: start" x="924.4" y="409.87" transform="rotate(-0 924.4 409.87)">1.4</text> </g> </g> <g id="ytick_24"> <g id="line2d_63"> <g> <use xlink:href="#m5e54e8ce2d" x="908.4" y="316.06" style="stroke: #000000; stroke-width: 1.8"/> </g> </g> <g id="text_13"> <text style="font-size: 22.5px; font-family: 'DejaVu Sans', sans-serif; text-anchor: start" x="924.4" y="324.61" transform="rotate(-0 924.4 324.61)">1.6</text> </g> </g> <g id="ytick_25"> <g id="line2d_64"> <g> <use xlink:href="#m5e54e8ce2d" x="908.4" y="230.8" style="stroke: #000000; stroke-width: 1.8"/> </g> </g> <g id="text_14"> <text style="font-size: 22.5px; font-family: 'DejaVu Sans', sans-serif; text-anchor: start" x="924.4" y="239.35" transform="rotate(-0 924.4 239.35)">1.8</text> </g> </g> <g id="ytick_26"> <g id="line2d_65"> <g> <use xlink:href="#m5e54e8ce2d" x="908.4" y="145.54" style="stroke: #000000; stroke-width: 1.8"/> </g> </g> <g id="text_15"> <text style="font-size: 22.5px; font-family: 'DejaVu Sans', sans-serif; text-anchor: start" x="924.4" y="154.09" transform="rotate(-0 924.4 154.09)">2.0</text> </g> </g> <g id="ytick_27"> <g id="line2d_66"> <g> <use xlink:href="#m5e54e8ce2d" x="908.4" y="60.28" style="stroke: #000000; stroke-width: 1.8"/> </g> </g> <g id="text_16"> <text style="font-size: 22.5px; font-family: 'DejaVu Sans', sans-serif; text-anchor: start" x="924.4" y="68.83" transform="rotate(-0 924.4 68.83)">2.2</text> </g> </g> <g id="cblab_a" transform="translate(-8.2 3.6)" clip-path="url(#cbc_a)"> <text style="font-size: 36.7px; font-family: 'DejaVu Sans', sans-serif; text-anchor: middle" x="1008.07" y="356.2" transform="rotate(-90 1008.07 356.2)">log10(count)</text> </g> </g> <g id="patch_6"> <path d="M 877.6 666.4  L 877.6 46  " style="fill: none; stroke: #000000; stroke-width: 1.6; stroke-linejoin: miter; stroke-linecap: square"/> </g> <g id="patch_7"> <path d="M 908.4 666.4  L 908.4 46  " style="fill: none; stroke: #000000; stroke-width: 1.6; stroke-linejoin: miter; stroke-linecap: square"/> </g> <g id="patch_8"> <path d="M 877.6 666.4  L 908.4 666.4  " style="fill: none; stroke: #000000; stroke-width: 1.6; stroke-linejoin: miter; stroke-linecap: square"/> </g> <g id="patch_9"> <path d="M 877.6 46  L 908.4 46  " style="fill: none; stroke: #000000; stroke-width: 1.6; stroke-linejoin: miter; stroke-linecap: square"/> </g> </g> <g id="axes_3"> <g id="axbg_b"> <path d="M 1217.9 666.4  L 1879.5 666.4  L 1879.5 46  L 1217.9 46  z " style="fill: #ffffff"/> </g><g clip-path="url(#clip_b)"><g transform="translate(1534.2 491.9) scale(4.75 6.12)"><path d="M-16 -48L-10 -40L-24 -38L-30 -28L-32 -24L-28 -22L50 -20L56 -20L-20 -16L42 -14L-16 -12L-14 -12L40 -12L36 -10L44 -10L-10 -8L36 -8L28 -6L26 0L10 2L18 2L14 4L16 4L22 10" fill="none" style="marker:url(#hb09e0142)"/><path d="M-22 -40L-22 -38L-14 -38L-22 -36L-20 -36L-2 -36L4 -34L-26 -32L-14 -32L16 -32L28 -28L30 -28L-30 -26L-28 -26L-30 -24L42 -22L52 -22L40 -16L44 -16L-2 -10L4 -8L34 -8L0 -6L22 -2L24 -2L12 0L14 0L18 0L12 2" fill="none" style="marker:url(#hb0f99153)"/><path d="M-20 -40L-12 -38L-10 -36L-18 -34L8 -34L16 -34L20 -30L22 -30L26 -28L34 -22L-12 -18L42 -16L-8 -12L-4 -12L32 -10L6 -6L6 -4L10 -4L12 -4L14 -4L16 0" fill="none" style="marker:url(#hb0fca55d)"/><path d="M-18 -40L-16 -36L-6 -36L-22 -30L26 -30L-20 -28L-24 -26L-8 -24L34 -24L36 -24L-24 -22L-12 -20L32 -20L42 -20L44 -20L46 -20L36 -16L30 -14L6 -10L10 -6L20 -4" fill="none" style="marker:url(#hb0fee491)"/><path d="M-16 -40L-24 -36L10 -34L12 -34L14 -34L14 -32L-26 -30L24 -30L50 -24L-26 -22L50 -22L-18 -18L44 -18L46 -18L38 -12L-10 -10L34 -10L40 -10L-6 -8L2 -8L36 -6L10 0L18 4" fill="none" style="marker:url(#hb0dd4a4c)"/><path d="M-12 -40L-8 -38L-2 -38L0 -36L-28 -30L-14 -28L-26 -26L38 -26L-28 -24L-22 -22L-24 -20L-6 -18L48 -16L-14 -14L-2 -14L-12 -12L-2 -6L2 -4L34 -4L14 -2L28 -2L14 2" fill="none" style="marker:url(#hb0eb6046)"/><path d="M-20 -38L-14 -34L-2 -34L2 -34L-12 -32L12 -32L2 -30L-14 -26L26 -26L-12 -22L-16 -20L-10 -16L30 -12L14 -6" fill="none" style="marker:url(#hb0fffcba)"/><path d="M-18 -38L-12 -36L-20 -34L6 -34L8 -32L-18 -28L24 -28L-18 -26L-22 -24L-12 -24L42 -24L-18 -20L-4 -18L48 -18L-14 -16L-2 -16L-4 -14L0 -12L0 -10L30 -8L18 -4L26 -4L16 -2L18 -2" fill="none" style="marker:url(#hb0fed683)"/><path d="M-16 -38L-18 -36L22 -28L32 -28L32 -26L38 -24L-22 -20L-20 -20L40 -20L-22 -18L-20 -18L-16 -18L42 -18L38 -16L-10 -14L36 -14L38 -14L32 -8" fill="none" style="marker:url(#hb0fdbf6f)"/><path d="M-10 -38L-6 -38L-4 -36L2 -36L4 -36L-22 -32L-24 -30L-28 -28L-24 -28L-32 -26L30 -26L-32 -22L-18 -22L-14 -18L-16 -14L-12 -14L-6 -14L44 -14L-6 -12L34 -12L36 -12L44 -12L-8 -10L-4 -10L2 -10L0 -8L2 -6L8 -6L4 -4L22 -4L28 -4L8 -2L10 -2L20 0" fill="none" style="marker:url(#hb0f67a49)"/><path d="M-14 -36L-16 -32L-10 -32L-20 -30L-18 -30L-22 -28L-20 -26L-10 -26L34 -26L-8 -14L18 -12L6 -8L22 -6L24 -6L24 -4" fill="none" style="marker:url(#hb0fff2aa)"/><path d="M-8 -36L28 -26L-24 -24L-18 -24L32 -24L-16 -22L36 -22L-4 -16L4 -12L32 -12L4 -10L8 -10L30 -10L22 -8L28 -8L12 -2" fill="none" style="marker:url(#hb0feeda1)"/><path d="M-26 -34L-24 -32L18 -32L20 -32L22 -32L-30 -30L32 -30L40 -26L44 -26L-30 -22L48 -22L-24 -18L46 -16L-18 -14L-10 -12L-2 -8L4 -6L-4 -4L8 -4L32 -4L20 -2L24 0" fill="none" style="marker:url(#hb0c1274a)"/><path d="M-22 -34L-18 -32L36 -26L-26 -24L40 -24L46 -24L40 -22L44 -22L46 -22L-10 -18L-8 -18L40 -18L-12 -16L-8 -16L2 -14L34 -14L-6 -10L28 -10L8 -8L26 -6" fill="none" style="marker:url(#hb0fece7c)"/><path d="M-16 -34L4 -32L-14 -30L-8 -30L-6 -28L-22 -26L-6 -24L-8 -22L-2 -22L38 -20L8 -12L24 -8" fill="none" style="marker:url(#hb0edf8a3)"/><path d="M-12 -34L-4 -34L-20 -32L-6 -32L18 -30L-16 -28L4 -28L8 -28L18 -28L26 -24L-14 -20L36 -18L6 -12L18 -8L20 -8L26 -8L16 -6" fill="none" style="marker:url(#hb0f1f9a9)"/><path d="M-10 -34L-8 -32L-4 -32L-2 -32L10 -32L-20 -24L-20 -22L-10 -22L38 -22L-6 -16L18 -6L16 -4" fill="none" style="marker:url(#hb0f9fcb5)"/><path d="M-8 -34L-6 -34L0 -32L0 -30L16 -30L-6 -26L-6 -20L34 -18L34 -16L4 -14L24 -10" fill="none" style="marker:url(#hb0e4f498)"/><path d="M0 -34L2 -32L6 -32L14 -30L-12 -28L12 -28L16 -28L-16 -26L24 -26L-16 -24L30 -24L-10 -20L34 -20L32 -14L2 -12L10 -10L12 -8" fill="none" style="marker:url(#hb0fdfebb)"/><path d="M-16 -30L-10 -28L22 -26L-14 -24L-10 -24L28 -22L2 -18L30 -18L0 -14L26 -10" fill="none" style="marker:url(#hb0d1ed9c)"/><path d="M-12 -30L-2 -28L6 -28L18 -26L-2 -18L18 -14L26 -14L12 -10L10 -8L20 -6" fill="none" style="marker:url(#hb0c8e99e)"/><path d="M-10 -30L0 -28L-8 -26L20 -26L0 -24L24 -24L2 -20L8 -20L4 -18L8 -18L32 -18L8 -16L6 -14L10 -14L14 -14L16 -12L14 -10L16 -8" fill="none" style="marker:url(#hb0a2d9a4)"/><path d="M-6 -30L12 -30L20 -28L-12 -26L-14 -22L-8 -20L0 -18L38 -18L30 -16L-2 -12L28 -12L18 -10L14 -8" fill="none" style="marker:url(#hb0e9f69d)"/><path d="M-4 -30L-8 -28L-4 -28L-4 -26L10 -26L28 -24L-2 -20L16 -16L28 -14L24 -12L26 -12" fill="none" style="marker:url(#hb0acdda4)"/><path d="M-2 -30L22 -24L2 -22L4 -16L14 -16L28 -16L8 -14L22 -14L10 -12L20 -10" fill="none" style="marker:url(#hb07ecca5)"/><path d="M4 -30L10 -30L14 -28L32 -22L0 -16L2 -16L12 -6" fill="none" style="marker:url(#hb0daf09a)"/><path d="M6 -30L10 -28L22 -22L24 -22L0 -20L22 -10" fill="none" style="marker:url(#hb097d5a4)"/><path d="M8 -30L6 -20L26 -20L6 -16L12 -14L22 -12" fill="none" style="marker:url(#hb08cd1a4)"/><path d="M2 -28L4 -22L30 -22L-4 -20L30 -20L36 -20" fill="none" style="marker:url(#hb0bfe5a0)"/><path d="M-2 -26L0 -26L16 -26L4 -24L-4 -22L18 -16L26 -16L32 -16L20 -14" fill="none" style="marker:url(#hb069c3a5)"/><path d="M2 -26L6 -26L26 -18L10 -16L24 -14L14 -12" fill="none" style="marker:url(#hb074c7a5)"/><path d="M4 -26L2 -24L6 -24L18 -24L16 -22L12 -20L16 -20L24 -20L22 -18L24 -18" fill="none" style="marker:url(#hb047a0b3)"/><path d="M8 -26L10 -24L14 -22L12 -16" fill="none" style="marker:url(#hb0378ebb)"/><path d="M12 -26L-4 -24L20 -24L-6 -22L28 -20" fill="none" style="marker:url(#hb0b5e1a2)"/><path d="M14 -26L14 -24L16 -24L20 -20L6 -18L22 -16L24 -16L16 -14" fill="none" style="marker:url(#hb058b2ac)"/><path d="M-2 -24L0 -22L10 -22L20 -22L26 -22" fill="none" style="marker:url(#hb060bba8)"/><path d="M8 -24L18 -20L20 -12" fill="none" style="marker:url(#hb03b7cb7)"/><path d="M12 -24L4 -20L10 -20L14 -18L16 -18L20 -18" fill="none" style="marker:url(#hb03f97b7)"/><path d="M6 -22L20 -16" fill="none" style="marker:url(#hb03585bb)"/><path d="M8 -22L12 -22" fill="none" style="marker:url(#hb04273b3)"/><path d="M18 -22L22 -20L28 -18L12 -12L16 -10" fill="none" style="marker:url(#hb050a9af)"/><path d="M14 -20L12 -18" fill="none" style="marker:url(#hb05061aa)"/><path d="M10 -18L18 -18" fill="none" style="marker:url(#hb0496aaf)"/><path d="M-13 -43L-21 -37L-23 -35L-29 -33L-33 -27L-31 -25L57 -21L-29 -19L-25 -19L49 -17L-11 -11L35 -11L-9 -9L3 -5L31 -5L35 -5L7 -1L13 3L17 3" fill="none" style="marker:url(#hb1c1274a)"/><path d="M-23 -41L-25 -35L17 -35L19 -33L33 -31L43 -25L49 -25L-29 -23L51 -19L-17 -15L-15 -13L-13 -13L-11 -13L-9 -11L35 -9L-5 -7L31 -7L39 -7L1 -5L7 -5L33 -5L31 -3L31 -1L15 1L21 1L15 3" fill="none" style="marker:url(#hb19e0142)"/><path d="M-21 -41L-21 -39L-15 -39L-1 -37L3 -37L-31 -29L-27 -29L27 -29L29 -27L-19 -25L-31 -23L-27 -23L-23 -19L53 -19L-19 -15L37 -15L41 -15L41 -11L33 -7L35 -7L-5 -5L29 -3L23 1L25 1L17 5" fill="none" style="marker:url(#hb1dd4a4c)"/><path d="M-25 -39L-15 -37L1 -37L7 -35L-19 -31L21 -31L-21 -29L-19 -29L31 -27L45 -23L-25 -21L-21 -21L-19 -21L51 -21L-17 -19L-13 -19L45 -19L-13 -15L-9 -13L39 -13L33 -9L27 -5L9 -3L23 -1L17 1" fill="none" style="marker:url(#hb1f99153)"/><path d="M-23 -39L-13 -39L-5 -39L-21 -35L17 -33L-15 -31L15 -31L-29 -25L37 -25L47 -23L-21 -17L45 -17L37 -13L43 -13L5 -5L21 -5L7 -3L21 -3L13 -1L21 -1L25 -1L27 -1L11 1" fill="none" style="marker:url(#hb1f67a49)"/><path d="M-19 -39L-3 -37L3 -35L-25 -33L-19 -33L17 -31L-25 -29L31 -25L43 -23L-27 -21L-23 -21L49 -21L47 -19L49 -19L-23 -17L43 -15L-7 -13L37 -11L29 -9L31 -9L37 -7L11 -3L21 3" fill="none" style="marker:url(#hb1fca55d)"/><path d="M-17 -39L-11 -35L-7 -35L-5 -35L-17 -33L-13 -31L-9 -31L-13 -25L41 -23L-19 -17L-13 -17L37 -17L17 -3L27 -3L11 -1" fill="none" style="marker:url(#hb1fdbf6f)"/><path d="M-9 -39L-23 -37L-11 -37L-5 -37L-19 -35L5 -35L-23 -33L11 -33L13 -33L23 -31L-29 -29L-23 -29L-29 -27L-27 -27L-25 -27L-33 -25L-27 -25L39 -25L45 -21L-21 -19L43 -19L-17 -17L43 -17L39 -15L-5 -11L-1 -9L-3 -7L-1 -7L1 -7L7 -7L29 -7L9 -1L19 -1" fill="none" style="marker:url(#hb1eb6046)"/><path d="M-19 -37L-13 -37L-9 -35L9 -33L-23 -25L-17 -25L33 -25L-11 -23L-5 -21L-7 -11L29 -11L33 -11L3 -7L13 -5L17 -5L23 -3L17 -1" fill="none" style="marker:url(#hb1fed683)"/><path d="M-17 -37L1 -35L-21 -27L33 -27L35 -25L33 -23L-11 -21L37 -21L-9 -19L-9 -17L-7 -17L-9 -15L-7 -15L1 -15L-5 -13L3 -9L7 -9L9 -7L15 -5L19 -3" fill="none" style="marker:url(#hb1fff2aa)"/><path d="M-9 -37L-7 -37L-13 -35L-1 -35L-9 -33L-7 -33L-5 -33L-17 -31L-5 -31L11 -31L13 -31L17 -29L25 -27L-15 -25L29 -25L-19 -23L39 -23L-15 -21L39 -21L41 -21L43 -21L-15 -19L-11 -15L33 -13L-3 -11L5 -7L21 -7L15 -3" fill="none" style="marker:url(#hb1fee491)"/><path d="M-17 -35L-15 -35L-21 -31L-7 -31L7 -31L9 -31L-19 -27L-15 -27L23 -27L-7 -25L-17 -23L-15 -23L-5 -23L35 -23L39 -19L-3 -13L3 -13L1 -11L1 -9L27 -9" fill="none" style="marker:url(#hb1fdfebb)"/><path d="M-3 -35L-11 -29L15 -29L25 -29L-11 -27L-21 -25L-23 -23L-13 -23L-17 -21L-13 -21L-9 -21L35 -21L-7 -19L-11 -17L39 -17L-1 -15L35 -13L-1 -11L31 -11L15 -1" fill="none" style="marker:url(#hb1feeda1)"/><path d="M-21 -33L-11 -33L-1 -33L7 -33L19 -29L-17 -27L21 -27L-11 -25L31 -23L-7 -21L37 -19L29 -13L23 -7L23 -5" fill="none" style="marker:url(#hb1f9fcb5)"/><path d="M-15 -33L-5 -29L-3 -27L21 -25L25 -25L-1 -19L35 -17L5 -13L7 -13L27 -13L3 -11L17 -7L19 -7" fill="none" style="marker:url(#hb1e9f69d)"/><path d="M-13 -33L-3 -33L-15 -29L1 -29L-13 -27L-9 -27L27 -25L-21 -23L-3 -19L41 -19L-3 -15L1 -13L13 -9L15 -7L11 -5L13 -3" fill="none" style="marker:url(#hb1edf8a3)"/><path d="M1 -33L3 -33L15 -33L-25 -31L-23 -31L19 -31L21 -29L23 -29L27 -27L49 -23L-11 -19L-15 -17L41 -17L35 -15L-1 -13L-5 -9L9 -9L27 -7L9 -5L29 -5L25 -3L13 1" fill="none" style="marker:url(#hb1fece7c)"/><path d="M5 -33L-1 -31L-7 -29L-9 -25L-7 -23L27 -23L37 -23L31 -21L33 -21L-5 -19L27 -11L5 -9L25 -9L25 -7L25 -5" fill="none" style="marker:url(#hb1f1f9a9)"/><path d="M-11 -31L-9 -29L5 -29L13 -29L-5 -25L23 -25L-3 -23L33 -19L33 -17L-5 -15L3 -15L13 -7" fill="none" style="marker:url(#hb1d1ed9c)"/><path d="M-3 -31L1 -27L13 -23L7 -21L11 -19L21 -15L25 -15L19 -11L21 -11" fill="none" style="marker:url(#hb169c3a5)"/><path d="M1 -31L25 -19L11 -17L23 -11" fill="none" style="marker:url(#hb197d5a4)"/><path d="M3 -31L-1 -29L-5 -27L23 -23L25 -23L25 -21L27 -21L29 -21L7 -17L11 -15L23 -15L9 -13L15 -11L15 -9L19 -9L11 -7" fill="none" style="marker:url(#hb1a2d9a4)"/><path d="M5 -31L7 -29L-7 -27L19 -25L-9 -23L1 -19L7 -15L25 -13L11 -9" fill="none" style="marker:url(#hb1c8e99e)"/><path d="M-17 -29L-13 -29L-23 -27L29 -23L-5 -17L-3 -17L-1 -17L33 -15L19 -5" fill="none" style="marker:url(#hb1fffcba)"/><path d="M-3 -29L17 -27L29 -15L11 -13" fill="none" style="marker:url(#hb1b5e1a2)"/><path d="M3 -29L-1 -27L23 -21" fill="none" style="marker:url(#hb18cd1a4)"/><path d="M9 -29L13 -27L-1 -25L5 -25L5 -11" fill="none" style="marker:url(#hb1bfe5a0)"/><path d="M11 -29L15 -27L-3 -21L9 -11L25 -11" fill="none" style="marker:url(#hb1daf09a)"/><path d="M3 -27L5 -27L7 -27L1 -21L5 -21L17 -17L17 -13L13 -11" fill="none" style="marker:url(#hb174c7a5)"/><path d="M9 -27L-3 -25L11 -25L17 -25L3 -23L15 -23L19 -21L3 -19L27 -19L29 -19L31 -19L5 -17L5 -15L13 -15L15 -13L19 -13L23 -13" fill="none" style="marker:url(#hb17ecca5)"/><path d="M11 -27L7 -25L9 -25L19 -23L11 -21L17 -21L5 -19L15 -15L27 -15L21 -13" fill="none" style="marker:url(#hb158b2ac)"/><path d="M19 -27L21 -23L31 -17L17 -11L17 -9" fill="none" style="marker:url(#hb1acdda4)"/><path d="M1 -25L19 -19L19 -15" fill="none" style="marker:url(#hb13585bb)"/><path d="M3 -25L13 -25L13 -21L9 -19" fill="none" style="marker:url(#hb13f97b7)"/><path d="M15 -25L-1 -21L3 -21L21 -21L13 -13" fill="none" style="marker:url(#hb160bba8)"/><path d="M-1 -23L29 -17L11 -11" fill="none" style="marker:url(#hb150a9af)"/><path d="M1 -23L5 -23L7 -23L17 -23L9 -21L7 -19L13 -19L23 -19L9 -17L13 -17L15 -17L19 -17L27 -17L9 -15" fill="none" style="marker:url(#hb147a0b3)"/><path d="M9 -23L15 -21L15 -19L17 -19L25 -17" fill="none" style="marker:url(#hb1378ebb)"/><path d="M11 -23L21 -19L21 -17L23 -17L17 -15" fill="none" style="marker:url(#hb13b7cb7)"/><path d="M35 -19L1 -17L3 -17L31 -15L31 -13L7 -11L21 -9L23 -9" fill="none" style="marker:url(#hb1e4f498)"/></g></g> <g id="matplotlib.axis_5"> <g id="xtick_31"> <g id="line2d_67"> <g> <use xlink:href="#m35bc0140a6" x="1217.9" y="666.4" style="stroke: #000000; stroke-width: 4.4"/> </g> </g> <g id="xtl_b_1" transform="translate(1.4 0)">  <g transform="translate(1180.3 715.41)"> <text> <tspan x="0" y="-0.12" style="font-size: 32px; font-family: 'DejaVu Sans', sans-serif">1</tspan> <tspan x="20.36" y="-0.12" style="font-size: 32px; font-family: 'DejaVu Sans', sans-serif">0</tspan> <tspan x="41.02" y="-12.38" style="font-size: 22.4px; font-family: 'DejaVu Sans', sans-serif">−</tspan> <tspan x="59.79" y="-12.38" style="font-size: 22.4px; font-family: 'DejaVu Sans', sans-serif">2</tspan> </text> </g> </g> </g> <g id="xtick_32"> <g id="line2d_68"> <g> <use xlink:href="#m35bc0140a6" x="1406.93" y="666.4" style="stroke: #000000; stroke-width: 4.4"/> </g> </g> <g id="xtl_b_2" transform="translate(1.4 0)">  <g transform="translate(1369.33 715.41)"> <text> <tspan x="0" y="-0.42" style="font-size: 32px; font-family: 'DejaVu Sans', sans-serif">1</tspan> <tspan x="20.36" y="-0.42" style="font-size: 32px; font-family: 'DejaVu Sans', sans-serif">0</tspan> <tspan x="41.02" y="-12.67" style="font-size: 22.4px; font-family: 'DejaVu Sans', sans-serif">−</tspan> <tspan x="59.79" y="-12.67" style="font-size: 22.4px; font-family: 'DejaVu Sans', sans-serif">1</tspan> </text> </g> </g> </g> <g id="xtick_33"> <g id="line2d_69"> <g> <use xlink:href="#m35bc0140a6" x="1595.96" y="666.4" style="stroke: #000000; stroke-width: 4.4"/> </g> </g> <g id="xtl_b_3" transform="translate(1.4 0)">  <g transform="translate(1567.8 715.41)"> <text> <tspan x="0" y="-0.12" style="font-size: 32px; font-family: 'DejaVu Sans', sans-serif">1</tspan> <tspan x="20.36" y="-0.12" style="font-size: 32px; font-family: 'DejaVu Sans', sans-serif">0</tspan> <tspan x="41.02" y="-12.38" style="font-size: 22.4px; font-family: 'DejaVu Sans', sans-serif">0</tspan> </text> </g> </g> </g> <g id="xtick_34"> <g id="line2d_70"> <g> <use xlink:href="#m35bc0140a6" x="1784.99" y="666.4" style="stroke: #000000; stroke-width: 4.4"/> </g> </g> <g id="xtl_b_4" transform="translate(1.4 0)">  <g transform="translate(1756.83 715.41)"> <text> <tspan x="0" y="-0.42" style="font-size: 32px; font-family: 'DejaVu Sans', sans-serif">1</tspan> <tspan x="20.36" y="-0.42" style="font-size: 32px; font-family: 'DejaVu Sans', sans-serif">0</tspan> <tspan x="41.02" y="-12.67" style="font-size: 22.4px; font-family: 'DejaVu Sans', sans-serif">1</tspan> </text> </g> </g> </g> <g id="xtick_35"> <g id="line2d_71"> <g> <use xlink:href="#m0369923372" x="1274.8" y="666.4" style="stroke: #000000; stroke-width: 4"/> </g> </g> </g> <g id="xtick_36"> <g id="line2d_72"> <g> <use xlink:href="#m0369923372" x="1308.09" y="666.4" style="stroke: #000000; stroke-width: 4"/> </g> </g> </g> <g id="xtick_37"> <g id="line2d_73"> <g> <use xlink:href="#m0369923372" x="1331.71" y="666.4" style="stroke: #000000; stroke-width: 4"/> </g> </g> </g> <g id="xtick_38"> <g id="line2d_74"> <g> <use xlink:href="#m0369923372" x="1350.03" y="666.4" style="stroke: #000000; stroke-width: 4"/> </g> </g> </g> <g id="xtick_39"> <g id="line2d_75"> <g> <use xlink:href="#m0369923372" x="1364.99" y="666.4" style="stroke: #000000; stroke-width: 4"/> </g> </g> </g> <g id="xtick_40"> <g id="line2d_76"> <g> <use xlink:href="#m0369923372" x="1377.65" y="666.4" style="stroke: #000000; stroke-width: 4"/> </g> </g> </g> <g id="xtick_41"> <g id="line2d_77"> <g> <use xlink:href="#m0369923372" x="1388.61" y="666.4" style="stroke: #000000; stroke-width: 4"/> </g> </g> </g> <g id="xtick_42"> <g id="line2d_78"> <g> <use xlink:href="#m0369923372" x="1398.28" y="666.4" style="stroke: #000000; stroke-width: 4"/> </g> </g> </g> <g id="xtick_43"> <g id="line2d_79"> <g> <use xlink:href="#m0369923372" x="1463.83" y="666.4" style="stroke: #000000; stroke-width: 4"/> </g> </g> </g> <g id="xtick_44"> <g id="line2d_80"> <g> <use xlink:href="#m0369923372" x="1497.12" y="666.4" style="stroke: #000000; stroke-width: 4"/> </g> </g> </g> <g id="xtick_45"> <g id="line2d_81"> <g> <use xlink:href="#m0369923372" x="1520.74" y="666.4" style="stroke: #000000; stroke-width: 4"/> </g> </g> </g> <g id="xtick_46"> <g id="line2d_82"> <g> <use xlink:href="#m0369923372" x="1539.05" y="666.4" style="stroke: #000000; stroke-width: 4"/> </g> </g> </g> <g id="xtick_47"> <g id="line2d_83"> <g> <use xlink:href="#m0369923372" x="1554.02" y="666.4" style="stroke: #000000; stroke-width: 4"/> </g> </g> </g> <g id="xtick_48"> <g id="line2d_84"> <g> <use xlink:href="#m0369923372" x="1566.68" y="666.4" style="stroke: #000000; stroke-width: 4"/> </g> </g> </g> <g id="xtick_49"> <g id="line2d_85"> <g> <use xlink:href="#m0369923372" x="1577.64" y="666.4" style="stroke: #000000; stroke-width: 4"/> </g> </g> </g> <g id="xtick_50"> <g id="line2d_86"> <g> <use xlink:href="#m0369923372" x="1587.31" y="666.4" style="stroke: #000000; stroke-width: 4"/> </g> </g> </g> <g id="xtick_51"> <g id="line2d_87"> <g> <use xlink:href="#m0369923372" x="1652.86" y="666.4" style="stroke: #000000; stroke-width: 4"/> </g> </g> </g> <g id="xtick_52"> <g id="line2d_88"> <g> <use xlink:href="#m0369923372" x="1686.15" y="666.4" style="stroke: #000000; stroke-width: 4"/> </g> </g> </g> <g id="xtick_53"> <g id="line2d_89"> <g> <use xlink:href="#m0369923372" x="1709.76" y="666.4" style="stroke: #000000; stroke-width: 4"/> </g> </g> </g> <g id="xtick_54"> <g id="line2d_90"> <g> <use xlink:href="#m0369923372" x="1728.08" y="666.4" style="stroke: #000000; stroke-width: 4"/> </g> </g> </g> <g id="xtick_55"> <g id="line2d_91"> <g> <use xlink:href="#m0369923372" x="1743.05" y="666.4" style="stroke: #000000; stroke-width: 4"/> </g> </g> </g> <g id="xtick_56"> <g id="line2d_92"> <g> <use xlink:href="#m0369923372" x="1755.7" y="666.4" style="stroke: #000000; stroke-width: 4"/> </g> </g> </g> <g id="xtick_57"> <g id="line2d_93"> <g> <use xlink:href="#m0369923372" x="1766.67" y="666.4" style="stroke: #000000; stroke-width: 4"/> </g> </g> </g> <g id="xtick_58"> <g id="line2d_94"> <g> <use xlink:href="#m0369923372" x="1776.34" y="666.4" style="stroke: #000000; stroke-width: 4"/> </g> </g> </g> <g id="xtick_59"> <g id="line2d_95"> <g> <use xlink:href="#m0369923372" x="1841.89" y="666.4" style="stroke: #000000; stroke-width: 4"/> </g> </g> </g> <g id="xtick_60"> <g id="line2d_96"> <g> <use xlink:href="#m0369923372" x="1875.18" y="666.4" style="stroke: #000000; stroke-width: 4"/> </g> </g> </g> <g id="xlab_b" transform="translate(5 6.5)">  <g transform="translate(1516.51 754.56)"> <text> <tspan x="0" y="-0.66" style="font-style: oblique; font-size: 37px; font-family: 'DejaVu Sans', sans-serif">β</tspan> <tspan x="23.61" y="5.41" style="font-style: oblique; font-size: 25.9px; font-family: 'DejaVu Sans', sans-serif">p</tspan> <tspan x="45.1" y="5.41" style="font-size: 25.9px; font-family: 'DejaVu Sans', sans-serif">∥</tspan> </text> </g> </g> </g> <g id="matplotlib.axis_6"> <g id="ytick_28"> <g id="line2d_97"> <g> <use xlink:href="#mc86d5cfce7" x="1217.9" y="666.4" style="stroke: #000000; stroke-width: 4.4"/> </g> </g> <g id="text_17">  <g transform="translate(1120.1 678.56)"> <text> <tspan x="0" y="-0.42" style="font-size: 32px; font-family: 'DejaVu Sans', sans-serif">1</tspan> <tspan x="20.36" y="-0.42" style="font-size: 32px; font-family: 'DejaVu Sans', sans-serif">0</tspan> <tspan x="41.02" y="-12.67" style="font-size: 22.4px; font-family: 'DejaVu Sans', sans-serif">−</tspan> <tspan x="59.79" y="-12.67" style="font-size: 22.4px; font-family: 'DejaVu Sans', sans-serif">1</tspan> </text> </g> </g> </g> <g id="ytick_29"> <g id="line2d_98"> <g> <use xlink:href="#mc86d5cfce7" x="1217.9" y="356.2" style="stroke: #000000; stroke-width: 4.4"/> </g> </g> <g id="text_18">  <g transform="translate(1138.98 368.36)"> <text> <tspan x="0" y="-0.12" style="font-size: 32px; font-family: 'DejaVu Sans', sans-serif">1</tspan> <tspan x="20.36" y="-0.12" style="font-size: 32px; font-family: 'DejaVu Sans', sans-serif">0</tspan> <tspan x="41.02" y="-12.38" style="font-size: 22.4px; font-family: 'DejaVu Sans', sans-serif">0</tspan> </text> </g> </g> </g> <g id="ytick_30"> <g id="line2d_99"> <g> <use xlink:href="#mc86d5cfce7" x="1217.9" y="46" style="stroke: #000000; stroke-width: 4.4"/> </g> </g> <g id="text_19">  <g transform="translate(1138.98 58.16)"> <text> <tspan x="0" y="-0.42" style="font-size: 32px; font-family: 'DejaVu Sans', sans-serif">1</tspan> <tspan x="20.36" y="-0.42" style="font-size: 32px; font-family: 'DejaVu Sans', sans-serif">0</tspan> <tspan x="41.02" y="-12.67" style="font-size: 22.4px; font-family: 'DejaVu Sans', sans-serif">1</tspan> </text> </g> </g> </g> <g id="ytick_31"> <g id="line2d_100"> <g> <use xlink:href="#m99f65bdf2d" x="1217.9" y="573.02" style="stroke: #000000; stroke-width: 4"/> </g> </g> </g> <g id="ytick_32"> <g id="line2d_101"> <g> <use xlink:href="#m99f65bdf2d" x="1217.9" y="518.4" style="stroke: #000000; stroke-width: 4"/> </g> </g> </g> <g id="ytick_33"> <g id="line2d_102"> <g> <use xlink:href="#m99f65bdf2d" x="1217.9" y="479.64" style="stroke: #000000; stroke-width: 4"/> </g> </g> </g> <g id="ytick_34"> <g id="line2d_103"> <g> <use xlink:href="#m99f65bdf2d" x="1217.9" y="449.58" style="stroke: #000000; stroke-width: 4"/> </g> </g> </g> <g id="ytick_35"> <g id="line2d_104"> <g> <use xlink:href="#m99f65bdf2d" x="1217.9" y="425.02" style="stroke: #000000; stroke-width: 4"/> </g> </g> </g> <g id="ytick_36"> <g id="line2d_105"> <g> <use xlink:href="#m99f65bdf2d" x="1217.9" y="404.25" style="stroke: #000000; stroke-width: 4"/> </g> </g> </g> <g id="ytick_37"> <g id="line2d_106"> <g> <use xlink:href="#m99f65bdf2d" x="1217.9" y="386.26" style="stroke: #000000; stroke-width: 4"/> </g> </g> </g> <g id="ytick_38"> <g id="line2d_107"> <g> <use xlink:href="#m99f65bdf2d" x="1217.9" y="370.39" style="stroke: #000000; stroke-width: 4"/> </g> </g> </g> <g id="ytick_39"> <g id="line2d_108"> <g> <use xlink:href="#m99f65bdf2d" x="1217.9" y="262.82" style="stroke: #000000; stroke-width: 4"/> </g> </g> </g> <g id="ytick_40"> <g id="line2d_109"> <g> <use xlink:href="#m99f65bdf2d" x="1217.9" y="208.2" style="stroke: #000000; stroke-width: 4"/> </g> </g> </g> <g id="ytick_41"> <g id="line2d_110"> <g> <use xlink:href="#m99f65bdf2d" x="1217.9" y="169.44" style="stroke: #000000; stroke-width: 4"/> </g> </g> </g> <g id="ytick_42"> <g id="line2d_111"> <g> <use xlink:href="#m99f65bdf2d" x="1217.9" y="139.38" style="stroke: #000000; stroke-width: 4"/> </g> </g> </g> <g id="ytick_43"> <g id="line2d_112"> <g> <use xlink:href="#m99f65bdf2d" x="1217.9" y="114.82" style="stroke: #000000; stroke-width: 4"/> </g> </g> </g> <g id="ytick_44"> <g id="line2d_113"> <g> <use xlink:href="#m99f65bdf2d" x="1217.9" y="94.05" style="stroke: #000000; stroke-width: 4"/> </g> </g> </g> <g id="ytick_45"> <g id="line2d_114"> <g> <use xlink:href="#m99f65bdf2d" x="1217.9" y="76.06" style="stroke: #000000; stroke-width: 4"/> </g> </g> </g> <g id="ytick_46"> <g id="line2d_115"> <g> <use xlink:href="#m99f65bdf2d" x="1217.9" y="60.19" style="stroke: #000000; stroke-width: 4"/> </g> </g> </g> <g id="ylab_b" transform="translate(-8.1 -2.45)">  <g transform="translate(1094.14 381.76) rotate(-90)"> <text> <tspan x="0" y="-23.62" style="font-style: oblique; font-size: 25.2px; font-family: 'DejaVu Sans', sans-serif">T</tspan> <tspan x="2" y="13.8" style="font-style: oblique; font-size: 25.2px; font-family: 'DejaVu Sans', sans-serif">T</tspan> <tspan x="15.39" y="-19.49" style="font-style: oblique; font-size: 17.64px; font-family: 'DejaVu Sans', sans-serif">p</tspan> <tspan x="17.39" y="17.94" style="font-style: oblique; font-size: 17.64px; font-family: 'DejaVu Sans', sans-serif">p</tspan> <tspan x="30.03" y="-19.49" style="font-size: 17.64px; font-family: 'STIXGeneral'">⟂</tspan> <tspan x="32.03" y="17.94" style="font-size: 17.64px; font-family: 'DejaVu Sans', sans-serif">∥</tspan> </text> <rect x="0" y="-7.82" width="46.38" height="2.25"/> </g> </g> </g> <g id="line2d_116"> <path d="M 1308.09 161.64  L 1328.14 170.22  L 1348.19 178.56  L 1368.24 186.68  L 1389.72 195.12  L 1411.2 203.31  L 1432.68 211.25  L 1454.16 218.94  L 1474.21 225.89  L 1494.26 232.62  L 1514.31 239.12  L 1534.36 245.41  L 1554.41 251.46  L 1574.46 257.3  L 1594.51 262.9  L 1614.56 268.28  L 1634.61 273.44  L 1654.66 278.37  L 1674.71 283.08  L 1694.76 287.57  L 1714.81 291.85  L 1736.29 296.2  L 1757.77 300.31  L 1779.25 304.19  L 1800.73 307.85  L 1822.22 311.29  L 1845.13 314.73  L 1868.04 317.94  L 1879.5 319.47  L 1879.5 319.47  " clip-path="url(#pff59fe153e)" style="fill: none; stroke: #000000; stroke-width: 4.4; stroke-linecap: square"/> </g> <g id="line2d_117"> <path d="M 1308.09 163.72  L 1328.14 172.26  L 1348.19 180.55  L 1368.24 188.62  L 1389.72 197.01  L 1411.2 205.15  L 1432.68 213.04  L 1454.16 220.67  L 1474.21 227.57  L 1494.26 234.25  L 1514.31 240.7  L 1534.36 246.93  L 1554.41 252.93  L 1574.46 258.7  L 1594.51 264.26  L 1614.56 269.58  L 1634.61 274.68  L 1654.66 279.56  L 1674.71 284.21  L 1694.76 288.65  L 1714.81 292.88  L 1736.29 297.17  L 1757.77 301.23  L 1779.25 305.06  L 1800.73 308.67  L 1822.22 312.06  L 1845.13 315.45  L 1868.04 318.61  L 1879.5 320.11  L 1879.5 320.11  " clip-path="url(#pff59fe153e)" style="fill: none; stroke-dasharray: 16.28,7.04; stroke-dashoffset: 0; stroke: #000000; stroke-width: 4.4"/> </g> <g id="line2d_118"> <path d="M 1598.66 1580  L 1598.66 1255.45  L 1598.98 1067.34  L 1599.47 966.11  L 1599.95 909.4  L 1600.59 859.05  L 1601.39 815.22  L 1602.2 782.64  L 1603.16 752.2  L 1604.29 724.15  L 1605.41 701.38  L 1606.7 679.78  L 1608.15 659.47  L 1609.59 642.25  L 1611.2 625.79  L 1612.81 611.5  L 1614.58 597.73  L 1616.51 584.54  L 1618.43 572.88  L 1620.52 561.64  L 1622.61 551.58  L 1624.86 541.84  L 1627.12 533.05  L 1629.53 524.52  L 1632.1 516.26  L 1634.67 508.76  L 1637.4 501.48  L 1640.14 494.81  L 1643.03 488.34  L 1646.08 482.07  L 1649.14 476.3  L 1652.35 470.71  L 1655.73 465.29  L 1659.11 460.29  L 1662.64 455.43  L 1666.34 450.74  L 1670.2 446.2  L 1674.22 441.83  L 1678.4 437.61  L 1682.74 433.56  L 1687.24 429.66  L 1691.9 425.92  L 1696.72 422.33  L 1701.87 418.78  L 1707.17 415.39  L 1712.8 412.07  L 1718.58 408.91  L 1724.69 405.82  L 1731.12 402.82  L 1737.88 399.92  L 1744.95 397.12  L 1752.5 394.37  L 1760.38 391.75  L 1768.74 389.2  L 1777.58 386.73  L 1786.91 384.36  L 1796.87 382.07  L 1807.48 379.86  L 1818.73 377.74  L 1830.63 375.73  L 1843.33 373.82  L 1856.99 371.98  L 1871.62 370.24  L 1879.5 369.39  L 1879.5 369.39  " clip-path="url(#pff59fe153e)" style="fill: none; stroke: #000000; stroke-width: 4.4; stroke-linecap: square"/> </g> <g id="line2d_119"> <path d="M 1606.7 1580  L 1606.7 1227.64  L 1607.02 1075.83  L 1607.5 981.84  L 1607.99 927.28  L 1608.63 878.05  L 1609.43 834.73  L 1610.24 802.27  L 1611.2 771.76  L 1612.33 743.48  L 1613.45 720.4  L 1614.74 698.4  L 1616.18 677.62  L 1617.63 659.9  L 1619.24 642.89  L 1621.01 626.67  L 1622.77 612.46  L 1624.7 598.78  L 1626.63 586.62  L 1628.72 574.84  L 1630.97 563.47  L 1633.22 553.23  L 1635.64 543.31  L 1638.05 534.31  L 1640.62 525.55  L 1643.19 517.55  L 1645.92 509.76  L 1648.82 502.2  L 1651.71 495.25  L 1654.76 488.49  L 1657.82 482.25  L 1661.03 476.18  L 1664.41 470.28  L 1667.79 464.82  L 1671.32 459.51  L 1675.02 454.37  L 1678.88 449.39  L 1682.74 444.77  L 1686.76 440.29  L 1690.93 435.96  L 1695.28 431.79  L 1699.78 427.76  L 1704.44 423.89  L 1709.26 420.17  L 1714.24 416.6  L 1719.55 413.07  L 1725.01 409.71  L 1730.8 406.41  L 1736.75 403.28  L 1743.02 400.23  L 1749.61 397.28  L 1756.52 394.44  L 1763.76 391.7  L 1771.31 389.09  L 1779.35 386.55  L 1787.71 384.14  L 1796.55 381.82  L 1805.87 379.6  L 1815.84 377.47  L 1826.45 375.43  L 1837.7 373.49  L 1849.76 371.65  L 1862.62 369.91  L 1876.45 368.27  L 1879.5 367.94  L 1879.5 367.94  " clip-path="url(#pff59fe153e)" style="fill: none; stroke-dasharray: 16.28,7.04; stroke-dashoffset: 0; stroke: #000000; stroke-width: 4.4"/> </g> <g id="line2d_120"> <path d="M 1308.09 57.55  L 1335.3 79.29  L 1386.86 120.54  L 1408.34 137.42  L 1426.95 151.77  L 1444.14 164.73  L 1459.89 176.33  L 1474.21 186.61  L 1488.53 196.62  L 1501.42 205.37  L 1514.31 213.88  L 1527.2 222.12  L 1540.09 230.09  L 1552.98 237.77  L 1564.44 244.36  L 1575.89 250.71  L 1587.35 256.82  L 1598.81 262.7  L 1610.26 268.33  L 1621.72 273.71  L 1633.18 278.86  L 1644.63 283.77  L 1656.09 288.43  L 1667.55 292.87  L 1679.01 297.07  L 1690.46 301.05  L 1701.92 304.82  L 1713.38 308.36  L 1726.26 312.11  L 1739.15 315.61  L 1752.04 318.86  L 1764.93 321.89  L 1777.82 324.7  L 1792.14 327.58  L 1806.46 330.22  L 1820.78 332.64  L 1836.54 335.06  L 1852.29 337.25  L 1868.04 339.23  L 1879.5 340.54  L 1879.5 340.54  " clip-path="url(#pff59fe153e)" style="fill: none; stroke: #0000ff; stroke-width: 4.4; stroke-linecap: square"/> </g> <g id="line2d_121"> <path d="M 1308.09 56.12  L 1333.87 76.74  L 1389.72 121.48  L 1411.2 138.36  L 1429.82 152.7  L 1447 165.64  L 1462.76 177.22  L 1477.08 187.49  L 1491.4 197.47  L 1504.29 206.21  L 1517.18 214.69  L 1530.07 222.91  L 1542.95 230.85  L 1555.84 238.51  L 1567.3 245.07  L 1578.76 251.4  L 1590.21 257.48  L 1601.67 263.33  L 1613.13 268.93  L 1624.59 274.29  L 1636.04 279.41  L 1647.5 284.29  L 1658.96 288.94  L 1670.41 293.34  L 1681.87 297.52  L 1693.33 301.48  L 1704.78 305.22  L 1716.24 308.74  L 1729.13 312.47  L 1742.02 315.94  L 1754.91 319.17  L 1767.8 322.17  L 1780.68 324.96  L 1795.01 327.82  L 1809.33 330.44  L 1823.65 332.84  L 1839.4 335.25  L 1855.15 337.42  L 1872.34 339.55  L 1879.5 340.37  L 1879.5 340.37  " clip-path="url(#pff59fe153e)" style="fill: none; stroke-dasharray: 16.28,7.04; stroke-dashoffset: 0; stroke: #0000ff; stroke-width: 4.4"/> </g> <g id="line2d_122"> <path d="M 1625.83 1580  L 1625.83 1268.4  L 1626.15 1045.94  L 1626.63 939.59  L 1627.12 881.39  L 1627.76 830.2  L 1628.56 785.91  L 1629.37 753.12  L 1630.33 722.57  L 1631.46 694.49  L 1632.58 671.74  L 1633.87 650.2  L 1635.31 630  L 1636.76 612.9  L 1638.37 596.59  L 1639.98 582.47  L 1641.74 568.88  L 1643.51 556.92  L 1645.44 545.36  L 1647.53 534.26  L 1649.62 524.36  L 1651.87 514.81  L 1654.12 506.22  L 1656.53 497.91  L 1658.94 490.39  L 1661.52 483.09  L 1664.09 476.45  L 1666.82 470.01  L 1669.55 464.11  L 1672.45 458.38  L 1675.5 452.84  L 1678.56 447.75  L 1681.77 442.83  L 1685.15 438.07  L 1688.52 433.69  L 1692.06 429.46  L 1695.76 425.38  L 1699.62 421.46  L 1703.63 417.69  L 1707.81 414.09  L 1712.15 410.63  L 1716.66 407.34  L 1721.32 404.2  L 1726.3 401.11  L 1731.44 398.18  L 1736.91 395.33  L 1742.7 392.57  L 1748.65 389.98  L 1755.08 387.42  L 1761.83 384.98  L 1768.9 382.66  L 1776.46 380.42  L 1784.49 378.28  L 1793.01 376.24  L 1802.18 374.27  L 1811.98 372.41  L 1822.43 370.65  L 1833.68 368.98  L 1845.74 367.43  L 1858.92 365.95  L 1873.23 364.58  L 1879.5 364.05  L 1879.5 364.05  " clip-path="url(#pff59fe153e)" style="fill: none; stroke: #0000ff; stroke-width: 4.4; stroke-linecap: square"/> </g> <g id="line2d_123"> <path d="M 1626.47 1580  L 1626.47 1176.02  L 1626.79 1022.14  L 1627.28 927.91  L 1627.76 873.46  L 1628.4 824.53  L 1629.2 781.63  L 1630.01 749.62  L 1630.97 719.65  L 1632.1 692  L 1633.22 669.55  L 1634.51 648.26  L 1635.96 628.26  L 1637.4 611.31  L 1639.01 595.14  L 1640.62 581.12  L 1642.39 567.63  L 1644.16 555.75  L 1646.08 544.26  L 1648.17 533.22  L 1650.26 523.38  L 1652.51 513.89  L 1654.76 505.35  L 1657.18 497.09  L 1659.59 489.6  L 1662.16 482.35  L 1664.73 475.75  L 1667.46 469.34  L 1670.2 463.47  L 1673.09 457.77  L 1676.15 452.26  L 1679.2 447.21  L 1682.41 442.31  L 1685.79 437.58  L 1689.17 433.22  L 1692.7 429.01  L 1696.4 424.96  L 1700.26 421.06  L 1704.28 417.31  L 1708.46 413.73  L 1712.8 410.3  L 1717.3 407.02  L 1721.96 403.9  L 1726.94 400.83  L 1732.09 397.92  L 1737.55 395.09  L 1743.34 392.34  L 1749.45 389.7  L 1755.88 387.16  L 1762.63 384.74  L 1769.7 382.44  L 1777.26 380.22  L 1785.3 378.1  L 1793.82 376.07  L 1802.98 374.12  L 1812.79 372.27  L 1823.24 370.53  L 1834.49 368.88  L 1846.71 367.32  L 1859.89 365.86  L 1874.2 364.5  L 1879.5 364.05  L 1879.5 364.05  " clip-path="url(#pff59fe153e)" style="fill: none; stroke-dasharray: 16.28,7.04; stroke-dashoffset: 0; stroke: #0000ff; stroke-width: 4.4"/> </g> <g id="patch_10"> <path d="M 1217.9 666.4  L 1217.9 46  " style="fill: none; stroke: #000000; stroke-width: 1.6; stroke-linejoin: miter; stroke-linecap: square"/> </g> <g id="patch_11"> <path d="M 1879.5 666.4  L 1879.5 46  " style="fill: none; stroke: #000000; stroke-width: 1.6; stroke-linejoin: miter; stroke-linecap: square"/> </g> <g id="patch_12"> <path d="M 1217.9 666.4  L 1879.5 666.4  " style="fill: none; stroke: #000000; stroke-width: 1.6; stroke-linejoin: miter; stroke-linecap: square"/> </g> <g id="patch_13"> <path d="M 1217.9 46  L 1879.5 46  " style="fill: none; stroke: #000000; stroke-width: 1.6; stroke-linejoin: miter; stroke-linecap: square"/> </g> <g id="line2d_124"> <path d="M 1652.86 666.4  L 1652.86 43.33  " style="fill: none; stroke-dasharray: 15.8,12.2; stroke-dashoffset: 0; stroke: #00b050; stroke-width: 3.75"/> </g> <g id="text_20"> <text style="font-size: 31.6px; font-family: 'DejaVu Sans', sans-serif; text-anchor: start" x="1596.7" y="139.8" transform="rotate(-0 1596.7 139.8)">PCI</text> </g> <g id="text_21"> <text style="font-size: 31.6px; font-family: 'DejaVu Sans', sans-serif; text-anchor: start; fill: #0000ff" x="1728.9" y="139.8" transform="rotate(-0 1728.9 139.8)">MM</text> </g> <g id="text_22"> <text style="font-size: 31.6px; font-family: 'DejaVu Sans', sans-serif; text-anchor: start" x="1710.9" y="573.9" transform="rotate(-0 1710.9 573.9)">PFH</text> </g> <g id="text_23"> <text style="font-size: 31.6px; font-family: 'DejaVu Sans', sans-serif; text-anchor: start; fill: #0000ff" x="1785.4" y="573.9" transform="rotate(-0 1785.4 573.9)">OFH</text> </g> <g id="text_24"> <text style="font-weight: 700; font-size: 54.3px; font-family: 'Liberation Sans', sans-serif; text-anchor: start" x="1239.9" y="112.9" transform="rotate(-0 1239.9 112.9)">(b)</text> </g> <g id="title_b" transform="translate(0.5 0)">  <g transform="translate(1175.24 25.8)"> <text> <tspan x="0" y="-0.63" style="font-style: oblique; font-size: 27.4px; font-family: 'DejaVu Sans', sans-serif">γ</tspan> <tspan x="162" y="-0.63" style="font-style: oblique; font-size: 27.4px; font-family: 'DejaVu Sans', sans-serif">S</tspan> <tspan x="179.37" y="-0.63" style="font-style: oblique; font-size: 27.4px; font-family: 'DejaVu Sans', sans-serif">o</tspan> <tspan x="196.12" y="-0.63" style="font-style: oblique; font-size: 27.4px; font-family: 'DejaVu Sans', sans-serif">l</tspan> <tspan x="203.73" y="-0.63" style="font-style: oblique; font-size: 27.4px; font-family: 'DejaVu Sans', sans-serif">i</tspan> <tspan x="211.33" y="-0.63" style="font-style: oblique; font-size: 27.4px; font-family: 'DejaVu Sans', sans-serif">d</tspan> <tspan x="248.6" y="-0.63" style="font-style: oblique; font-size: 27.4px; font-family: 'DejaVu Sans', sans-serif">ζ</tspan> <tspan x="354.66" y="-0.63" style="font-style: oblique; font-size: 27.4px; font-family: 'DejaVu Sans', sans-serif">D</tspan> <tspan x="375.74" y="-0.63" style="font-style: oblique; font-size: 27.4px; font-family: 'DejaVu Sans', sans-serif">a</tspan> <tspan x="392.52" y="-0.63" style="font-style: oblique; font-size: 27.4px; font-family: 'DejaVu Sans', sans-serif">s</tspan> <tspan x="406.78" y="-0.63" style="font-style: oblique; font-size: 27.4px; font-family: 'DejaVu Sans', sans-serif">h</tspan> <tspan x="424.13" y="-0.63" style="font-style: oblique; font-size: 27.4px; font-family: 'DejaVu Sans', sans-serif">e</tspan> <tspan x="440.97" y="-0.63" style="font-style: oblique; font-size: 27.4px; font-family: 'DejaVu Sans', sans-serif">d</tspan> <tspan x="478.24" y="-0.63" style="font-style: oblique; font-size: 27.4px; font-family: 'DejaVu Sans', sans-serif">ζ</tspan> <tspan x="558.19" y="-0.63" style="font-style: oblique; font-size: 27.4px; font-family: 'DejaVu Sans', sans-serif">V</tspan> <tspan x="576.91" y="-0.63" style="font-style: oblique; font-size: 27.4px; font-family: 'DejaVu Sans', sans-serif">p</tspan> <tspan x="680.14" y="-0.63" style="font-style: oblique; font-size: 27.4px; font-family: 'DejaVu Sans', sans-serif">k</tspan> <tspan x="696" y="-0.63" style="font-style: oblique; font-size: 27.4px; font-family: 'DejaVu Sans', sans-serif">m</tspan> <tspan x="731.89" y="-0.63" style="font-style: oblique; font-size: 27.4px; font-family: 'DejaVu Sans', sans-serif">s</tspan> <tspan x="21.53" y="-0.63" style="font-size: 27.4px; font-family: 'DejaVu Sans', sans-serif">=</tspan> <tspan x="49.8" y="-0.63" style="font-size: 27.4px; font-family: 'DejaVu Sans', sans-serif">1</tspan> <tspan x="67.22" y="-0.63" style="font-size: 27.4px; font-family: 'DejaVu Sans', sans-serif">0</tspan> <tspan x="113.88" y="-0.63" style="font-size: 27.4px; font-family: 'DejaVu Sans', sans-serif">Ω</tspan> <tspan x="147.96" y="-0.63" style="font-size: 27.4px; font-family: 'DejaVu Sans', sans-serif">,</tspan> <tspan x="234.04" y="-0.63" style="font-size: 27.4px; font-family: 'DejaVu Sans', sans-serif">:</tspan> <tspan x="268.82" y="-0.63" style="font-size: 27.4px; font-family: 'DejaVu Sans', sans-serif">=</tspan> <tspan x="297.09" y="-0.63" style="font-size: 27.4px; font-family: 'DejaVu Sans', sans-serif">0</tspan> <tspan x="314.51" y="-0.63" style="font-size: 27.4px; font-family: 'DejaVu Sans', sans-serif">.</tspan> <tspan x="323.21" y="-0.63" style="font-size: 27.4px; font-family: 'DejaVu Sans', sans-serif">5</tspan> <tspan x="340.63" y="-0.63" style="font-size: 27.4px; font-family: 'DejaVu Sans', sans-serif">,</tspan> <tspan x="463.68" y="-0.63" style="font-size: 27.4px; font-family: 'DejaVu Sans', sans-serif">:</tspan> <tspan x="498.46" y="-0.63" style="font-size: 27.4px; font-family: 'DejaVu Sans', sans-serif">=</tspan> <tspan x="526.73" y="-0.63" style="font-size: 27.4px; font-family: 'DejaVu Sans', sans-serif">0</tspan> <tspan x="544.15" y="-0.63" style="font-size: 27.4px; font-family: 'DejaVu Sans', sans-serif">,</tspan> <tspan x="599.62" y="-0.63" style="font-size: 27.4px; font-family: 'DejaVu Sans', sans-serif">≤</tspan> <tspan x="627.89" y="-0.63" style="font-size: 27.4px; font-family: 'DejaVu Sans', sans-serif">4</tspan> <tspan x="645.31" y="-0.63" style="font-size: 27.4px; font-family: 'DejaVu Sans', sans-serif">0</tspan> <tspan x="662.73" y="-0.63" style="font-size: 27.4px; font-family: 'DejaVu Sans', sans-serif">0</tspan> <tspan x="722.66" y="-0.63" style="font-size: 27.4px; font-family: 'DejaVu Sans', sans-serif">/</tspan> <tspan x="84.9" y="-10.97" style="font-size: 19.18px; font-family: 'DejaVu Sans', sans-serif">−</tspan> <tspan x="100.95" y="-10.97" style="font-size: 19.18px; font-family: 'DejaVu Sans', sans-serif">2</tspan> <tspan x="135.06" y="3.8" style="font-style: oblique; font-size: 19.18px; font-family: 'DejaVu Sans', sans-serif">p</tspan> </text> </g> </g> </g> <g id="axes_4"> <g id="cbbg_b"> <path d="M 1921.6 666.4  L 1952.4 666.4  L 1952.4 46  L 1921.6 46  z " style="fill: #ffffff"/> </g><rect x="1921.60" y="46.00" width="30.80" height="620.40" fill="url(#cg_b)"/> <g id="matplotlib.axis_7"/> <g id="matplotlib.axis_8"> <g id="ytick_47"> <g id="line2d_125"> <g> <use xlink:href="#m5e54e8ce2d" x="1952.4" y="653.24" style="stroke: #000000; stroke-width: 1.8"/> </g> </g> <g id="text_25"> <text style="font-size: 22.5px; font-family: 'DejaVu Sans', sans-serif; text-anchor: start" x="1968.4" y="661.79" transform="rotate(-0 1968.4 661.79)">0.8</text> </g> </g> <g id="ytick_48"> <g id="line2d_126"> <g> <use xlink:href="#m5e54e8ce2d" x="1952.4" y="532.52" style="stroke: #000000; stroke-width: 1.8"/> </g> </g> <g id="text_26"> <text style="font-size: 22.5px; font-family: 'DejaVu Sans', sans-serif; text-anchor: start" x="1968.4" y="541.07" transform="rotate(-0 1968.4 541.07)">1.0</text> </g> </g> <g id="ytick_49"> <g id="line2d_127"> <g> <use xlink:href="#m5e54e8ce2d" x="1952.4" y="411.79" style="stroke: #000000; stroke-width: 1.8"/> </g> </g> <g id="text_27"> <text style="font-size: 22.5px; font-family: 'DejaVu Sans', sans-serif; text-anchor: start" x="1968.4" y="420.34" transform="rotate(-0 1968.4 420.34)">1.2</text> </g> </g> <g id="ytick_50"> <g id="line2d_128"> <g> <use xlink:href="#m5e54e8ce2d" x="1952.4" y="291.07" style="stroke: #000000; stroke-width: 1.8"/> </g> </g> <g id="text_28"> <text style="font-size: 22.5px; font-family: 'DejaVu Sans', sans-serif; text-anchor: start" x="1968.4" y="299.62" transform="rotate(-0 1968.4 299.62)">1.4</text> </g> </g> <g id="ytick_51"> <g id="line2d_129"> <g> <use xlink:href="#m5e54e8ce2d" x="1952.4" y="170.35" style="stroke: #000000; stroke-width: 1.8"/> </g> </g> <g id="text_29"> <text style="font-size: 22.5px; font-family: 'DejaVu Sans', sans-serif; text-anchor: start" x="1968.4" y="178.89" transform="rotate(-0 1968.4 178.89)">1.6</text> </g> </g> <g id="ytick_52"> <g id="line2d_130"> <g> <use xlink:href="#m5e54e8ce2d" x="1952.4" y="49.62" style="stroke: #000000; stroke-width: 1.8"/> </g> </g> <g id="text_30"> <text style="font-size: 22.5px; font-family: 'DejaVu Sans', sans-serif; text-anchor: start" x="1968.4" y="58.17" transform="rotate(-0 1968.4 58.17)">1.8</text> </g> </g> <g id="cblab_b" transform="translate(-8.2 3.6)" clip-path="url(#cbc_b)"> <text style="font-size: 36.7px; font-family: 'DejaVu Sans', sans-serif; text-anchor: middle" x="2052.07" y="356.2" transform="rotate(-90 2052.07 356.2)">log10(count)</text> </g> </g> <g id="patch_14"> <path d="M 1921.6 666.4  L 1921.6 46  " style="fill: none; stroke: #000000; stroke-width: 1.6; stroke-linejoin: miter; stroke-linecap: square"/> </g> <g id="patch_15"> <path d="M 1952.4 666.4  L 1952.4 46  " style="fill: none; stroke: #000000; stroke-width: 1.6; stroke-linejoin: miter; stroke-linecap: square"/> </g> <g id="patch_16"> <path d="M 1921.6 666.4  L 1952.4 666.4  " style="fill: none; stroke: #000000; stroke-width: 1.6; stroke-linejoin: miter; stroke-linecap: square"/> </g> <g id="patch_17"> <path d="M 1921.6 46  L 1952.4 46  " style="fill: none; stroke: #000000; stroke-width: 1.6; stroke-linejoin: miter; stroke-linecap: square"/> </g> </g> <g id="axes_5"> <g id="axbg_c"> <path d="M 679.9 1471.5  L 1341.5 1471.5  L 1341.5 851.1  L 679.9 851.1  z " style="fill: #ffffff"/> </g><g clip-path="url(#clip_c)"><g transform="translate(858.1 1203.3) scale(4.64 6.08)"><path d="M4 -38L6 -38L14 -30L18 -28L20 -28L30 -28L0 -26L24 -26L28 -26L-8 -24L-6 -24L-6 -22L-10 -20L50 -20L-8 -16L64 -16L68 -14L-6 -12L-4 -12L82 -12L-4 -10L-2 -8L-6 -4L-2 -4L0 -4L2 -4L96 -4L92 -2L96 -2L4 0L6 2L80 4L16 6L68 8L74 8L78 8L22 10L24 10L66 10L68 10L22 12L60 16L44 20L48 20L44 22L46 24L54 24" fill="none" style="marker:url(#hc0b81e48)"/><path d="M18 -38L-4 -36L4 -32L18 -32L-4 -28L6 -28L24 -28L18 -26L30 -26L-10 -22L-8 -18L-4 -18L-6 -14L66 -14L0 -12L72 -12L98 -10L104 -8L100 -6L98 -4L2 -2L88 -2L6 0L80 0L90 0L10 4L72 6L72 8L32 14L66 14L68 14L28 16L62 16L48 18L58 18L34 20L52 20L30 22L54 22L36 24L44 24L42 26L48 26" fill="none" style="marker:url(#hc09e0142)"/><path d="M6 -32L2 -30L12 -30L14 -28L-6 -26L20 -26L-4 -24L2 -24L30 -24L36 -24L-2 -22L6 -22L0 -20L-6 -16L-4 -14L-2 -12L86 -10L92 -10L2 -8L92 -8L94 -6L94 -4L10 0L8 2L16 2L76 2L14 4L70 4L72 4L14 6L24 12L64 12L62 14L50 16L54 18" fill="none" style="marker:url(#hc0f06744)"/><path d="M14 -32L0 -30L2 -28L16 -28L22 -26L-8 -22L4 -22L-6 -20L56 -18L-2 -14L-2 -10L100 -10L0 -8L-2 -6L6 -2L8 -2L86 -2L94 -2L8 0L86 0L12 2L82 2L16 8L22 8L70 8L70 10L66 12L34 14L52 14L60 14L36 16L30 18L34 18L56 18L32 20L40 20L54 20L34 22L38 22L50 26" fill="none" style="marker:url(#hc0d23a4e)"/><path d="M4 -30L8 -30L22 -28L-4 -26L-2 -18L52 -18L-4 -16L60 -16L70 -14L2 -12L94 -10L94 -8L8 -4L18 0L84 0L10 2L78 2L74 6L76 6L18 8L24 8L66 8L28 10L30 10L26 12L32 12L62 12L28 14L30 14L36 18L42 18L50 18L40 22L50 22L52 22L40 24L44 26" fill="none" style="marker:url(#hc0dd4a4c)"/><path d="M6 -30L8 -28L-2 -26L4 -26L26 -26L-2 -24L2 -22L-4 -20L76 -12L78 -12L4 -8L88 -8L100 -8L90 -6L100 -4L82 0L18 6L22 6L64 10L30 12L36 12L54 16L38 20L42 22L48 24" fill="none" style="marker:url(#hc0e75948)"/><path d="M0 -28L10 -28L10 -26L38 -22L44 -20L2 -18L4 -16L6 -16L2 -14L60 -14L70 -12L0 -10L2 -10L76 -10L82 -10L-4 -8L10 -2L16 -2L18 2L72 2L26 8L34 12L60 12L54 14L56 14L52 16L56 16L52 24" fill="none" style="marker:url(#hc0fca55d)"/><path d="M4 -28L12 -28L6 -26L8 -26L0 -24L4 -24L24 -24L34 -24L0 -22L48 -20L56 -16L6 -4L82 -4L92 -4L12 0L14 2L12 4L16 4L76 4L28 12L36 14L40 16L38 18L46 18L42 20L50 20" fill="none" style="marker:url(#hc0f67a49)"/><path d="M2 -26L14 -26L32 -24L40 -22L2 -16L62 -14L64 -14L4 -10L84 -10L96 -8L102 -8L2 -6L12 -6L4 -2L70 2L24 6L66 6L70 6L62 10L58 14L34 16" fill="none" style="marker:url(#hc0f99153)"/><path d="M12 -26L8 -24L12 -24L22 -24L28 -22L32 -22L6 -10L6 -8L12 -8L76 -8L78 -8L80 -8L82 -6L80 -4L84 -4L12 -2L84 -2L70 0L26 4L30 8L64 8L42 16L44 16L46 16L44 18" fill="none" style="marker:url(#hc0fece7c)"/><path d="M16 -26L20 -24L14 -18L64 -12L24 2L24 4L56 12L40 14L48 16" fill="none" style="marker:url(#hc0fede89)"/><path d="M6 -24L28 -24L-2 -16L0 -16L78 -10L90 -8L0 -6L4 -6L98 -6L88 -4L20 2L80 2L28 6L68 6L26 10L38 16L40 18" fill="none" style="marker:url(#hc0fa9b58)"/><path d="M10 -24L14 -24L8 -22L10 -22L22 -22L4 -20L6 -20L8 -20L14 -20L4 -18L46 -18L54 -16L68 -12L10 -10L12 -10L10 -4L20 -2L28 2L20 6L26 6L54 10" fill="none" style="marker:url(#hc0fee999)"/><path d="M16 -24L14 -22L42 -20L80 -6L86 -6L22 0L42 14L46 14L48 14" fill="none" style="marker:url(#hc0feeda1)"/><path d="M18 -24L12 -22L6 -18L0 -14L8 -8L6 -6L8 -6L10 -6L12 -4L68 2L28 4L68 4L30 6L36 8L34 10L38 12L58 12L52 18" fill="none" style="marker:url(#hc0fed683)"/><path d="M26 -24L34 -22L36 -22L0 -18L10 -18L4 -14L4 -12L66 -12L74 -12L74 -10L84 -8L92 -6L104 -6L90 -4L74 -2L78 -2L82 -2L78 0L22 4L60 8L62 8L32 10L58 10" fill="none" style="marker:url(#hc0fdbf6f)"/><path d="M16 -22L2 -20L82 -8L96 -6L16 0L20 0L72 0L18 4L32 8L36 10L38 14" fill="none" style="marker:url(#hc0fdc776)"/><path d="M18 -22L20 -20L28 -20L30 -18L44 -18L16 -14L18 -6L56 8" fill="none" style="marker:url(#hc0f9fcb5)"/><path d="M20 -22L30 -22L12 -20L32 -20L34 -20L38 -20L52 -16L64 -10L70 -10L72 -6L88 -6L70 -4L72 -2L22 2L64 4L32 6L34 6L56 6L60 6L40 10L40 12L44 14" fill="none" style="marker:url(#hc0fdfebb)"/><path d="M24 -22L24 -18L34 -18L70 -8L74 -8L68 0L36 6L38 8L42 12L50 12" fill="none" style="marker:url(#hc0f1f9a9)"/><path d="M26 -22L36 -20L6 -12L8 -12L10 -12L8 -10L16 -6L14 -4L14 0L64 6L54 12" fill="none" style="marker:url(#hc0fee491)"/><path d="M-2 -20L10 -20L46 -20L72 -10L86 -8L102 -6L14 -2L80 -2L76 0L74 2L20 4L28 8L60 10" fill="none" style="marker:url(#hc0fdb768)"/><path d="M16 -20L16 -18L50 -18L50 -16L8 -14L12 -14L66 -10L20 -4L70 -2L24 0L52 12" fill="none" style="marker:url(#hc0f5fbaf)"/><path d="M18 -20L28 -18L40 -18L46 -16L16 -8L72 -8L24 -6L18 -4L22 -4L26 0L44 8L42 10L44 10L46 10" fill="none" style="marker:url(#hc0e4f498)"/><path d="M22 -20L40 -20L8 -18L48 -18L6 -14L56 -14L14 -8L78 -6L16 -4L74 -4L76 -4L78 -4L86 -4L76 -2L74 0L66 2L62 6L58 8L38 10L56 10" fill="none" style="marker:url(#hc0fff2aa)"/><path d="M24 -20L30 -20L20 -18L26 -18L14 -16L54 -14L16 -12L14 -10L62 -10L10 -8L64 -8L20 -6L74 -6L76 -6L68 -2L66 0L32 2L64 2L30 4L32 4L62 4L40 8L52 8L50 10L48 12" fill="none" style="marker:url(#hc0e9f69d)"/><path d="M26 -20L18 -18L38 -18L36 -16L48 -16L20 -14L60 -12L18 -10L60 -10L26 -4L62 0L30 2L62 2L50 6L54 6L46 8L48 8" fill="none" style="marker:url(#hc0d1ed9c)"/><path d="M12 -18L36 -18L14 -6L26 2L38 6L54 8" fill="none" style="marker:url(#hc0edf8a3)"/><path d="M22 -18L10 -16L12 -16L10 -14L58 -14L18 -2L58 6L52 10L44 12L50 14" fill="none" style="marker:url(#hc0fffcba)"/><path d="M32 -18L20 -16L22 -16L24 -16L40 -16L42 -14L50 -14L22 -10L58 -10L66 -8L64 -6L28 -2L34 4L40 4L58 4L42 6L50 8" fill="none" style="marker:url(#hc0b5e1a2)"/><path d="M42 -18L28 -16L44 -16L18 -12L56 -12L58 -12L62 -12L16 -10L24 -2L28 0L34 2L36 4L60 4" fill="none" style="marker:url(#hc0daf09a)"/><path d="M8 -16L12 -12L68 -10L84 -6L22 -2L66 4L34 8L46 12" fill="none" style="marker:url(#hc0fff7b2)"/><path d="M16 -16L18 -16L26 -16L34 -16L14 -14L52 -14L14 -12L24 -10L20 -8L68 -8L68 -6L70 -6L64 0L48 10" fill="none" style="marker:url(#hc0c8e99e)"/><path d="M30 -16L52 -12L24 -4L64 -4" fill="none" style="marker:url(#hc0acdda4)"/><path d="M32 -16L22 -14L24 -14L26 -14L40 -14L20 -10L24 -8L62 -8L30 -2L36 2L38 4L54 4" fill="none" style="marker:url(#hc097d5a4)"/><path d="M38 -16L48 -12L54 -10L58 -8L60 -6L66 -4L62 -2L30 0" fill="none" style="marker:url(#hc08cd1a4)"/><path d="M42 -16L18 -14L54 -12L18 -8L22 -8L60 -8L68 -4L72 -4L66 -2" fill="none" style="marker:url(#hc0bfe5a0)"/><path d="M28 -14L30 -12L40 -12L46 -12L32 -10L52 -8L54 -8L32 -6L60 -4L34 -2L36 0L44 4" fill="none" style="marker:url(#hc058b2ac)"/><path d="M30 -14L44 -14L48 -14L26 -10L52 -10L56 -10L28 -8L28 -6L30 -4L32 -4L62 -4L60 -2" fill="none" style="marker:url(#hc074c7a5)"/><path d="M32 -14L28 -12L38 -12L28 -10L48 -10L30 -8L56 -6L34 -4L58 -4L58 -2L38 2L58 2L42 4L40 6L44 6" fill="none" style="marker:url(#hc069c3a5)"/><path d="M34 -14L20 -12L24 -12L22 -6L26 -6L66 -6L26 -2L32 0L60 2" fill="none" style="marker:url(#hc0a2d9a4)"/><path d="M36 -14L44 -12L50 -10L62 -6L34 0L60 0L46 6" fill="none" style="marker:url(#hc060bba8)"/><path d="M38 -14L46 -14L22 -12L26 -12L50 -12L30 -6L58 -6L28 -4L32 -2L64 -2L58 0L56 4L48 6L52 6L42 8" fill="none" style="marker:url(#hc07ecca5)"/><path d="M32 -12L36 -12L42 -12L30 -10L56 -8L36 -2L38 0L40 2L52 2L46 4L48 4" fill="none" style="marker:url(#hc050a9af)"/><path d="M34 -12L34 -10L38 -10L26 -8L32 -8L52 4" fill="none" style="marker:url(#hc047a0b3)"/><path d="M36 -10L44 -10L36 -8L38 -8L48 -8L50 -8L52 -6L42 -4L56 -4L42 -2L54 -2L46 0L54 0L50 4" fill="none" style="marker:url(#hc03b7cb7)"/><path d="M40 -10L42 -10L40 -8L42 -8L44 -8L36 -6L38 -6L40 -6L50 -6L46 2L50 2" fill="none" style="marker:url(#hc03585bb)"/><path d="M46 -10L34 -8L54 -6L56 0L56 2" fill="none" style="marker:url(#hc0378ebb)"/><path d="M46 -8L34 -6L38 -2L44 0L44 2L54 2" fill="none" style="marker:url(#hc03f97b7)"/><path d="M42 -6L46 -4L50 -4L52 -4L54 -4L44 -2L48 -2L52 -2" fill="none" style="marker:url(#hc05061aa)"/><path d="M44 -6L46 -2L52 0" fill="none" style="marker:url(#hc05758a6)"/><path d="M46 -6L36 -4L40 -2L50 -2L40 0L42 0L48 0L48 2" fill="none" style="marker:url(#hc04273b3)"/><path d="M48 -6L38 -4L40 -4L44 -4L56 -2L50 0L42 2" fill="none" style="marker:url(#hc0496aaf)"/><path d="M48 -4" fill="none" style="marker:url(#hc05e4fa2)"/><path d="M1 -39L-9 -37L9 -37L13 -35L-1 -31L1 -31L23 -27L37 -27L-5 -25L21 -25L-1 -21L47 -21L-7 -19L-9 -17L-5 -17L63 -15L-3 -13L75 -13L77 -13L-3 -11L79 -11L103 -7L-1 -5L93 -3L95 -3L7 -1L93 -1L7 1L11 3L77 5L73 7L75 7L69 9L69 11L59 15L37 17L35 19L49 19L57 19L37 21L41 21L33 23L45 23L51 25L35 27L43 27" fill="none" style="marker:url(#hc19e0142)"/><path d="M-5 -37L9 -29L13 -29L19 -29L-5 -27L-1 -27L3 -27L-5 -23L35 -23L43 -23L-9 -19L-3 -17L-5 -13L71 -13L67 -11L-5 -9L3 -7L99 -7L105 -5L91 -3L97 -3L99 -3L5 -1L83 -1L91 -1L11 1L9 3L15 5L77 7L65 9L67 9L71 9L23 13L27 13L29 15L33 15L29 17L35 17L55 21L37 25L47 31" fill="none" style="marker:url(#hc1d23a4e)"/><path d="M7 -35L5 -31L-7 -25L-5 -21L57 -17L-7 -15L-3 -15L1 -13L73 -13L89 -9L101 -9L97 -7L7 -3L5 1L9 1L81 3L19 9L25 11L67 11L63 13L61 15L27 17L33 19L39 19L35 21L43 21L51 21L43 23L49 23L43 25L49 25L53 25L45 27" fill="none" style="marker:url(#hc1b81e48)"/><path d="M11 -33L7 -29L1 -27L17 -27L-9 -23L3 -23L-7 -21L-5 -19L71 -11L77 -11L83 -11L99 -9L-1 -7L105 -7L1 -3L101 -3L83 1L73 3L71 5L75 5L13 7L67 7L21 9L23 11L31 15L53 17L57 17L47 21L35 23L55 23L41 25" fill="none" style="marker:url(#hc1dd4a4c)"/><path d="M3 -31L-3 -27L17 -23L45 -21L55 -17L69 -13L85 -11L1 -9L85 -9L93 -9L1 -7L5 -7L95 -7L3 -3L87 -3L9 -1L13 3L13 5L19 5L73 5L15 7L17 7L63 9L35 11L59 13L41 19L43 19L39 23L41 23" fill="none" style="marker:url(#hc1f06744)"/><path d="M1 -29L15 -27L1 -25L25 -25L27 -25L-1 -23L1 -21L-3 -19L3 -15L3 -11L75 -11L91 -9L93 -7L83 -3L89 -3L11 -1L13 -1L89 -1L17 3L25 7L65 7L29 11L31 11L35 13L47 17L53 19" fill="none" style="marker:url(#hc1f99153)"/><path d="M3 -29L13 -25L19 -23L31 -23L41 -21L9 -15L5 -11L75 -9L87 -7L89 -5L71 1L63 7L49 11L45 15L49 15L53 15L49 17" fill="none" style="marker:url(#hc1fed683)"/><path d="M5 -29L19 -27L3 -25L7 -25L23 -25L5 -23L23 -23L27 -23L33 -23L3 -21L7 -21L3 -17L7 -17L1 -15L5 -15L69 -11L9 -9L93 -5L95 -5L17 1L71 3L25 5L27 5L33 13L55 13" fill="none" style="marker:url(#hc1fdb768)"/><path d="M11 -29L9 -17L5 -9L79 -9L81 -7L91 -7L3 -5L17 -1L19 -1L81 -1L23 5L67 5L29 7L31 7L61 7L29 9L59 9L61 9L57 13L37 15" fill="none" style="marker:url(#hc1fdbf6f)"/><path d="M5 -27L9 -25L29 -23L-1 -19L49 -19L-7 -17L-5 -15L59 -15L65 -15L67 -13L83 -9L-3 -7L81 -5L97 -5L99 -5L5 -3L13 1L77 1L15 3L19 3L77 3L17 5L23 7L27 7L71 7L39 17L51 17L61 17L47 19L49 21" fill="none" style="marker:url(#hc1f67a49)"/><path d="M7 -27L5 -25L11 -25L5 -21L5 -19L45 -19L5 -17L5 -13L65 -13L1 -11L7 -7L7 -5L9 -5L91 -5L77 -1L79 -1L21 1L75 1L65 3L33 7L41 15L43 17" fill="none" style="marker:url(#hc1fdc776)"/><path d="M9 -27L15 -25L53 -17L61 -15L81 -9L103 -5L9 -3L15 -1L75 -1L25 3L21 7L33 9L27 11L31 13L37 13L53 13L61 13L35 15L55 15L45 17" fill="none" style="marker:url(#hc1fca55d)"/><path d="M11 -27L-1 -25L-3 -23L1 -23L39 -23L-1 -15L3 -9L75 3L21 5L69 5L69 7L23 9L27 9L31 9L57 15L41 17" fill="none" style="marker:url(#hc1fa9b58)"/><path d="M13 -27L11 -23L29 -21L31 -21L33 -21L39 -21L47 -19L1 -17L11 -15L7 -11L73 -11L11 -7L85 -3L73 -1L19 1L21 3L41 11L57 11L39 15L43 15L51 15" fill="none" style="marker:url(#hc1fee491)"/><path d="M-3 -25L29 -25L37 -23L-3 -21L51 -19L53 -19L-1 -13L-5 -11L81 -11L-1 -9L5 -5L101 -5L85 -1L87 -1L15 1L79 1L81 1L85 1L11 5L19 7L25 9L33 11L61 11L65 13L55 17L59 17L37 19L51 19L51 23" fill="none" style="marker:url(#hc1e75948)"/><path d="M17 -25L13 -23L15 -23L21 -23L25 -23L19 -21L15 -19L51 -17L53 -15L61 -13L63 -13L13 -9L79 -7L79 -5L83 -5L87 -5L19 -3L77 -3L67 1L73 1L67 3L65 5L53 9L55 11" fill="none" style="marker:url(#hc1fff2aa)"/><path d="M19 -25L9 -21L11 -21L11 -13L77 -9L13 -5L81 -3L69 1L69 3L59 5L41 13" fill="none" style="marker:url(#hc1fede89)"/><path d="M7 -23L9 -23L1 -19L-1 -17L57 -15L87 -9L9 -7L85 -7L89 -7L11 -5L85 -5L15 -3L23 3L37 11L45 19" fill="none" style="marker:url(#hc1fece7c)"/><path d="M13 -21L29 -19L15 -13L71 -9L77 -5L23 1L27 3L29 5L37 7L59 7L57 9L43 13" fill="none" style="marker:url(#hc1fff7b2)"/><path d="M15 -21L17 -19L43 -19L17 -17L9 -13L9 -11L15 -5L75 -5L75 -3L23 -1L31 5L51 11L47 13" fill="none" style="marker:url(#hc1fdfebb)"/><path d="M17 -21L49 -17L21 -3L45 11L47 15" fill="none" style="marker:url(#hc1fffcba)"/><path d="M21 -21L21 -19L25 -19L33 -19L35 -19L43 -17L47 -15L53 -13L13 -11L33 5" fill="none" style="marker:url(#hc1edf8a3)"/><path d="M23 -21L19 -19L19 -17L45 -17L47 -17L65 -9L15 -7L17 -7L27 -1L65 1L59 3L53 7L39 9L45 9L51 9L47 11" fill="none" style="marker:url(#hc1e9f69d)"/><path d="M25 -21L35 -21L37 -21L7 -19L13 -19L7 -13L17 -9L83 -7L13 -3L53 11L39 13" fill="none" style="marker:url(#hc1feeda1)"/><path d="M27 -21L43 -21L3 -19L11 -19L7 -15L3 -13L11 -11L7 -9L11 -9L77 -7L11 -3L17 -3L79 -3L35 9L59 11L49 13L51 13" fill="none" style="marker:url(#hc1fee999)"/><path d="M9 -19L23 -19L27 -19L11 -17L13 -13L13 -7L69 -7L17 -5L19 -5L21 -1L69 -1L63 5L35 7L55 7L49 9L55 9L39 11L43 11" fill="none" style="marker:url(#hc1f5fbaf)"/><path d="M31 -19L41 -19L15 -17L31 -17L39 -17L13 -15L15 -15L59 -13L15 -11L17 -11L19 -7L75 -7L73 -3L71 -1L27 1L29 3L31 3L61 3L57 7L37 9L47 9" fill="none" style="marker:url(#hc1f1f9a9)"/><path d="M37 -19L39 -19L13 -17L55 -15L65 -11L73 -9L25 1L61 5L45 13" fill="none" style="marker:url(#hc1f9fcb5)"/><path d="M21 -17L25 -17L29 -17L17 -13L55 -13L61 -11L63 -9L69 -9L21 -5L23 -3L27 -3L25 -1L33 3L63 3L37 5L39 5L55 5L57 5L41 9L43 9" fill="none" style="marker:url(#hc1d1ed9c)"/><path d="M23 -17L17 -15L49 -15L21 -13L57 -13L63 -11L71 -5L25 -3L63 1" fill="none" style="marker:url(#hc1e4f498)"/><path d="M27 -17L37 -17L39 -15L45 -15L47 -13L27 -11L61 -9L63 -7L71 -7L73 -7L29 -5L63 -5L65 -1L35 5L51 7" fill="none" style="marker:url(#hc1b5e1a2)"/><path d="M33 -17L43 -15L51 -15L59 -11L25 -7L67 -5L67 -3L29 -1L61 1L37 3" fill="none" style="marker:url(#hc1acdda4)"/><path d="M35 -17L41 -17L31 -15L67 -9L23 -5L71 -3L67 -1L29 1" fill="none" style="marker:url(#hc1daf09a)"/><path d="M19 -15L25 -11L55 -11L59 -9L23 -7L65 -3L31 1L39 7" fill="none" style="marker:url(#hc1bfe5a0)"/><path d="M21 -15L25 -15L27 -15L35 -15L19 -13L33 -13L51 -13L23 -11L53 -11L19 -9L59 -7L73 -5L29 -3L35 1" fill="none" style="marker:url(#hc1a2d9a4)"/><path d="M23 -15L33 -15L41 -15L25 -13L49 -13L23 -9L27 -5L35 3L49 7" fill="none" style="marker:url(#hc197d5a4)"/><path d="M29 -15L35 -13L57 -9L31 -7L65 -7L69 -3L31 -1L43 7" fill="none" style="marker:url(#hc18cd1a4)"/><path d="M37 -15L23 -13L43 -13L45 -13L29 -11L49 -11L51 -11L25 -9L31 -9L55 -9L61 -3L63 -3L61 -1L53 5" fill="none" style="marker:url(#hc17ecca5)"/><path d="M27 -13L31 -13L31 -11L57 -7L65 -5L59 1L39 3L51 5L45 7" fill="none" style="marker:url(#hc174c7a5)"/><path d="M29 -13L33 -11L33 -9L29 -7L53 -7L35 -5L31 -3L37 1L49 5" fill="none" style="marker:url(#hc158b2ac)"/><path d="M37 -13L41 -13L47 -11L27 -9L59 -5L33 -1L35 -1L55 3L57 3L41 5L47 5" fill="none" style="marker:url(#hc169c3a5)"/><path d="M39 -13L35 -11L43 -11L45 -11L29 -9L49 -9L53 -9L31 -5L37 -3L57 1L43 5" fill="none" style="marker:url(#hc150a9af)"/><path d="M19 -11L21 -11L57 -11L15 -9L21 -9L21 -7L67 -7L25 -5L69 -5L63 -1L33 1L41 7L47 7" fill="none" style="marker:url(#hc1c8e99e)"/><path d="M37 -11L41 -11L45 -9L33 -7L39 -1L53 3" fill="none" style="marker:url(#hc1378ebb)"/><path d="M39 -11L27 -7L61 -7L45 5" fill="none" style="marker:url(#hc160bba8)"/><path d="M35 -9L55 -7L33 -5L51 -5L57 -5L61 -5L57 -3L37 -1L59 -1L39 1L41 1" fill="none" style="marker:url(#hc147a0b3)"/><path d="M37 -9L39 -9L43 -9L51 -9L35 -7L35 -3L39 -3L57 -1L41 3L47 3" fill="none" style="marker:url(#hc13f97b7)"/><path d="M41 -9L47 -9L37 -7L43 -7L51 -7L53 -5L43 -1L47 -1L55 -1L49 1" fill="none" style="marker:url(#hc13b7cb7)"/><path d="M39 -7L41 -3L41 -1L45 1L47 1L53 1L51 3" fill="none" style="marker:url(#hc14273b3)"/><path d="M41 -7L37 -5L41 -5L49 -5L45 -3L51 -3L55 -3L49 -1L49 3" fill="none" style="marker:url(#hc15061aa)"/><path d="M45 -7L49 -7L55 -5L33 -3L59 -3L43 1L55 1L45 3" fill="none" style="marker:url(#hc13585bb)"/><path d="M47 -7L39 -5L43 -5L45 -5L47 -5L53 -3L45 -1L53 -1L51 1L43 3" fill="none" style="marker:url(#hc1496aaf)"/><path d="M43 -3L49 -3" fill="none" style="marker:url(#hc15758a6)"/><path d="M47 -3L51 -1" fill="none" style="marker:url(#hc15e4fa2)"/></g></g> <g id="matplotlib.axis_9"> <g id="xtick_61"> <g id="line2d_131"> <g> <use xlink:href="#m35bc0140a6" x="679.9" y="1471.5" style="stroke: #000000; stroke-width: 4.4"/> </g> </g> <g id="xtl_c_1" transform="translate(1.4 0)">  <g transform="translate(642.3 1520.52)"> <text> <tspan x="0" y="-0.12" style="font-size: 32px; font-family: 'DejaVu Sans', sans-serif">1</tspan> <tspan x="20.36" y="-0.12" style="font-size: 32px; font-family: 'DejaVu Sans', sans-serif">0</tspan> <tspan x="41.02" y="-12.38" style="font-size: 22.4px; font-family: 'DejaVu Sans', sans-serif">−</tspan> <tspan x="59.79" y="-12.38" style="font-size: 22.4px; font-family: 'DejaVu Sans', sans-serif">2</tspan> </text> </g> </g> </g> <g id="xtick_62"> <g id="line2d_132"> <g> <use xlink:href="#m35bc0140a6" x="868.93" y="1471.5" style="stroke: #000000; stroke-width: 4.4"/> </g> </g> <g id="xtl_c_2" transform="translate(1.4 0)">  <g transform="translate(831.33 1520.52)"> <text> <tspan x="0" y="-0.42" style="font-size: 32px; font-family: 'DejaVu Sans', sans-serif">1</tspan> <tspan x="20.36" y="-0.42" style="font-size: 32px; font-family: 'DejaVu Sans', sans-serif">0</tspan> <tspan x="41.02" y="-12.67" style="font-size: 22.4px; font-family: 'DejaVu Sans', sans-serif">−</tspan> <tspan x="59.79" y="-12.67" style="font-size: 22.4px; font-family: 'DejaVu Sans', sans-serif">1</tspan> </text> </g> </g> </g> <g id="xtick_63"> <g id="line2d_133"> <g> <use xlink:href="#m35bc0140a6" x="1057.96" y="1471.5" style="stroke: #000000; stroke-width: 4.4"/> </g> </g> <g id="xtl_c_3" transform="translate(1.4 0)">  <g transform="translate(1029.8 1520.52)"> <text> <tspan x="0" y="-0.12" style="font-size: 32px; font-family: 'DejaVu Sans', sans-serif">1</tspan> <tspan x="20.36" y="-0.12" style="font-size: 32px; font-family: 'DejaVu Sans', sans-serif">0</tspan> <tspan x="41.02" y="-12.38" style="font-size: 22.4px; font-family: 'DejaVu Sans', sans-serif">0</tspan> </text> </g> </g> </g> <g id="xtick_64"> <g id="line2d_134"> <g> <use xlink:href="#m35bc0140a6" x="1246.99" y="1471.5" style="stroke: #000000; stroke-width: 4.4"/> </g> </g> <g id="xtl_c_4" transform="translate(1.4 0)">  <g transform="translate(1218.83 1520.52)"> <text> <tspan x="0" y="-0.42" style="font-size: 32px; font-family: 'DejaVu Sans', sans-serif">1</tspan> <tspan x="20.36" y="-0.42" style="font-size: 32px; font-family: 'DejaVu Sans', sans-serif">0</tspan> <tspan x="41.02" y="-12.67" style="font-size: 22.4px; font-family: 'DejaVu Sans', sans-serif">1</tspan> </text> </g> </g> </g> <g id="xtick_65"> <g id="line2d_135"> <g> <use xlink:href="#m0369923372" x="736.8" y="1471.5" style="stroke: #000000; stroke-width: 4"/> </g> </g> </g> <g id="xtick_66"> <g id="line2d_136"> <g> <use xlink:href="#m0369923372" x="770.09" y="1471.5" style="stroke: #000000; stroke-width: 4"/> </g> </g> </g> <g id="xtick_67"> <g id="line2d_137"> <g> <use xlink:href="#m0369923372" x="793.71" y="1471.5" style="stroke: #000000; stroke-width: 4"/> </g> </g> </g> <g id="xtick_68"> <g id="line2d_138"> <g> <use xlink:href="#m0369923372" x="812.03" y="1471.5" style="stroke: #000000; stroke-width: 4"/> </g> </g> </g> <g id="xtick_69"> <g id="line2d_139"> <g> <use xlink:href="#m0369923372" x="826.99" y="1471.5" style="stroke: #000000; stroke-width: 4"/> </g> </g> </g> <g id="xtick_70"> <g id="line2d_140"> <g> <use xlink:href="#m0369923372" x="839.65" y="1471.5" style="stroke: #000000; stroke-width: 4"/> </g> </g> </g> <g id="xtick_71"> <g id="line2d_141"> <g> <use xlink:href="#m0369923372" x="850.61" y="1471.5" style="stroke: #000000; stroke-width: 4"/> </g> </g> </g> <g id="xtick_72"> <g id="line2d_142"> <g> <use xlink:href="#m0369923372" x="860.28" y="1471.5" style="stroke: #000000; stroke-width: 4"/> </g> </g> </g> <g id="xtick_73"> <g id="line2d_143"> <g> <use xlink:href="#m0369923372" x="925.83" y="1471.5" style="stroke: #000000; stroke-width: 4"/> </g> </g> </g> <g id="xtick_74"> <g id="line2d_144"> <g> <use xlink:href="#m0369923372" x="959.12" y="1471.5" style="stroke: #000000; stroke-width: 4"/> </g> </g> </g> <g id="xtick_75"> <g id="line2d_145"> <g> <use xlink:href="#m0369923372" x="982.74" y="1471.5" style="stroke: #000000; stroke-width: 4"/> </g> </g> </g> <g id="xtick_76"> <g id="line2d_146"> <g> <use xlink:href="#m0369923372" x="1001.05" y="1471.5" style="stroke: #000000; stroke-width: 4"/> </g> </g> </g> <g id="xtick_77"> <g id="line2d_147"> <g> <use xlink:href="#m0369923372" x="1016.02" y="1471.5" style="stroke: #000000; stroke-width: 4"/> </g> </g> </g> <g id="xtick_78"> <g id="line2d_148"> <g> <use xlink:href="#m0369923372" x="1028.68" y="1471.5" style="stroke: #000000; stroke-width: 4"/> </g> </g> </g> <g id="xtick_79"> <g id="line2d_149"> <g> <use xlink:href="#m0369923372" x="1039.64" y="1471.5" style="stroke: #000000; stroke-width: 4"/> </g> </g> </g> <g id="xtick_80"> <g id="line2d_150"> <g> <use xlink:href="#m0369923372" x="1049.31" y="1471.5" style="stroke: #000000; stroke-width: 4"/> </g> </g> </g> <g id="xtick_81"> <g id="line2d_151"> <g> <use xlink:href="#m0369923372" x="1114.86" y="1471.5" style="stroke: #000000; stroke-width: 4"/> </g> </g> </g> <g id="xtick_82"> <g id="line2d_152"> <g> <use xlink:href="#m0369923372" x="1148.15" y="1471.5" style="stroke: #000000; stroke-width: 4"/> </g> </g> </g> <g id="xtick_83"> <g id="line2d_153"> <g> <use xlink:href="#m0369923372" x="1171.76" y="1471.5" style="stroke: #000000; stroke-width: 4"/> </g> </g> </g> <g id="xtick_84"> <g id="line2d_154"> <g> <use xlink:href="#m0369923372" x="1190.08" y="1471.5" style="stroke: #000000; stroke-width: 4"/> </g> </g> </g> <g id="xtick_85"> <g id="line2d_155"> <g> <use xlink:href="#m0369923372" x="1205.05" y="1471.5" style="stroke: #000000; stroke-width: 4"/> </g> </g> </g> <g id="xtick_86"> <g id="line2d_156"> <g> <use xlink:href="#m0369923372" x="1217.7" y="1471.5" style="stroke: #000000; stroke-width: 4"/> </g> </g> </g> <g id="xtick_87"> <g id="line2d_157"> <g> <use xlink:href="#m0369923372" x="1228.67" y="1471.5" style="stroke: #000000; stroke-width: 4"/> </g> </g> </g> <g id="xtick_88"> <g id="line2d_158"> <g> <use xlink:href="#m0369923372" x="1238.34" y="1471.5" style="stroke: #000000; stroke-width: 4"/> </g> </g> </g> <g id="xtick_89"> <g id="line2d_159"> <g> <use xlink:href="#m0369923372" x="1303.89" y="1471.5" style="stroke: #000000; stroke-width: 4"/> </g> </g> </g> <g id="xtick_90"> <g id="line2d_160"> <g> <use xlink:href="#m0369923372" x="1337.18" y="1471.5" style="stroke: #000000; stroke-width: 4"/> </g> </g> </g> <g id="xlab_c" transform="translate(5 6.5)">  <g transform="translate(978.51 1559.66)"> <text> <tspan x="0" y="-0.66" style="font-style: oblique; font-size: 37px; font-family: 'DejaVu Sans', sans-serif">β</tspan> <tspan x="23.61" y="5.41" style="font-style: oblique; font-size: 25.9px; font-family: 'DejaVu Sans', sans-serif">p</tspan> <tspan x="45.1" y="5.41" style="font-size: 25.9px; font-family: 'DejaVu Sans', sans-serif">∥</tspan> </text> </g> </g> </g> <g id="matplotlib.axis_10"> <g id="ytick_53"> <g id="line2d_161"> <g> <use xlink:href="#mc86d5cfce7" x="679.9" y="1471.5" style="stroke: #000000; stroke-width: 4.4"/> </g> </g> <g id="text_31">  <g transform="translate(582.1 1483.66)"> <text> <tspan x="0" y="-0.42" style="font-size: 32px; font-family: 'DejaVu Sans', sans-serif">1</tspan> <tspan x="20.36" y="-0.42" style="font-size: 32px; font-family: 'DejaVu Sans', sans-serif">0</tspan> <tspan x="41.02" y="-12.67" style="font-size: 22.4px; font-family: 'DejaVu Sans', sans-serif">−</tspan> <tspan x="59.79" y="-12.67" style="font-size: 22.4px; font-family: 'DejaVu Sans', sans-serif">1</tspan> </text> </g> </g> </g> <g id="ytick_54"> <g id="line2d_162"> <g> <use xlink:href="#mc86d5cfce7" x="679.9" y="1161.3" style="stroke: #000000; stroke-width: 4.4"/> </g> </g> <g id="text_32">  <g transform="translate(600.98 1173.46)"> <text> <tspan x="0" y="-0.12" style="font-size: 32px; font-family: 'DejaVu Sans', sans-serif">1</tspan> <tspan x="20.36" y="-0.12" style="font-size: 32px; font-family: 'DejaVu Sans', sans-serif">0</tspan> <tspan x="41.02" y="-12.38" style="font-size: 22.4px; font-family: 'DejaVu Sans', sans-serif">0</tspan> </text> </g> </g> </g> <g id="ytick_55"> <g id="line2d_163"> <g> <use xlink:href="#mc86d5cfce7" x="679.9" y="851.1" style="stroke: #000000; stroke-width: 4.4"/> </g> </g> <g id="text_33">  <g transform="translate(600.98 863.26)"> <text> <tspan x="0" y="-0.42" style="font-size: 32px; font-family: 'DejaVu Sans', sans-serif">1</tspan> <tspan x="20.36" y="-0.42" style="font-size: 32px; font-family: 'DejaVu Sans', sans-serif">0</tspan> <tspan x="41.02" y="-12.67" style="font-size: 22.4px; font-family: 'DejaVu Sans', sans-serif">1</tspan> </text> </g> </g> </g> <g id="ytick_56"> <g id="line2d_164"> <g> <use xlink:href="#m99f65bdf2d" x="679.9" y="1378.12" style="stroke: #000000; stroke-width: 4"/> </g> </g> </g> <g id="ytick_57"> <g id="line2d_165"> <g> <use xlink:href="#m99f65bdf2d" x="679.9" y="1323.5" style="stroke: #000000; stroke-width: 4"/> </g> </g> </g> <g id="ytick_58"> <g id="line2d_166"> <g> <use xlink:href="#m99f65bdf2d" x="679.9" y="1284.74" style="stroke: #000000; stroke-width: 4"/> </g> </g> </g> <g id="ytick_59"> <g id="line2d_167"> <g> <use xlink:href="#m99f65bdf2d" x="679.9" y="1254.68" style="stroke: #000000; stroke-width: 4"/> </g> </g> </g> <g id="ytick_60"> <g id="line2d_168"> <g> <use xlink:href="#m99f65bdf2d" x="679.9" y="1230.12" style="stroke: #000000; stroke-width: 4"/> </g> </g> </g> <g id="ytick_61"> <g id="line2d_169"> <g> <use xlink:href="#m99f65bdf2d" x="679.9" y="1209.35" style="stroke: #000000; stroke-width: 4"/> </g> </g> </g> <g id="ytick_62"> <g id="line2d_170"> <g> <use xlink:href="#m99f65bdf2d" x="679.9" y="1191.36" style="stroke: #000000; stroke-width: 4"/> </g> </g> </g> <g id="ytick_63"> <g id="line2d_171"> <g> <use xlink:href="#m99f65bdf2d" x="679.9" y="1175.49" style="stroke: #000000; stroke-width: 4"/> </g> </g> </g> <g id="ytick_64"> <g id="line2d_172"> <g> <use xlink:href="#m99f65bdf2d" x="679.9" y="1067.92" style="stroke: #000000; stroke-width: 4"/> </g> </g> </g> <g id="ytick_65"> <g id="line2d_173"> <g> <use xlink:href="#m99f65bdf2d" x="679.9" y="1013.3" style="stroke: #000000; stroke-width: 4"/> </g> </g> </g> <g id="ytick_66"> <g id="line2d_174"> <g> <use xlink:href="#m99f65bdf2d" x="679.9" y="974.54" style="stroke: #000000; stroke-width: 4"/> </g> </g> </g> <g id="ytick_67"> <g id="line2d_175"> <g> <use xlink:href="#m99f65bdf2d" x="679.9" y="944.48" style="stroke: #000000; stroke-width: 4"/> </g> </g> </g> <g id="ytick_68"> <g id="line2d_176"> <g> <use xlink:href="#m99f65bdf2d" x="679.9" y="919.92" style="stroke: #000000; stroke-width: 4"/> </g> </g> </g> <g id="ytick_69"> <g id="line2d_177"> <g> <use xlink:href="#m99f65bdf2d" x="679.9" y="899.15" style="stroke: #000000; stroke-width: 4"/> </g> </g> </g> <g id="ytick_70"> <g id="line2d_178"> <g> <use xlink:href="#m99f65bdf2d" x="679.9" y="881.16" style="stroke: #000000; stroke-width: 4"/> </g> </g> </g> <g id="ytick_71"> <g id="line2d_179"> <g> <use xlink:href="#m99f65bdf2d" x="679.9" y="865.29" style="stroke: #000000; stroke-width: 4"/> </g> </g> </g> <g id="ylab_c" transform="translate(-8.1 -2.45)">  <g transform="translate(556.14 1186.86) rotate(-90)"> <text> <tspan x="0" y="-23.62" style="font-style: oblique; font-size: 25.2px; font-family: 'DejaVu Sans', sans-serif">T</tspan> <tspan x="2" y="13.8" style="font-style: oblique; font-size: 25.2px; font-family: 'DejaVu Sans', sans-serif">T</tspan> <tspan x="15.39" y="-19.49" style="font-style: oblique; font-size: 17.64px; font-family: 'DejaVu Sans', sans-serif">p</tspan> <tspan x="17.39" y="17.94" style="font-style: oblique; font-size: 17.64px; font-family: 'DejaVu Sans', sans-serif">p</tspan> <tspan x="30.03" y="-19.49" style="font-size: 17.64px; font-family: 'STIXGeneral'">⟂</tspan> <tspan x="32.03" y="17.94" style="font-size: 17.64px; font-family: 'DejaVu Sans', sans-serif">∥</tspan> </text> <rect x="0" y="-7.82" width="46.38" height="2.25"/> </g> </g> </g> <g id="line2d_180"> <path d="M 770.09 966.74  L 790.14 975.32  L 810.19 983.66  L 830.24 991.78  L 851.72 1000.22  L 873.2 1008.41  L 894.68 1016.35  L 916.16 1024.04  L 936.21 1030.99  L 956.26 1037.72  L 976.31 1044.22  L 996.36 1050.51  L 1016.41 1056.56  L 1036.46 1062.4  L 1056.51 1068  L 1076.56 1073.38  L 1096.61 1078.54  L 1116.66 1083.47  L 1136.71 1088.18  L 1156.76 1092.67  L 1176.81 1096.95  L 1198.29 1101.3  L 1219.77 1105.41  L 1241.25 1109.29  L 1262.73 1112.95  L 1284.22 1116.39  L 1307.13 1119.83  L 1330.04 1123.04  L 1341.5 1124.57  L 1341.5 1124.57  " clip-path="url(#p97f0729a24)" style="fill: none; stroke: #000000; stroke-width: 4.4; stroke-linecap: square"/> </g> <g id="line2d_181"> <path d="M 770.09 968.82  L 790.14 977.36  L 810.19 985.65  L 830.24 993.72  L 851.72 1002.11  L 873.2 1010.25  L 894.68 1018.14  L 916.16 1025.77  L 936.21 1032.67  L 956.26 1039.35  L 976.31 1045.8  L 996.36 1052.03  L 1016.41 1058.03  L 1036.46 1063.8  L 1056.51 1069.36  L 1076.56 1074.68  L 1096.61 1079.78  L 1116.66 1084.66  L 1136.71 1089.31  L 1156.76 1093.75  L 1176.81 1097.98  L 1198.29 1102.27  L 1219.77 1106.33  L 1241.25 1110.16  L 1262.73 1113.77  L 1284.22 1117.16  L 1307.13 1120.55  L 1330.04 1123.71  L 1341.5 1125.21  L 1341.5 1125.21  " clip-path="url(#p97f0729a24)" style="fill: none; stroke-dasharray: 16.28,7.04; stroke-dashoffset: 0; stroke: #000000; stroke-width: 4.4"/> </g> <g id="line2d_182"> <path d="M 1064.42 1580  L 1065.32 1552.88  L 1066.45 1525.72  L 1067.57 1503.55  L 1068.86 1482.44  L 1070.31 1462.52  L 1071.75 1445.58  L 1073.36 1429.37  L 1074.97 1415.27  L 1076.74 1401.66  L 1078.67 1388.61  L 1080.6 1377.07  L 1082.68 1365.92  L 1084.77 1355.95  L 1087.03 1346.29  L 1089.28 1337.56  L 1091.69 1329.08  L 1094.26 1320.87  L 1096.83 1313.41  L 1099.56 1306.17  L 1102.3 1299.54  L 1105.19 1293.1  L 1108.24 1286.86  L 1111.3 1281.11  L 1114.51 1275.54  L 1117.89 1270.14  L 1121.27 1265.16  L 1124.8 1260.32  L 1128.5 1255.64  L 1132.36 1251.12  L 1136.38 1246.76  L 1140.56 1242.56  L 1144.9 1238.51  L 1149.4 1234.63  L 1154.06 1230.9  L 1158.88 1227.31  L 1164.03 1223.77  L 1169.33 1220.39  L 1174.96 1217.08  L 1180.75 1213.92  L 1186.85 1210.84  L 1193.28 1207.85  L 1200.04 1204.95  L 1207.11 1202.16  L 1214.66 1199.42  L 1222.54 1196.8  L 1230.9 1194.25  L 1239.74 1191.79  L 1249.07 1189.43  L 1259.03 1187.13  L 1269.64 1184.92  L 1280.9 1182.81  L 1292.79 1180.81  L 1305.49 1178.89  L 1319.16 1177.06  L 1333.78 1175.32  L 1341.5 1174.49  L 1341.5 1174.49  " clip-path="url(#p97f0729a24)" style="fill: none; stroke: #000000; stroke-width: 4.4; stroke-linecap: square"/> </g> <g id="line2d_183"> <path d="M 1073.09 1580  L 1074.16 1552.25  L 1075.29 1528.55  L 1076.58 1506.05  L 1078.02 1484.86  L 1079.47 1466.84  L 1081.08 1449.58  L 1082.85 1433.15  L 1084.61 1418.78  L 1086.54 1404.96  L 1088.47 1392.68  L 1090.56 1380.8  L 1092.81 1369.34  L 1095.06 1359.03  L 1097.47 1349.04  L 1099.89 1339.98  L 1102.46 1331.18  L 1105.03 1323.13  L 1107.76 1315.3  L 1110.66 1307.7  L 1113.55 1300.72  L 1116.6 1293.93  L 1119.66 1287.67  L 1122.87 1281.57  L 1126.25 1275.65  L 1129.63 1270.17  L 1133.16 1264.85  L 1136.86 1259.68  L 1140.72 1254.69  L 1144.58 1250.05  L 1148.59 1245.56  L 1152.77 1241.22  L 1157.11 1237.03  L 1161.62 1233  L 1166.28 1229.12  L 1171.1 1225.39  L 1176.08 1221.81  L 1181.39 1218.27  L 1186.85 1214.9  L 1192.64 1211.6  L 1198.59 1208.46  L 1204.86 1205.41  L 1211.45 1202.45  L 1218.36 1199.6  L 1225.6 1196.86  L 1233.15 1194.24  L 1241.19 1191.69  L 1249.55 1189.28  L 1258.39 1186.96  L 1267.71 1184.74  L 1277.68 1182.6  L 1288.29 1180.56  L 1299.54 1178.62  L 1311.6 1176.77  L 1324.46 1175.03  L 1338.28 1173.39  L 1341.5 1173.04  L 1341.5 1173.04  " clip-path="url(#p97f0729a24)" style="fill: none; stroke-dasharray: 16.28,7.04; stroke-dashoffset: 0; stroke: #000000; stroke-width: 4.4"/> </g> <g id="line2d_184"> <path d="M 770.09 862.65  L 797.3 884.39  L 848.86 925.64  L 870.34 942.52  L 888.95 956.87  L 906.14 969.83  L 921.89 981.43  L 936.21 991.71  L 950.53 1001.72  L 963.42 1010.47  L 976.31 1018.98  L 989.2 1027.22  L 1002.09 1035.19  L 1014.98 1042.87  L 1026.44 1049.46  L 1037.89 1055.81  L 1049.35 1061.92  L 1060.81 1067.8  L 1072.26 1073.43  L 1083.72 1078.81  L 1095.18 1083.96  L 1106.63 1088.87  L 1118.09 1093.53  L 1129.55 1097.97  L 1141.01 1102.17  L 1152.46 1106.15  L 1163.92 1109.92  L 1175.38 1113.46  L 1188.26 1117.21  L 1201.15 1120.71  L 1214.04 1123.96  L 1226.93 1126.99  L 1239.82 1129.8  L 1254.14 1132.68  L 1268.46 1135.32  L 1282.78 1137.74  L 1298.54 1140.16  L 1314.29 1142.35  L 1330.04 1144.33  L 1341.5 1145.64  L 1341.5 1145.64  " clip-path="url(#p97f0729a24)" style="fill: none; stroke: #0000ff; stroke-width: 4.4; stroke-linecap: square"/> </g> <g id="line2d_185"> <path d="M 770.09 861.22  L 795.87 881.84  L 851.72 926.58  L 873.2 943.46  L 891.82 957.8  L 909 970.74  L 924.76 982.32  L 939.08 992.59  L 953.4 1002.57  L 966.29 1011.31  L 979.18 1019.79  L 992.07 1028.01  L 1004.95 1035.95  L 1017.84 1043.61  L 1029.3 1050.17  L 1040.76 1056.5  L 1052.21 1062.58  L 1063.67 1068.43  L 1075.13 1074.03  L 1086.59 1079.39  L 1098.04 1084.51  L 1109.5 1089.39  L 1120.96 1094.04  L 1132.41 1098.44  L 1143.87 1102.62  L 1155.33 1106.58  L 1166.78 1110.32  L 1178.24 1113.84  L 1191.13 1117.57  L 1204.02 1121.04  L 1216.91 1124.27  L 1229.8 1127.27  L 1242.68 1130.06  L 1257.01 1132.92  L 1271.33 1135.54  L 1285.65 1137.94  L 1301.4 1140.35  L 1317.15 1142.52  L 1334.34 1144.65  L 1341.5 1145.47  L 1341.5 1145.47  " clip-path="url(#p97f0729a24)" style="fill: none; stroke-dasharray: 16.28,7.04; stroke-dashoffset: 0; stroke: #0000ff; stroke-width: 4.4"/> </g> <g id="line2d_186"> <path d="M 1090.81 1580  L 1091.69 1547.18  L 1092.65 1518.96  L 1093.78 1492.63  L 1094.9 1471.07  L 1096.19 1450.49  L 1097.64 1431.07  L 1099.08 1414.53  L 1100.69 1398.71  L 1102.3 1384.96  L 1104.07 1371.7  L 1105.99 1359  L 1107.92 1347.78  L 1110.01 1336.97  L 1112.1 1327.32  L 1114.35 1317.99  L 1116.6 1309.59  L 1119.02 1301.45  L 1121.43 1294.06  L 1124 1286.9  L 1126.57 1280.37  L 1129.3 1274.03  L 1132.2 1267.89  L 1135.09 1262.27  L 1138.15 1256.83  L 1141.2 1251.83  L 1144.41 1246.99  L 1147.79 1242.31  L 1151.33 1237.8  L 1154.86 1233.64  L 1158.56 1229.64  L 1162.42 1225.78  L 1166.44 1222.08  L 1170.62 1218.52  L 1174.96 1215.13  L 1179.46 1211.88  L 1184.28 1208.68  L 1189.27 1205.64  L 1194.57 1202.68  L 1200.04 1199.88  L 1205.82 1197.16  L 1211.93 1194.55  L 1218.36 1192.04  L 1225.11 1189.64  L 1232.35 1187.32  L 1239.9 1185.12  L 1247.94 1183.01  L 1256.62 1180.97  L 1265.78 1179.05  L 1275.59 1177.22  L 1286.2 1175.47  L 1297.61 1173.82  L 1309.83 1172.28  L 1323.17 1170.82  L 1337.64 1169.47  L 1341.5 1169.15  L 1341.5 1169.15  " clip-path="url(#p97f0729a24)" style="fill: none; stroke: #0000ff; stroke-width: 4.4; stroke-linecap: square"/> </g> <g id="line2d_187"> <path d="M 1091.36 1580  L 1092.01 1554.72  L 1092.97 1524.75  L 1094.1 1497.1  L 1095.22 1474.65  L 1096.51 1453.36  L 1097.96 1433.36  L 1099.4 1416.41  L 1101.01 1400.24  L 1102.62 1386.22  L 1104.39 1372.73  L 1106.16 1360.85  L 1108.08 1349.36  L 1110.17 1338.32  L 1112.26 1328.48  L 1114.51 1318.99  L 1116.76 1310.45  L 1119.18 1302.19  L 1121.59 1294.7  L 1124.16 1287.45  L 1126.73 1280.85  L 1129.46 1274.44  L 1132.2 1268.57  L 1135.09 1262.87  L 1138.15 1257.36  L 1141.2 1252.31  L 1144.41 1247.41  L 1147.79 1242.68  L 1151.17 1238.32  L 1154.7 1234.11  L 1158.4 1230.06  L 1162.26 1226.16  L 1166.28 1222.41  L 1170.46 1218.83  L 1174.8 1215.4  L 1179.3 1212.12  L 1183.96 1209  L 1188.94 1205.93  L 1194.09 1203.02  L 1199.55 1200.19  L 1205.34 1197.44  L 1211.45 1194.8  L 1217.88 1192.26  L 1224.63 1189.84  L 1231.7 1187.54  L 1239.26 1185.32  L 1247.3 1183.2  L 1255.82 1181.17  L 1264.98 1179.22  L 1274.79 1177.37  L 1285.24 1175.63  L 1296.49 1173.98  L 1308.71 1172.42  L 1321.89 1170.96  L 1336.2 1169.6  L 1341.5 1169.15  L 1341.5 1169.15  " clip-path="url(#p97f0729a24)" style="fill: none; stroke-dasharray: 16.28,7.04; stroke-dashoffset: 0; stroke: #0000ff; stroke-width: 4.4"/> </g> <g id="patch_18"> <path d="M 679.9 1471.5  L 679.9 851.1  " style="fill: none; stroke: #000000; stroke-width: 1.6; stroke-linejoin: miter; stroke-linecap: square"/> </g> <g id="patch_19"> <path d="M 1341.5 1471.5  L 1341.5 851.1  " style="fill: none; stroke: #000000; stroke-width: 1.6; stroke-linejoin: miter; stroke-linecap: square"/> </g> <g id="patch_20"> <path d="M 679.9 1471.5  L 1341.5 1471.5  " style="fill: none; stroke: #000000; stroke-width: 1.6; stroke-linejoin: miter; stroke-linecap: square"/> </g> <g id="patch_21"> <path d="M 679.9 851.1  L 1341.5 851.1  " style="fill: none; stroke: #000000; stroke-width: 1.6; stroke-linejoin: miter; stroke-linecap: square"/> </g> <g id="line2d_188"> <path d="M 1114.86 1471.5  L 1114.86 848.43  " style="fill: none; stroke-dasharray: 15.8,12.2; stroke-dashoffset: 0; stroke: #00b050; stroke-width: 3.75"/> </g> <g id="text_34"> <text style="font-size: 31.6px; font-family: 'DejaVu Sans', sans-serif; text-anchor: start" x="1058.7" y="944.9" transform="rotate(-0 1058.7 944.9)">PCI</text> </g> <g id="text_35"> <text style="font-size: 31.6px; font-family: 'DejaVu Sans', sans-serif; text-anchor: start; fill: #0000ff" x="1190.9" y="944.9" transform="rotate(-0 1190.9 944.9)">MM</text> </g> <g id="text_36"> <text style="font-size: 31.6px; font-family: 'DejaVu Sans', sans-serif; text-anchor: start" x="1172.9" y="1379" transform="rotate(-0 1172.9 1379)">PFH</text> </g> <g id="text_37"> <text style="font-size: 31.6px; font-family: 'DejaVu Sans', sans-serif; text-anchor: start; fill: #0000ff" x="1247.4" y="1379" transform="rotate(-0 1247.4 1379)">OFH</text> </g> <g id="text_38"> <text style="font-weight: 700; font-size: 54.3px; font-family: 'Liberation Sans', sans-serif; text-anchor: start" x="701.9" y="918" transform="rotate(-0 701.9 918)">(c)</text> </g> <g id="title_c" transform="translate(0.5 0)">  <g transform="translate(637.24 830.9)"> <text> <tspan x="0" y="-0.63" style="font-style: oblique; font-size: 27.4px; font-family: 'DejaVu Sans', sans-serif">γ</tspan> <tspan x="162" y="-0.63" style="font-style: oblique; font-size: 27.4px; font-family: 'DejaVu Sans', sans-serif">S</tspan> <tspan x="179.37" y="-0.63" style="font-style: oblique; font-size: 27.4px; font-family: 'DejaVu Sans', sans-serif">o</tspan> <tspan x="196.12" y="-0.63" style="font-style: oblique; font-size: 27.4px; font-family: 'DejaVu Sans', sans-serif">l</tspan> <tspan x="203.73" y="-0.63" style="font-style: oblique; font-size: 27.4px; font-family: 'DejaVu Sans', sans-serif">i</tspan> <tspan x="211.33" y="-0.63" style="font-style: oblique; font-size: 27.4px; font-family: 'DejaVu Sans', sans-serif">d</tspan> <tspan x="248.6" y="-0.63" style="font-style: oblique; font-size: 27.4px; font-family: 'DejaVu Sans', sans-serif">ζ</tspan> <tspan x="354.66" y="-0.63" style="font-style: oblique; font-size: 27.4px; font-family: 'DejaVu Sans', sans-serif">D</tspan> <tspan x="375.74" y="-0.63" style="font-style: oblique; font-size: 27.4px; font-family: 'DejaVu Sans', sans-serif">a</tspan> <tspan x="392.52" y="-0.63" style="font-style: oblique; font-size: 27.4px; font-family: 'DejaVu Sans', sans-serif">s</tspan> <tspan x="406.78" y="-0.63" style="font-style: oblique; font-size: 27.4px; font-family: 'DejaVu Sans', sans-serif">h</tspan> <tspan x="424.13" y="-0.63" style="font-style: oblique; font-size: 27.4px; font-family: 'DejaVu Sans', sans-serif">e</tspan> <tspan x="440.97" y="-0.63" style="font-style: oblique; font-size: 27.4px; font-family: 'DejaVu Sans', sans-serif">d</tspan> <tspan x="478.24" y="-0.63" style="font-style: oblique; font-size: 27.4px; font-family: 'DejaVu Sans', sans-serif">ζ</tspan> <tspan x="558.19" y="-0.63" style="font-style: oblique; font-size: 27.4px; font-family: 'DejaVu Sans', sans-serif">V</tspan> <tspan x="576.91" y="-0.63" style="font-style: oblique; font-size: 27.4px; font-family: 'DejaVu Sans', sans-serif">p</tspan> <tspan x="680.14" y="-0.63" style="font-style: oblique; font-size: 27.4px; font-family: 'DejaVu Sans', sans-serif">k</tspan> <tspan x="696" y="-0.63" style="font-style: oblique; font-size: 27.4px; font-family: 'DejaVu Sans', sans-serif">m</tspan> <tspan x="731.89" y="-0.63" style="font-style: oblique; font-size: 27.4px; font-family: 'DejaVu Sans', sans-serif">s</tspan> <tspan x="21.53" y="-0.63" style="font-size: 27.4px; font-family: 'DejaVu Sans', sans-serif">=</tspan> <tspan x="49.8" y="-0.63" style="font-size: 27.4px; font-family: 'DejaVu Sans', sans-serif">1</tspan> <tspan x="67.22" y="-0.63" style="font-size: 27.4px; font-family: 'DejaVu Sans', sans-serif">0</tspan> <tspan x="113.88" y="-0.63" style="font-size: 27.4px; font-family: 'DejaVu Sans', sans-serif">Ω</tspan> <tspan x="147.96" y="-0.63" style="font-size: 27.4px; font-family: 'DejaVu Sans', sans-serif">,</tspan> <tspan x="234.04" y="-0.63" style="font-size: 27.4px; font-family: 'DejaVu Sans', sans-serif">:</tspan> <tspan x="268.82" y="-0.63" style="font-size: 27.4px; font-family: 'DejaVu Sans', sans-serif">=</tspan> <tspan x="297.09" y="-0.63" style="font-size: 27.4px; font-family: 'DejaVu Sans', sans-serif">0</tspan> <tspan x="314.51" y="-0.63" style="font-size: 27.4px; font-family: 'DejaVu Sans', sans-serif">.</tspan> <tspan x="323.21" y="-0.63" style="font-size: 27.4px; font-family: 'DejaVu Sans', sans-serif">5</tspan> <tspan x="340.63" y="-0.63" style="font-size: 27.4px; font-family: 'DejaVu Sans', sans-serif">,</tspan> <tspan x="463.68" y="-0.63" style="font-size: 27.4px; font-family: 'DejaVu Sans', sans-serif">:</tspan> <tspan x="498.46" y="-0.63" style="font-size: 27.4px; font-family: 'DejaVu Sans', sans-serif">=</tspan> <tspan x="526.73" y="-0.63" style="font-size: 27.4px; font-family: 'DejaVu Sans', sans-serif">0</tspan> <tspan x="544.15" y="-0.63" style="font-size: 27.4px; font-family: 'DejaVu Sans', sans-serif">,</tspan> <tspan x="599.62" y="-0.63" style="font-size: 27.4px; font-family: 'DejaVu Sans', sans-serif">&gt;</tspan> <tspan x="627.89" y="-0.63" style="font-size: 27.4px; font-family: 'DejaVu Sans', sans-serif">4</tspan> <tspan x="645.31" y="-0.63" style="font-size: 27.4px; font-family: 'DejaVu Sans', sans-serif">0</tspan> <tspan x="662.73" y="-0.63" style="font-size: 27.4px; font-family: 'DejaVu Sans', sans-serif">0</tspan> <tspan x="722.66" y="-0.63" style="font-size: 27.4px; font-family: 'DejaVu Sans', sans-serif">/</tspan> <tspan x="84.9" y="-10.97" style="font-size: 19.18px; font-family: 'DejaVu Sans', sans-serif">−</tspan> <tspan x="100.95" y="-10.97" style="font-size: 19.18px; font-family: 'DejaVu Sans', sans-serif">2</tspan> <tspan x="135.06" y="3.8" style="font-style: oblique; font-size: 19.18px; font-family: 'DejaVu Sans', sans-serif">p</tspan> </text> </g> </g> </g> <g id="axes_6"> <g id="cbbg_c"> <path d="M 1383.6 1471.5  L 1414.4 1471.5  L 1414.4 851.1  L 1383.6 851.1  z " style="fill: #ffffff"/> </g><rect x="1383.60" y="851.10" width="30.80" height="620.40" fill="url(#cg_c)"/> <g id="matplotlib.axis_11"/> <g id="matplotlib.axis_12"> <g id="ytick_72"> <g id="line2d_189"> <g> <use xlink:href="#m5e54e8ce2d" x="1414.4" y="1461.57" style="stroke: #000000; stroke-width: 1.8"/> </g> </g> <g id="text_39"> <text style="font-size: 22.5px; font-family: 'DejaVu Sans', sans-serif; text-anchor: start" x="1430.4" y="1470.12" transform="rotate(-0 1430.4 1470.12)">0.8</text> </g> </g> <g id="ytick_73"> <g id="line2d_190"> <g> <use xlink:href="#m5e54e8ce2d" x="1414.4" y="1370.45" style="stroke: #000000; stroke-width: 1.8"/> </g> </g> <g id="text_40"> <text style="font-size: 22.5px; font-family: 'DejaVu Sans', sans-serif; text-anchor: start" x="1430.4" y="1379" transform="rotate(-0 1430.4 1379)">1.0</text> </g> </g> <g id="ytick_74"> <g id="line2d_191"> <g> <use xlink:href="#m5e54e8ce2d" x="1414.4" y="1279.34" style="stroke: #000000; stroke-width: 1.8"/> </g> </g> <g id="text_41"> <text style="font-size: 22.5px; font-family: 'DejaVu Sans', sans-serif; text-anchor: start" x="1430.4" y="1287.89" transform="rotate(-0 1430.4 1287.89)">1.2</text> </g> </g> <g id="ytick_75"> <g id="line2d_192"> <g> <use xlink:href="#m5e54e8ce2d" x="1414.4" y="1188.22" style="stroke: #000000; stroke-width: 1.8"/> </g> </g> <g id="text_42"> <text style="font-size: 22.5px; font-family: 'DejaVu Sans', sans-serif; text-anchor: start" x="1430.4" y="1196.77" transform="rotate(-0 1430.4 1196.77)">1.4</text> </g> </g> <g id="ytick_76"> <g id="line2d_193"> <g> <use xlink:href="#m5e54e8ce2d" x="1414.4" y="1097.11" style="stroke: #000000; stroke-width: 1.8"/> </g> </g> <g id="text_43"> <text style="font-size: 22.5px; font-family: 'DejaVu Sans', sans-serif; text-anchor: start" x="1430.4" y="1105.66" transform="rotate(-0 1430.4 1105.66)">1.6</text> </g> </g> <g id="ytick_77"> <g id="line2d_194"> <g> <use xlink:href="#m5e54e8ce2d" x="1414.4" y="1005.99" style="stroke: #000000; stroke-width: 1.8"/> </g> </g> <g id="text_44"> <text style="font-size: 22.5px; font-family: 'DejaVu Sans', sans-serif; text-anchor: start" x="1430.4" y="1014.54" transform="rotate(-0 1430.4 1014.54)">1.8</text> </g> </g> <g id="ytick_78"> <g id="line2d_195"> <g> <use xlink:href="#m5e54e8ce2d" x="1414.4" y="914.88" style="stroke: #000000; stroke-width: 1.8"/> </g> </g> <g id="text_45"> <text style="font-size: 22.5px; font-family: 'DejaVu Sans', sans-serif; text-anchor: start" x="1430.4" y="923.43" transform="rotate(-0 1430.4 923.43)">2.0</text> </g> </g> <g id="cblab_c" transform="translate(-8.2 3.6)" clip-path="url(#cbc_c)"> <text style="font-size: 36.7px; font-family: 'DejaVu Sans', sans-serif; text-anchor: middle" x="1514.07" y="1161.3" transform="rotate(-90 1514.07 1161.3)">log10(count)</text> </g> </g> <g id="patch_22"> <path d="M 1383.6 1471.5  L 1383.6 851.1  " style="fill: none; stroke: #000000; stroke-width: 1.6; stroke-linejoin: miter; stroke-linecap: square"/> </g> <g id="patch_23"> <path d="M 1414.4 1471.5  L 1414.4 851.1  " style="fill: none; stroke: #000000; stroke-width: 1.6; stroke-linejoin: miter; stroke-linecap: square"/> </g> <g id="patch_24"> <path d="M 1383.6 1471.5  L 1414.4 1471.5  " style="fill: none; stroke: #000000; stroke-width: 1.6; stroke-linejoin: miter; stroke-linecap: square"/> </g> <g id="patch_25"> <path d="M 1383.6 851.1  L 1414.4 851.1  " style="fill: none; stroke: #000000; stroke-width: 1.6; stroke-linejoin: miter; stroke-linecap: square"/> </g> </g> </g> <defs> <clipPath id="p8cb28b91f1"> <rect x="173.9" y="46" width="661.6" height="620.4"/> </clipPath> <clipPath id="pff59fe153e"> <rect x="1217.9" y="46" width="661.6" height="620.4"/> </clipPath> <clipPath id="p97f0729a24"> <rect x="679.9" y="851.1" width="661.6" height="620.4"/> </clipPath> </defs> </svg> </body></html>
